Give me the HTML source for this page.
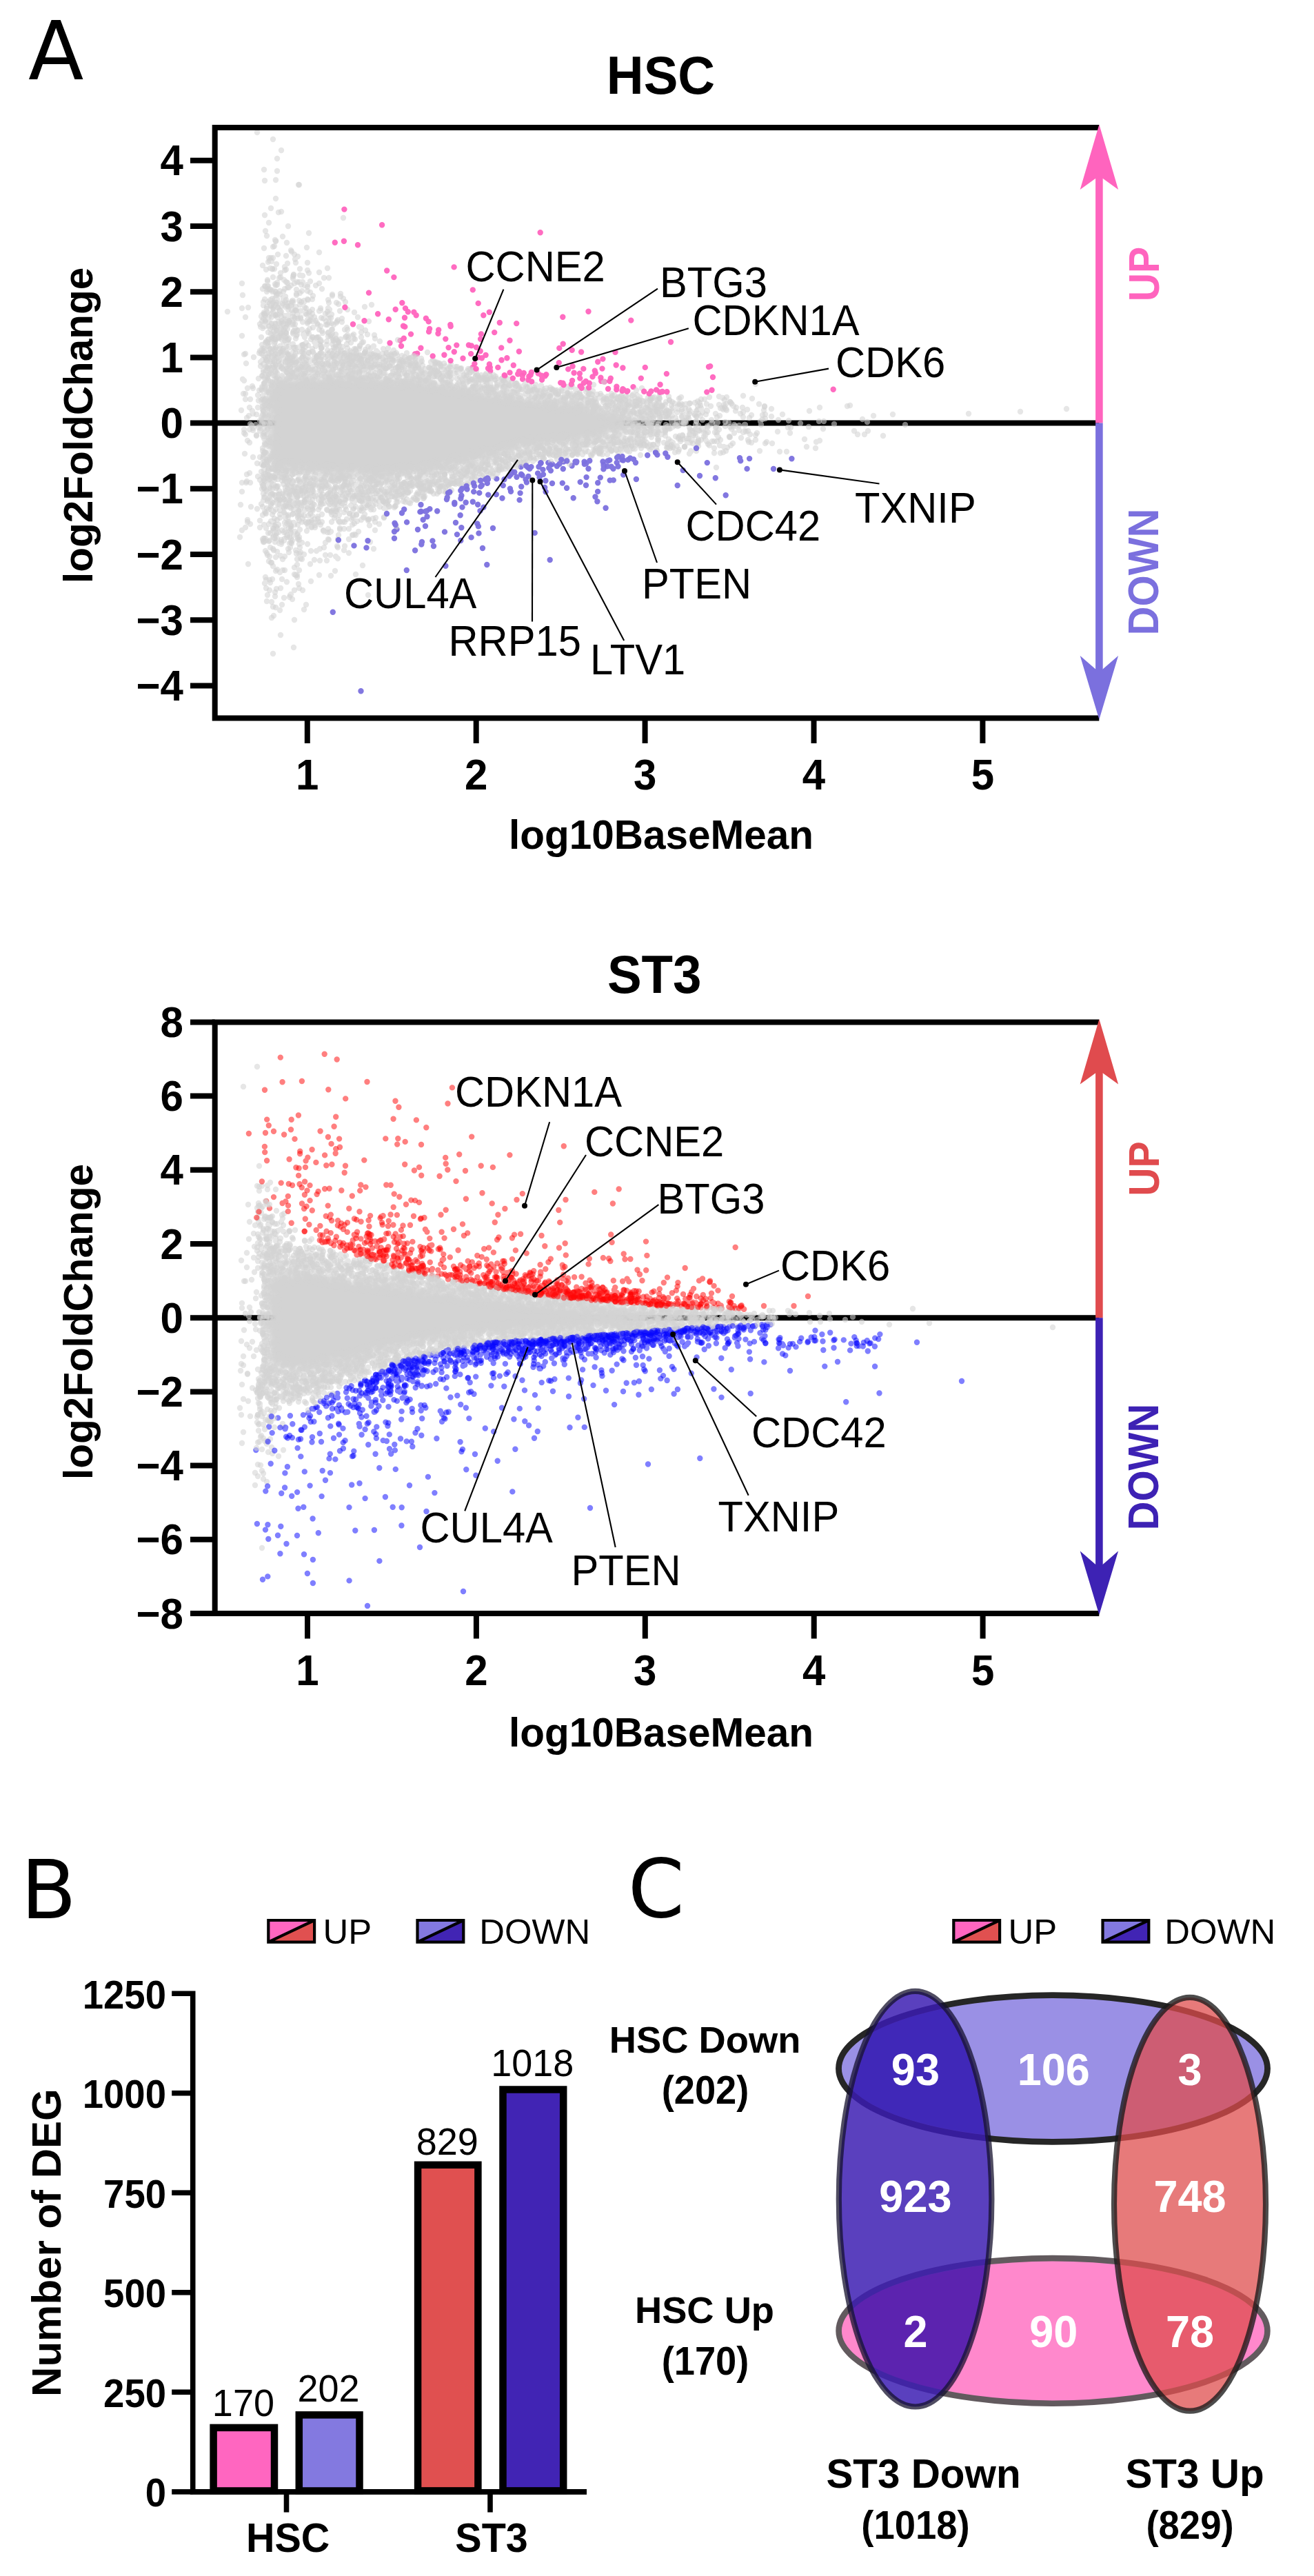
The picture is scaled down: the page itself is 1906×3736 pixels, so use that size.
<!DOCTYPE html>
<html lang="en"><head><meta charset="utf-8"><title>Figure</title>
<style>html,body{margin:0;padding:0;background:#fff}svg{display:block}</style></head>
<body>
<svg width="1906" height="3736" viewBox="0 0 1906 3736" fill="none">
<rect width="1906" height="3736" fill="#fff"/>
<defs><filter id="bl" x="-5%" y="-30%" width="110%" height="160%"><feGaussianBlur stdDeviation="6"/></filter></defs>
<!-- ============ panel A : HSC ============ -->
<path d="M311.7 613.6H1594.3" stroke="#000" stroke-width="8"/>
<path stroke-linecap="round" d="M841.3 548.6h0M872.2 552.8h0M711.2 538h0M646.3 491.6h0M829.7 507.8h0M876.9 553.6h0M739.5 540.4h0M704.6 515h0M693.6 518.2h0M894.3 565h0M679.9 500.5h0M863.8 541.2h0M846.7 555.5h0M749.2 469.1h0M623.1 476.9h0M757.8 544.8h0M830.1 551.9h0M650.6 504.1h0M591.8 452.3h0M622.1 481h0M1025.3 568.6h0M732.4 545.5h0M767.3 545.9h0M602 513.5h0M770.8 540h0M885.8 548.7h0M957.6 557.8h0M811.3 504.9h0M744.8 529.7h0M758.1 549.9h0M710.8 533h0M727.5 522.2h0M752.9 509.8h0M571.4 402.1h0M691 503.8h0M685.4 533.1h0M966.9 542.1h0M587.3 473.9h0M792.3 543.1h0M952.1 565.4h0M849.8 553h0M565.5 497.5h0M605.2 512.8h0M580.6 493.9h0M918.5 561.1h0M617.9 461.7h0M832.6 540.8h0M824.2 535.4h0M635.5 483.7h0M585.8 490.8h0" stroke="#FF64BE" stroke-width="8.4" opacity="0.95"/>
<path stroke-linecap="round" d="M746.3 684.7h0M874.5 669.5h0M696.5 740.9h0M910.9 666.9h0M822.1 707.8h0M787.5 681.1h0M755.6 677h0M951 656h0M575.5 767.8h0M738.7 690.6h0M880.9 676.4h0M720.3 694.4h0M829.6 675.5h0M1052.7 718.3h0M801 673.1h0M693.1 731.7h0M692.3 759.4h0M784.6 671.8h0M741 712.7h0M677.5 709.5h0M886.7 676.7h0M894.7 670.9h0M801 701h0M922.9 695h0M683.6 779.4h0M815.8 700.6h0M884.3 667.4h0M602.1 798.3h0M669.4 718.8h0M668.3 784h0M902.5 662h0M610.8 741.7h0M688.2 704.9h0M807.9 676h0M613.7 753.8h0M953.4 659.6h0M795.3 671.1h0M889.6 679.8h0M765.7 677.9h0M791.4 697.3h0M847.6 669.7h0M623.4 738.1h0M850 703.7h0M791.6 713.3h0M756 687.6h0M867.1 712.9h0M627.4 784.4h0M659.3 731.1h0M939.2 660.2h0M646.4 820.8h0M763.9 699.6h0M572.5 758.7h0M788 688.1h0M968.4 662.7h0M781.5 677h0M902.3 667h0M953.3 659.4h0M756.2 705.8h0M766.4 690.9h0M817.5 669.6h0" stroke="#7B70DE" stroke-width="8.4" opacity="0.95"/>
<path d="M390.7 555.8L398 551.1L405.4 547.2L412.7 547.2L420.1 547.2L427.4 547.2L434.8 547.2L442.1 547.2L449.5 547.2L456.8 547.2L464.2 547.2L471.5 547.2L478.9 547.2L486.2 547.2L493.6 547.2L500.9 547.2L508.2 547.2L515.6 547.2L522.9 547.2L530.3 547.2L537.6 547.2L545 547.2L552.3 547.7L559.7 548.3L567 548.9L574.4 549.5L581.7 550.1L589.1 550.7L596.4 551.3L603.8 551.9L611.1 552.5L618.5 553.4L625.8 554.5L633.1 555.7L640.5 556.9L647.8 558L655.2 559.2L662.5 560.4L669.9 561.5L677.2 562.7L684.6 563.9L691.9 565.2L699.3 566.6L706.6 567.9L714 569.3L721.3 570.6L728.7 572L736 573.3L743.4 574.7L750.7 576.1L758 577.2L765.4 578L772.7 578.9L780.1 579.7L787.4 580.5L794.8 581.4L802.1 582.2L809.5 582.8L816.8 583.4L824.2 583.9L831.5 584.5L838.9 585.1L846.2 585.6L853.6 587.3L860.9 590.2L868.3 592.9L875.6 595.6L882.9 598.1L890.3 600.6L897.6 602.9L905 605.2L912.3 607.4L919.7 609.4L927 611.4L934.4 612.6L934.4 614.6L927 615.7L919.7 617.6L912.3 619.6L905 621.7L897.6 623.9L890.3 626.1L882.9 628.5L875.6 630.9L868.3 633.4L860.9 636L853.6 638.7L846.2 640.4L838.9 640.9L831.5 641.4L824.2 641.9L816.8 642.5L809.5 643L802.1 643.6L794.8 644.5L787.4 645.5L780.1 646.4L772.7 647.4L765.4 648.3L758 649.3L750.7 650.7L743.4 652.6L736 654.5L728.7 656.4L721.3 658.2L714 660.1L706.6 662L699.3 663.9L691.9 665.8L684.6 667.6L677.2 669.3L669.9 671L662.5 672.7L655.2 674.4L647.8 676L640.5 677.7L633.1 679.4L625.8 681.1L618.5 682.7L611.1 683.9L603.8 684.7L596.4 685.4L589.1 686.2L581.7 686.9L574.4 687.6L567 688.4L559.7 689.1L552.3 689.9L545 690.6L537.6 690.2L530.3 689.9L522.9 689.5L515.6 689.1L508.2 688.8L500.9 688.4L493.6 688L486.2 687.6L478.9 687.3L471.5 686.7L464.2 686L456.8 685.3L449.5 684.5L442.1 683.8L434.8 683.1L427.4 682.4L420.1 681.6L412.7 680.9L405.4 680.2L398 676.1L390.7 671.4Z" fill="#D3D3D3" filter="url(#bl)"/>
<path stroke-linecap="round" d="M351 487h0m6 213h0m2-61h0m0 118h0m1-311h0m3 169h0m3-55h0m6 41h0m1-409h0m0 546h0m1-147h0m3 19h0m0 145h0m1-281h0m1 131h0m0 2h0m1-41h0m0 49h0m1-196h0m0 57h0m0 113h0m0 26h0m0 35h0m0 42h0m1-152h0m0 62h0m0 101h0m1-194h0m0 47h0m0 118h0m0 34h0m0 78h0m1-206h0m0 47h0m0 16h0m1-179h0m0 121h0m0 252h0m1-446h0m0 132h0m0 28h0m1-209h0m0 227h0m0 101h0m0 67h0m1-219h0m0 70h0m0 35h0m0 70h0m0 34h0m1-245h0m0 10h0m0 30h0m0 125h0m1-187h0m0 32h0m0 268h0m1-320h0m0 416h0m1-246h0m0 28h0m0 87h0m0 48h0m1-471h0m0 142h0m0 97h0m0 38h0m0 59h0m0 178h0m1-347h0m0 43h0m0 66h0m0 49h0m0 21h0m0 32h0m1-240h0m0 66h0m0 18h0m0 30h0m0 108h0m0 41h0m0 26h0m1-355h0m0 159h0m0 98h0m0 7h0m0 128h0m1-285h0m0 8h0m0 309h0m1-408h0m0 258h0m0 7h0m0 25h0m0 24h0m1-62h0m0 1h0m0 50h0m1-432h0m0 457h0m0 3h0m0 87h0m1-425h0m0 109h0m0 57h0m1-136h0m0 47h0m0 171h0m0 123h0m1-240h0m0 142h0m0 8h0m0 18h0m0 13h0m1-206h0m0 35h0m1 47h0m0 100h0m0 41h0m0 20h0m1-310h0m0 28h0m0 5h0m0 51h0m0 49h0m0 161h0m0 30h0m1-344h0m0 52h0m0 277h0m0 190h0m1-387h0m0 24h0m1-89h0m0 262h0m0 109h0m1-111h0m1-258h0m0 16h0m0 230h0m1-239h0m0 7h0m0 204h0m0 48h0m0 8h0m0 27h0m0 12h0m1-57h0m0 43h0m0 11h0m1-315h0m0 220h0m0 21h0m0 3h0m0 24h0m0 17h0m1-360h0m0 44h0m0 246h0m0 27h0m0 39h0m1-259h0m0 62h0m0 174h0m0 35h0m0 85h0m1-427h0m0 102h0m0 190h0m0 1h0m1-196h0m0 218h0m1-267h0m0 79h0m0 2h0m0 172h0m1-189h0m0 143h0m0 107h0m1-336h0m0 103h0m1-132h0m0 29h0m0 102h0m0 13h0m0 169h0m0 2h0m0 33h0m1-80h0m1-246h0m0 235h0m0 17h0m0 43h0m1-295h0m0 75h0m0 15h0m0 180h0m1-307h0m0 122h0m0 8h0m1-160h0m0 146h0m1 13h0m0 12h0m1-90h0m0 31h0m0 225h0m0 11h0m1-192h0m0 12h0m0 148h0m0 27h0m0 90h0m0 1h0m1-347h0m0 23h0m0 25h0m0 39h0m0 165h0m0 13h0m0 54h0m1-14h0m1-493h0m0 446h0m1 75h0m1-364h0m1 287h0m1-299h0m0 88h0m0 245h0m1-214h0m0 18h0m0 237h0m1-270h0m0 25h0m0 15h0m0 117h0m1-174h0m1-64h0m0 2h0m2 254h0m1-195h0m0 227h0m1-173h0m0 219h0m1-301h0m0 268h0m1-55h0m0 3h0m0 72h0m1-361h0m3 279h0m1 39h0m1-208h0m0 178h0m0 26h0m0 15h0m1-250h0m0 14h0m0 21h0m2 13h0m0 209h0m1 30h0m1-348h0m0 51h0m3 284h0m1-213h0m0 203h0m2-245h0m0 211h0m1-232h0m0 20h0m1 2h0m0 17h0m0 214h0m1-2h0m1-19h0m1 0h0m2-150h0m0 120h0m1 112h0m1-316h0m1 83h0m0 185h0m1-198h0m1-94h0m0 95h0m0 225h0m1-62h0m0 16h0m0 62h0m1-334h0m0 99h0m0 137h0m0 47h0m1-7h0m1-195h0m0 145h0m0 5h0m0 16h0m1-141h0m0 188h0m0 14h0m1-217h0m1-46h0m0 52h0m0 176h0m1-204h0m0 161h0m1-3h0m1-158h0m0 229h0m0 81h0m1-325h0m0 30h0m1-27h0m0 8h0m0 11h0m0 172h0m0 11h0m0 9h0m2-253h0m0 224h0m0 1h0m0 31h0m0 74h0m1-297h0m0 14h0m0 180h0m0 85h0m1-79h0m1-170h0m0 22h0m0 8h0m0 209h0m1-84h0m0 24h0m1-167h0m1 153h0m0 38h0m1-173h0m1-241h0m0 389h0m1-2h0m1-179h0m1-35h0m0 246h0m2-46h0m1-203h0m0 60h0m1-13h0m0 153h0m0 36h0m1-207h0m0 204h0m1-197h0m0 182h0m0 6h0m2-213h0m0 27h0m0 153h0m1-128h0m0 134h0m1-196h0m0 41h0m0 233h0m1-84h0m0 99h0m1-285h0m0 26h0m0 3h0m1-67h0m0 266h0m0 56h0m1-244h0m1-18h0m0 222h0m1-185h0m1-34h0m1 194h0m2-168h0m0 16h0m0 160h0m1-197h0m0 19h0m0 186h0m1-178h0m0 135h0m0 30h0m1-192h0m0 183h0m0 22h0m0 15h0m1-216h0m0 202h0m1-179h0m0 175h0m1-227h0m0 35h0m0 195h0m0 13h0m1-54h0m0 20h0m0 18h0m1-212h0m0 11h0m1-43h0m0 28h0m0 207h0m1-171h0m0 139h0m0 42h0m1-176h0m2 135h0m0 40h0m0 30h0m1-287h0m0 230h0m1 66h0m1-229h0m0 160h0m1-153h0m0 139h0m0 19h0m1-141h0m1-5h0m1 151h0m2-217h0m0 72h0m1-43h0m0 6h0m0 8h0m0 31h0m0 143h0m1-177h0m0 225h0m1-55h0m0 19h0m0 1h0m1-196h0m0 26h0m1 141h0m1 2h0m0 7h0m2-167h0m0 11h0m1 181h0m1-29h0m1-12h0m1 12h0m5 16h0m0 16h0m0 2h0m2-13h0m2-186h0m0 207h0m5-212h0m0 8h0m0 170h0m1-175h0m0 160h0m3-8h0m1-133h0m0 190h0m1-222h0m0 166h0m1-131h0m0 9h0m1-63h0m0 198h0m0 37h0m2-198h0m0 153h0m1-156h0m1 150h0m1-135h0m1-9h0m0 169h0m4-184h0m0 24h0m1 15h0m0 122h0m0 32h0m1-155h0m2-28h0m0 17h0m0 3h0m0 166h0m1 0h0m2-161h0m0 148h0m2-168h0m1 161h0m1-168h0m2 196h0m2-192h0m0 13h0m0 19h0m2-18h0m0 2h0m0 148h0m0 31h0m2-47h0m1-120h0m0 3h0m0 138h0m0 17h0m2-41h0m1-124h0m0 159h0m1-19h0m1-167h0m0 182h0m1-34h0m0 25h0m1 23h0m1-38h0m1-141h0m0 166h0m1-155h0m0 137h0m0 6h0m0 8h0m0 6h0m2-12h0m4 4h0m0 5h0m1-26h0m3-113h0m2 104h0m1 19h0m1-18h0m1-130h0m2 4h0m0 141h0m2 2h0m2-162h0m0 40h0m2 111h0m1-116h0m1-17h0m0 2h0m2-11h0m0 143h0m1-130h0m0 139h0m1-136h0m4-11h0m1 18h0m0 112h0m0 33h0m1-28h0m2-148h0m1 183h0m2-143h0m2 101h0m1-107h0m1 112h0m0 11h0m1-149h0m0 133h0m0 8h0m0 21h0m3 3h0m1-146h0m0 14h0m1 119h0m1-153h0m0 161h0m1 9h0m1-143h0m0 110h0m2-100h0m0 98h0m0 10h0m1-136h0m0 149h0m1-131h0m0 130h0m1-32h0m0 33h0m0 9h0m1-17h0m1 9h0m1-14h0m0 3h0m1-113h0m0 123h0m2-152h0m0 11h0m1-17h0m1 31h0m0 10h0m0 101h0m1-17h0m2-97h0m2-11h0m0 9h0m0 127h0m0 5h0m1-6h0m0 1h0m1-6h0m1-121h0m0 3h0m2 96h0m0 37h0m1-36h0m1 22h0m2-136h0m0 14h0m1-17h0m2 109h0m4-109h0m0 121h0m0 5h0m2-101h0m2-9h0m0 114h0m1-19h0m3-92h0m1 93h0m1-75h0m3-13h0m0 102h0m1-119h0m1 98h0m0 11h0m1-96h0m0 15h0m0 75h0m1-93h0m2 11h0m1 90h0m0 20h0m4-133h0m1 13h0m0 6h0m0 100h0m2-10h0m1-98h0m1 111h0m1-96h0m0 89h0m1 4h0m1-104h0m4 15h0m0 69h0m0 18h0m0 16h0m1-109h0m3-5h0m1 14h0m1-3h0m0 69h0m1-92h0m1 83h0m2-69h0m0 107h0m2-17h0m4 11h0m2-81h0m0 48h0m1 0h0m0 7h0m2 29h0m2-113h0m1 6h0m1 102h0m1-84h0m4-19h0m2 20h0m2 54h0m0 24h0m1-24h0m0 10h0m2-3h0m1-67h0m0 3h0m0 54h0m1 2h0m1 9h0m1-72h0m0 73h0m2-3h0m1 16h0m2-12h0m1-59h0m0 71h0m2-87h0m1 9h0m1-9h0m0 17h0m2-16h0m0 6h0m0 10h0m1 45h0m2 19h0m1 0h0m1-80h0m0 75h0m0 5h0m1-82h0m2 68h0m1-76h0m0 94h0m2-79h0m0 9h0m1-3h0m1-16h0m0 24h0m0 41h0m0 17h0m7-72h0m3-4h0m2 55h0m1-56h0m1 1h0m1 74h0m1 0h0m1-14h0m1-67h0m1 4h0m4-3h0m1 89h0m1-71h0m1-16h0m3 14h0m0 7h0m0 47h0m1-55h0m1 72h0m1-4h0m1-11h0m1 7h0m2-63h0m0 6h0m2-16h0m1 68h0m4-1h0m1-10h0m1 6h0m2-56h0m2 44h0m1-57h0m3 1h0m1 16h0m0 8h0m0 34h0m0 28h0m1-100h0m1 22h0m0 62h0m1-2h0m2-1h0m4-62h0m0 28h0m0 44h0m1-57h0m0 46h0m2-64h0m0 80h0m2-79h0m0 30h0m1 36h0m3-63h0m2 0h0m1 6h0m0 75h0m1-72h0m1 61h0m1-68h0m0 71h0m1-6h0m2-69h0m0 78h0m2-51h0m1 34h0m0 6h0m3-60h0m0 7h0m1 33h0m2 14h0m1-43h0m0 5h0m0 43h0m1-23h0m2 26h0m0 1h0m1-65h0m1-8h0m3 71h0m1-22h0m1-26h0m2-9h0m0 10h0m0 30h0m2-11h0m1-29h0m0 58h0m1-63h0m0 15h0m0 41h0m2-19h0m0 17h0m1 2h0m1-12h0m1-30h0m1 55h0m2 0h0m2-61h0m2 41h0m1-52h0m0 39h0m2-25h0m2 5h0m1-17h0m0 24h0m1-15h0m0 1h0m0 46h0m1 9h0m1-57h0m0 55h0m1-50h0m1-12h0m0 20h0m0 28h0m1 16h0m1-15h0m3-19h0m0 5h0m1-13h0m1-25h0m0 15h0m1-9h0m0 19h0m1 30h0m1-23h0m1-34h0m0 14h0m5 23h0m1-18h0m0 1h0m1 45h0m0 2h0m1-50h0m0 33h0m1-49h0m1 26h0m0 6h0m3 20h0m3 12h0m3-45h0m0 3h0m0 16h0m1 27h0m2-22h0m0 27h0m2-68h0m1 70h0m1-10h0m1-37h0m1-7h0m0 7h0m1 39h0m3-25h0m0 39h0m6-4h0m5-20h0m2-17h0m2-23h0m19 47h0m11-38h0m3 26h0m0 17h0m3-28h0m3-3h0m3 37h0m2-30h0m2-15h0m11-14h0m3 4h0m4 38h0m3-48h0m6 11h0m15 30h0m8-24h0m6 29h0m7-20h0m1 5h0m6-15h0m9 3h0m10 5h0m2 46h0m16-35h0m20 17h0m27-15h0m101-21h0m18 15h0m167-19h0" stroke="#D3D3D3" stroke-width="8.4" opacity="0.57"/>
<path stroke-linecap="round" d="M351 411h0m0 358h0m3-141h0m2-49h0m0 186h0m2-159h0m6 129h0m1-118h0m9 74h0m1-71h0m1-108h0m0 54h0m2-41h0m1-36h0m0 91h0m0 93h0m1-112h0m0 49h0m1-88h0m0 213h0m1-139h0m0 63h0m0 127h0m1-230h0m0 51h0m0 25h0m0 4h0m0 34h0m0 38h0m1-396h0m0 249h0m0 137h0m0 44h0m0 42h0m1-318h0m0 31h0m0 115h0m0 44h0m1-202h0m0 78h0m0 321h0m1-405h0m0 354h0m0 70h0m1-370h0m0 22h0m0 24h0m0 91h0m0 36h0m1-237h0m0 80h0m0 74h0m0 12h0m0 12h0m0 66h0m1-263h0m0 54h0m0 110h0m0 31h0m0 171h0m1-118h0m1-79h0m0 46h0m0 74h0m1-334h0m0 244h0m0 74h0m0 39h0m0 25h0m1-266h0m0 326h0m0 57h0m1-450h0m0 145h0m0 2h0m0 73h0m0 113h0m0 84h0m1-638h0m0 246h0m0 132h0m0 110h0m0 106h0m0 152h0m1-191h0m0 21h0m1-120h0m0 14h0m0 24h0m0 84h0m1-432h0m0 85h0m0 59h0m0 76h0m0 12h0m1-231h0m0 180h0m0 176h0m0 3h0m1-281h0m0 52h0m0 111h0m0 59h0m0 11h0m0 48h0m1-478h0m0 204h0m0 22h0m0 175h0m0 43h0m0 12h0m0 80h0m0 34h0m1-362h0m0 170h0m0 63h0m0 54h0m1-169h0m0 2h0m0 123h0m0 10h0m1-141h0m0 120h0m0 47h0m1 23h0m0 90h0m2-612h0m0 89h0m0 137h0m0 40h0m0 8h0m1 18h0m0 367h0m1-534h0m0 484h0m1-385h0m0 54h0m0 10h0m0 48h0m0 117h0m1-118h0m0 117h0m0 9h0m0 12h0m0 33h0m1-305h0m0 278h0m1-222h0m0 15h0m1-7h0m0 56h0m0 145h0m0 89h0m1-224h0m0 150h0m0 80h0m1-335h0m0 76h0m0 182h0m0 33h0m0 42h0m1-281h0m0 35h0m0 138h0m0 88h0m1-289h0m0 55h0m0 148h0m1 2h0m0 53h0m1-183h0m0 6h0m1-186h0m0 374h0m0 27h0m0 23h0m2-76h0m0 158h0m1-333h0m0 209h0m1-265h0m0 278h0m1-51h0m0 54h0m0 62h0m1-353h0m0 34h0m0 2h0m0 41h0m1-56h0m0 35h0m0 9h0m0 182h0m1-297h0m0 8h0m2 354h0m1-249h0m0 186h0m1-209h0m1-111h0m1 63h0m0 70h0m0 139h0m0 45h0m1-183h0m1 176h0m0 102h0m1-411h0m0 100h0m0 7h0m0 245h0m2-214h0m0 346h0m1-358h0m0 14h0m0 172h0m0 13h0m0 15h0m1-37h0m0 3h0m1-259h0m0 85h0m0 163h0m2-136h0m1-58h0m0 33h0m1-50h0m0 28h0m0 37h0m0 151h0m1-150h0m0 126h0m0 45h0m0 19h0m1-316h0m0 122h0m0 182h0m1-236h0m0 209h0m1-164h0m0 160h0m0 58h0m0 9h0m1-330h0m0 125h0m0 115h0m1-123h0m0 189h0m1-21h0m2-194h0m0 12h0m0 8h0m0 2h0m1-12h0m1 160h0m1-206h0m0 27h0m1-45h0m0 208h0m1-163h0m1-38h0m0 50h0m1 153h0m0 9h0m0 22h0m0 5h0m0 40h0m1-256h0m0 230h0m1-226h0m0 190h0m1-162h0m0 11h0m0 145h0m0 19h0m0 23h0m0 15h0m0 11h0m1-274h0m0 54h0m0 185h0m1-260h0m0 97h0m0 210h0m1-366h0m0 273h0m1-137h0m0 7h0m0 130h0m0 10h0m0 35h0m1-266h0m1 219h0m1 30h0m1-188h0m0 256h0m1-290h0m0 31h0m0 47h0m0 156h0m1-254h0m0 6h0m2 256h0m0 81h0m1-319h0m0 349h0m1-317h0m1-40h0m0 6h0m1 52h0m0 162h0m0 41h0m1-235h0m0 186h0m1 18h0m0 24h0m1-216h0m1 291h0m1-80h0m1-261h0m1 28h0m0 9h0m0 191h0m0 116h0m1-266h0m0 210h0m0 1h0m2-237h0m0 20h0m0 219h0m1-331h0m0 260h0m1-183h0m0 190h0m1-169h0m0 153h0m0 14h0m1-188h0m1-70h0m0 97h0m0 175h0m1-192h0m1-35h0m0 206h0m0 14h0m1-183h0m0 18h0m0 192h0m2-250h0m0 41h0m0 12h0m0 4h0m0 151h0m0 70h0m1-60h0m1-164h0m0 185h0m1-186h0m0 15h0m0 137h0m1 12h0m2-157h0m0 2h0m0 22h0m0 174h0m1-222h0m0 188h0m0 3h0m1-158h0m1 207h0m1-54h0m0 40h0m1 22h0m1-235h0m1-18h0m0 26h0m0 20h0m1-41h0m0 2h0m0 26h0m0 179h0m0 28h0m2-25h0m2-180h0m0 18h0m0 166h0m1-223h0m0 50h0m0 188h0m1-191h0m0 158h0m0 10h0m1-228h0m0 33h0m0 161h0m0 28h0m1-214h0m4 34h0m1 17h0m0 144h0m0 9h0m1-20h0m0 19h0m2-215h0m0 38h0m0 3h0m0 4h0m2 24h0m0 139h0m0 9h0m1 9h0m1-197h0m0 179h0m1-160h0m0 12h0m0 152h0m1-164h0m0 161h0m2 3h0m1-181h0m0 280h0m1-252h0m0 137h0m1-152h0m0 177h0m0 63h0m2-86h0m3-5h0m1 41h0m0 8h0m1-188h0m1 6h0m0 135h0m1 11h0m0 9h0m0 9h0m0 17h0m3-200h0m0 6h0m1 25h0m0 193h0m1-189h0m0 152h0m1-190h0m0 11h0m0 196h0m1-198h0m0 17h0m1 148h0m1-164h0m0 198h0m1-226h0m0 216h0m1-172h0m1 138h0m1 30h0m1-172h0m0 137h0m1-156h0m1 150h0m0 8h0m1-145h0m0 15h0m0 166h0m1-197h0m1 180h0m1-164h0m0 1h0m1-1h0m0 174h0m1-161h0m1 171h0m1-25h0m1-177h0m0 11h0m0 187h0m1-10h0m2-31h0m0 31h0m1 0h0m0 9h0m0 2h0m1-197h0m0 2h0m1 5h0m1 27h0m1 156h0m1-151h0m0 116h0m0 23h0m2-151h0m2 136h0m0 6h0m1 14h0m0 9h0m1-195h0m0 168h0m1 15h0m1-12h0m1-161h0m0 29h0m0 115h0m1 26h0m2-182h0m0 187h0m1-144h0m2-27h0m0 16h0m1-24h0m0 167h0m2-142h0m0 153h0m1 10h0m1-153h0m0 132h0m2-9h0m1 33h0m2-33h0m0 24h0m1 7h0m1-10h0m1 4h0m1 11h0m1-37h0m1-131h0m2-41h0m0 161h0m1 25h0m1-149h0m0 163h0m1-178h0m1 152h0m1 9h0m3-24h0m0 8h0m0 8h0m1-130h0m0 160h0m1-152h0m0 126h0m1-164h0m0 1h0m0 9h0m2 141h0m1-135h0m0 3h0m0 157h0m1-36h0m0 9h0m0 4h0m1-138h0m0 133h0m1-131h0m1 134h0m0 7h0m1-119h0m0 117h0m0 24h0m1-174h0m1 147h0m1-124h0m4-24h0m0 26h0m0 8h0m0 4h0m0 139h0m1 6h0m1-170h0m0 11h0m1-9h0m2 18h0m1 116h0m0 35h0m1-162h0m1 148h0m1-23h0m1-114h0m0 127h0m1 0h0m2 10h0m2-169h0m0 134h0m1-106h0m1-20h0m0 131h0m1-107h0m1 96h0m1 5h0m2-130h0m1 166h0m1-162h0m2 17h0m1 8h0m0 118h0m3-15h0m1-112h0m0 112h0m0 23h0m2-14h0m1-1h0m0 10h0m2-27h0m1-85h0m0 96h0m1-1h0m1-130h0m0 12h0m1 125h0m0 10h0m2-13h0m2-127h0m0 120h0m1 9h0m0 17h0m6-30h0m0 15h0m2-12h0m0 9h0m1-19h0m0 7h0m2-98h0m0 88h0m1-101h0m0 131h0m0 13h0m3-143h0m1 118h0m1-7h0m1-90h0m1 107h0m1 6h0m1-139h0m0 134h0m3-111h0m2 90h0m1-109h0m1 131h0m1-132h0m0 113h0m0 9h0m4-5h0m2-96h0m2 3h0m3-12h0m0 12h0m1-22h0m1 34h0m0 63h0m0 12h0m0 10h0m1 6h0m1-109h0m0 7h0m0 1h0m0 8h0m2 67h0m1-100h0m0 3h0m0 102h0m1-97h0m1 98h0m1-1h0m2 1h0m1-93h0m4 22h0m1-22h0m0 3h0m0 98h0m1-105h0m3 5h0m0 88h0m4 8h0m1-73h0m5 53h0m0 17h0m0 9h0m3-10h0m2-96h0m0 102h0m1-27h0m4-70h0m0 74h0m5 20h0m1-8h0m0 7h0m5 1h0m2-12h0m1 2h0m1-3h0m0 14h0m1 5h0m2-98h0m0 68h0m0 20h0m1-69h0m3-5h0m0 13h0m1 40h0m1-42h0m1 41h0m2 4h0m3 2h0m2 8h0m1-78h0m0 19h0m1-3h0m1-2h0m1-11h0m2 82h0m3-23h0m0 24h0m2-59h0m0 61h0m1-13h0m1-66h0m0 65h0m0 14h0m1-74h0m1-4h0m0 81h0m2-20h0m0 22h0m1-72h0m2 42h0m4 19h0m1-7h0m3 13h0m2-11h0m1 0h0m1-55h0m1 68h0m3-67h0m1-5h0m1-11h0m1 14h0m6 53h0m3-59h0m0 43h0m0 11h0m1-66h0m1 73h0m2 15h0m2-14h0m2-55h0m0 54h0m1-18h0m0 16h0m1-47h0m0 59h0m3-83h0m2 17h0m0 49h0m1-6h0m1 24h0m1-32h0m1 2h0m1-33h0m0 49h0m2 3h0m3-12h0m1-45h0m0 3h0m0 28h0m0 7h0m1-28h0m0 47h0m1-57h0m2 32h0m1 26h0m1-58h0m0 32h0m1-4h0m0 7h0m0 22h0m1-58h0m0 54h0m1-67h0m0 43h0m0 29h0m1-62h0m1 4h0m0 46h0m1-28h0m1-12h0m0 33h0m3-34h0m0 45h0m0 1h0m0 3h0m1-2h0m1-34h0m1-1h0m2 37h0m0 9h0m1-25h0m1 22h0m1-48h0m1 24h0m1-18h0m1-12h0m0 30h0m1 12h0m1-61h0m0 48h0m1-36h0m2 56h0m5 3h0m3-27h0m1 2h0m1-39h0m0 1h0m0 6h0m2-6h0m1 1h0m0 16h0m1 18h0m0 11h0m2-48h0m0 17h0m0 2h0m0 18h0m2 26h0m0 16h0m2-36h0m1-21h0m0 16h0m2 2h0m1-21h0m2 26h0m0 1h0m1-43h0m1 4h0m4 12h0m0 45h0m1-44h0m1-23h0m0 71h0m4-73h0m1 11h0m2-7h0m1 17h0m0 33h0m2-15h0m1-15h0m1-29h0m8 53h0m0 8h0m2 17h0m3-74h0m0 31h0m1 16h0m4-39h0m0 66h0m10-71h0m1 54h0m2 0h0m1-35h0m1 34h0m2-18h0m2-1h0m5-5h0m1 13h0m3 19h0m1-2h0m4-35h0m0 21h0m1 8h0m1-35h0m1 45h0m1-59h0m2 43h0m5-16h0m7 9h0m5-29h0m2 51h0m7-13h0m3-40h0m1 59h0m1 11h0m3-65h0m2 56h0m2-36h0m2-36h0m1 73h0m4-66h0m3 4h0m2 2h0m8 35h0m6-26h0m7 40h0m24-49h0m1 18h0m10 36h0m21 12h0m2-35h0m27 28h0m3-29h0m15-8h0m1-20h0m62 17h0m7 4h0m147-12h0" stroke="#D3D3D3" stroke-width="8.4" opacity="0.57"/>
<path stroke-linecap="round" d="M330 452h0m22 98h0m2 2h0m2-92h0m0 170h0m10-34h0m1-33h0m0 37h0m0 24h0m0 39h0m5-31h0m5-7h0m0 38h0m0 33h0m1-72h0m1-59h0m1-99h0m0 34h0m0 45h0m0 63h0m1-223h0m0 177h0m0 32h0m1-156h0m0 5h0m0 72h0m0 13h0m0 9h0m0 247h0m1-331h0m0 129h0m0 31h0m1-351h0m0 153h0m0 113h0m0 7h0m0 2h0m0 68h0m1-148h0m0 1h0m0 120h0m0 1h0m0 10h0m0 155h0m0 37h0m1-284h0m0 25h0m0 58h0m0 204h0m1-361h0m0 187h0m0 20h0m0 37h0m0 43h0m1-213h0m0 93h0m0 95h0m0 18h0m1-169h0m0 17h0m0 15h0m0 73h0m0 65h0m0 1h0m1-64h0m0 37h0m0 3h0m0 133h0m1-436h0m0 210h0m0 27h0m0 67h0m0 24h0m1-88h0m0 176h0m0 51h0m1-361h0m0 70h0m0 36h0m0 51h0m0 59h0m0 34h0m1-355h0m0 81h0m0 57h0m1-27h0m0 176h0m0 50h0m1-358h0m0 44h0m0 37h0m0 13h0m0 6h0m0 72h0m0 126h0m0 73h0m1-284h0m0 71h0m0 80h0m1-122h0m0 60h0m0 158h0m0 60h0m1-183h0m0 53h0m0 18h0m0 34h0m0 7h0m1-258h0m0 90h0m0 27h0m0 90h0m0 29h0m0 6h0m0 163h0m1-348h0m0 126h0m0 69h0m0 89h0m0 90h0m2-408h0m0 130h0m0 97h0m1-206h0m0 19h0m0 4h0m0 102h0m1-189h0m0 47h0m0 19h0m0 206h0m0 2h0m0 111h0m1-63h0m1-215h0m0 296h0m1-354h0m0 31h0m0 306h0m1-244h0m0 126h0m0 26h0m1-163h0m0 148h0m1 53h0m1-329h0m1-19h0m0 71h0m0 349h0m1-362h0m0 80h0m1-42h0m0 247h0m1-190h0m0 153h0m1-311h0m0 28h0m0 59h0m0 69h0m0 238h0m1-448h0m0 112h0m0 9h0m0 8h0m0 339h0m1-281h0m0 8h0m1-59h0m0 293h0m1-225h0m0 16h0m0 315h0m1-100h0m0 10h0m0 89h0m1-497h0m0 158h0m0 146h0m0 32h0m1-182h0m0 169h0m0 96h0m1-380h0m0 80h0m0 214h0m0 35h0m1-19h0m1-253h0m0 395h0m1-309h0m0 130h0m0 36h0m0 17h0m1-285h0m0 353h0m1-348h0m0 267h0m1-232h0m0 39h0m0 196h0m0 117h0m1-64h0m1-251h0m0 174h0m1-287h0m0 275h0m0 46h0m0 53h0m0 44h0m1-291h0m0 203h0m0 29h0m1-211h0m0 244h0m1-66h0m1-215h0m0 159h0m1-270h0m0 58h0m0 240h0m1-222h0m0 22h0m0 7h0m0 4h0m1-10h0m0 37h0m0 175h0m0 8h0m1-314h0m0 75h0m1-34h0m0 28h0m0 27h0m0 181h0m1-238h0m0 70h0m1-40h0m0 69h0m1-171h0m0 32h0m1 22h0m0 101h0m0 175h0m0 37h0m0 15h0m1-252h0m0 45h0m0 136h0m2-284h0m0 125h0m1 1h0m0 139h0m1 92h0m1-310h0m0 77h0m0 173h0m0 34h0m1 19h0m1-66h0m0 14h0m2-33h0m0 15h0m0 7h0m0 63h0m1-62h0m1-178h0m0 11h0m0 174h0m0 96h0m2-256h0m2-29h0m0 7h0m1-8h0m0 283h0m1-301h0m0 26h0m1-16h0m0 191h0m1-277h0m0 109h0m2 242h0m1-224h0m0 225h0m2-72h0m1-233h0m0 216h0m1 131h0m1-265h0m0 159h0m0 10h0m0 23h0m1-12h0m1-203h0m0 5h0m1 242h0m1-41h0m1-21h0m0 61h0m1-302h0m0 83h0m0 133h0m1-256h0m0 126h0m0 122h0m0 14h0m0 2h0m1 29h0m1-47h0m0 21h0m0 35h0m1-206h0m0 5h0m0 188h0m1-2h0m0 15h0m1-240h0m0 2h0m0 235h0m1-289h0m0 88h0m0 26h0m2 128h0m0 101h0m2-43h0m1-45h0m0 1h0m0 32h0m1-297h0m0 80h0m0 47h0m0 156h0m0 1h0m1-189h0m0 182h0m1-172h0m0 154h0m1-161h0m1 162h0m1 53h0m1-231h0m0 46h0m1 136h0m1-155h0m1-29h0m0 37h0m0 10h0m0 148h0m1-200h0m1-12h0m0 26h0m1 8h0m0 13h0m0 9h0m0 127h0m0 126h0m1-252h0m1-35h0m1 22h0m0 143h0m2-155h0m0 7h0m0 16h0m0 143h0m1 19h0m0 37h0m1-56h0m0 29h0m2-228h0m1 36h0m0 248h0m0 57h0m1-306h0m1 25h0m1-92h0m1 95h0m0 154h0m1-186h0m0 16h0m1-38h0m0 14h0m1 36h0m0 143h0m0 14h0m1-226h0m1 68h0m0 163h0m1-22h0m0 38h0m1-213h0m0 234h0m1-214h0m1-91h0m0 113h0m0 188h0m1-236h0m0 17h0m2 205h0m2-194h0m0 175h0m1-195h0m1 165h0m1-153h0m0 175h0m1-200h0m0 54h0m0 177h0m3-47h0m1-187h0m0 11h0m0 20h0m0 152h0m0 54h0m1-30h0m2-174h0m0 190h0m1-216h0m0 187h0m0 6h0m1-6h0m1-185h0m0 46h0m0 120h0m2-160h0m1 218h0m1-43h0m1 30h0m2 3h0m1 3h0m1-168h0m2 130h0m0 6h0m1-184h0m0 12h0m0 26h0m0 5h0m0 143h0m1-164h0m0 165h0m0 18h0m3-195h0m0 204h0m2-174h0m0 137h0m0 5h0m1-180h0m0 179h0m1-179h0m0 193h0m2-185h0m0 156h0m3 3h0m0 40h0m1-25h0m1-1h0m1-180h0m0 18h0m1 156h0m2-12h0m2-118h0m1-37h0m1 14h0m0 17h0m0 9h0m0 121h0m1-7h0m0 38h0m1-189h0m0 30h0m0 172h0m1-27h0m0 1h0m1-26h0m1 11h0m0 24h0m1-166h0m1-32h0m1 165h0m1 28h0m2-186h0m0 37h0m0 133h0m2-148h0m0 163h0m1-150h0m3 130h0m2-164h0m0 16h0m1 20h0m0 5h0m2 157h0m1-180h0m0 142h0m0 43h0m1-178h0m1-10h0m0 171h0m1-5h0m1-160h0m1 13h0m0 1h0m0 149h0m0 4h0m3-24h0m1-135h0m1 161h0m2-157h0m1 133h0m2-138h0m0 140h0m1-155h0m0 23h0m3-31h0m0 16h0m0 22h0m0 150h0m1-10h0m2-1h0m1-177h0m1 6h0m0 4h0m0 6h0m0 5h0m1 152h0m1-172h0m1 162h0m1-123h0m1-39h0m0 143h0m0 40h0m2-32h0m0 18h0m0 18h0m1-36h0m0 30h0m1-158h0m1-7h0m3 3h0m0 165h0m0 2h0m1-185h0m0 28h0m1 133h0m0 5h0m1-19h0m1 23h0m1-18h0m2 24h0m1-34h0m1-128h0m1-9h0m1 137h0m1-128h0m0 8h0m0 17h0m0 116h0m3 19h0m1-135h0m0 125h0m1-149h0m3 7h0m1 8h0m1 129h0m4-152h0m0 157h0m1-123h0m0 122h0m1-123h0m5-20h0m2 136h0m0 19h0m1-167h0m2 142h0m1-127h0m0 119h0m2 8h0m0 18h0m2-134h0m0 127h0m1-152h0m0 134h0m1-109h0m0 121h0m1-20h0m0 15h0m1-131h0m3 2h0m0 19h0m1-11h0m0 6h0m0 109h0m1-111h0m2 110h0m1-120h0m0 113h0m1 9h0m2-125h0m0 141h0m2-129h0m0 122h0m1 6h0m0 1h0m3-137h0m0 27h0m1 74h0m0 22h0m1-105h0m1 98h0m0 21h0m2-139h0m0 126h0m5 12h0m1-19h0m1-122h0m2 12h0m0 19h0m0 3h0m0 107h0m1-1h0m2-36h0m0 30h0m1-4h0m3-118h0m0 88h0m2-93h0m1 1h0m1 0h0m1 98h0m0 28h0m2-107h0m1-16h0m0 106h0m1-17h0m1 17h0m1-79h0m1-25h0m0 18h0m2-23h0m1 23h0m2 67h0m1-75h0m0 99h0m2-108h0m0 89h0m0 25h0m1-118h0m1 116h0m2-89h0m0 74h0m4-92h0m5 92h0m2-10h0m0 1h0m2-86h0m1 18h0m0 6h0m1 56h0m1-75h0m2 90h0m0 7h0m1-94h0m0 5h0m5 0h0m1-17h0m1 5h0m0 89h0m1-87h0m2 84h0m1-61h0m0 46h0m2 2h0m1-60h0m2 88h0m1-95h0m0 65h0m2-1h0m0 23h0m1-70h0m2-16h0m1 69h0m0 4h0m1-5h0m2-64h0m0 86h0m1-95h0m0 27h0m1-9h0m1 72h0m1-91h0m0 68h0m3-42h0m2 45h0m2 21h0m4-15h0m2-6h0m0 25h0m1-93h0m1 63h0m1-50h0m0 13h0m0 2h0m0 40h0m2-4h0m0 27h0m3-90h0m1-7h0m0 1h0m0 13h0m3 98h0m3-92h0m2 12h0m2 43h0m0 14h0m1-76h0m0 72h0m1-63h0m1-3h0m0 1h0m0 54h0m1 7h0m1-6h0m3-66h0m4 74h0m3-13h0m0 14h0m3-81h0m1 11h0m0 59h0m0 3h0m0 7h0m1-56h0m2-4h0m3-2h0m0 79h0m4-33h0m1-41h0m0 6h0m0 41h0m0 19h0m1-70h0m0 12h0m0 46h0m3-50h0m0 8h0m0 5h0m2 54h0m1-33h0m0 26h0m1-15h0m0 22h0m4-78h0m0 71h0m1-28h0m2 8h0m0 20h0m2 1h0m1-62h0m1 10h0m0 33h0m2-44h0m1 17h0m1-23h0m1 21h0m0 15h0m1 2h0m2-15h0m1-33h0m1 34h0m1-10h0m1 28h0m0 6h0m1 32h0m1-84h0m0 15h0m0 11h0m0 4h0m0 12h0m0 11h0m1-56h0m0 56h0m1-45h0m0 25h0m2-34h0m0 42h0m1-36h0m1 7h0m0 29h0m0 21h0m1-37h0m0 6h0m0 4h0m0 23h0m1-3h0m0 4h0m1 2h0m2-60h0m0 15h0m4 11h0m3 41h0m1-47h0m1-14h0m1-12h0m1 9h0m0 67h0m1-61h0m0 24h0m0 14h0m1 13h0m1-56h0m0 30h0m2-8h0m0 39h0m1-72h0m1 33h0m1 19h0m1-45h0m0 52h0m1-56h0m0 9h0m0 32h0m1 2h0m1 11h0m3-23h0m1 16h0m0 21h0m3-36h0m2 5h0m1-36h0m0 35h0m3 6h0m1-37h0m0 44h0m1-12h0m2-8h0m5-17h0m0 7h0m2-15h0m0 9h0m0 48h0m1-54h0m0 2h0m4 6h0m0 14h0m1-6h0m1-11h0m3 33h0m1 6h0m1-44h0m0 21h0m1-9h0m7 50h0m3 4h0m4-33h0m1-18h0m2 36h0m2-48h0m3 0h0m0 17h0m0 9h0m2-3h0m0 28h0m2 11h0m7-48h0m1 23h0m0 7h0m5 1h0m3-15h0m0 7h0m1-19h0m3 43h0m1-23h0m2-36h0m6-9h0m1 53h0m0 5h0m1-8h0m1-34h0m0 45h0m1-44h0m10 44h0m3 38h0m4-55h0m1-20h0m6-16h0m1-7h0m2 13h0m5 41h0m2 12h0m4-27h0m3-1h0m7-18h0m4 27h0m2-2h0m6 16h0m20-33h0m77 42h0m1-9h0m5-2h0m92-7h0" stroke="#D3D3D3" stroke-width="8.4" opacity="0.57"/>
<path stroke-linecap="round" d="M348 779h0m3-79h0m1-272h0m3 230h0m1-145h0m0 58h0m3 183h0m3-163h0m0 32h0m0 19h0m1 118h0m9-129h0m5-161h0m1 151h0m1-108h0m2-40h0m0 72h0m0 29h0m0 80h0m0 93h0m1-285h0m0 134h0m0 59h0m0 7h0m0 13h0m0 41h0m1-470h0m0 209h0m0 51h0m0 3h0m0 112h0m0 75h0m0 65h0m1-295h0m0 122h0m0 75h0m1-207h0m0 17h0m0 67h0m0 60h0m0 87h0m1-149h0m0 106h0m0 13h0m0 109h0m1-222h0m0 147h0m1-285h0m0 9h0m0 38h0m0 210h0m0 62h0m0 138h0m1-370h0m0 90h0m1 6h0m0 72h0m1 146h0m1-372h0m0 71h0m0 18h0m0 166h0m1-157h0m0 184h0m1-225h0m0 45h0m0 25h0m1-141h0m0 54h0m0 243h0m0 28h0m1-300h0m0 39h0m0 76h0m0 209h0m1-193h0m0 86h0m1-164h0m0 63h0m0 16h0m0 114h0m0 70h0m1-339h0m0 84h0m0 3h0m0 8h0m0 27h0m0 16h0m0 29h0m0 99h0m1-247h0m0 91h0m0 76h0m0 2h0m0 270h0m1-328h0m0 91h0m0 129h0m1-525h0m0 264h0m0 29h0m0 94h0m1 40h0m0 4h0m1-147h0m0 83h0m0 33h0m0 69h0m0 6h0m1-211h0m0 10h0m0 7h0m0 82h0m1-109h0m0 383h0m1-400h0m1-8h0m0 202h0m0 104h0m1-101h0m0 1h0m0 9h0m0 24h0m0 53h0m1-329h0m1 29h0m1 91h0m1-168h0m0 102h0m0 333h0m1-345h0m0 46h0m0 206h0m1-325h0m0 114h0m0 160h0m1-150h0m0 22h0m0 134h0m0 10h0m1-228h0m0 41h0m0 29h0m1-96h0m0 48h0m0 30h0m0 224h0m1-330h0m0 312h0m0 72h0m1-83h0m0 1h0m0 147h0m1-332h0m0 236h0m2-332h0m0 5h0m0 7h0m0 21h0m0 55h0m0 170h0m0 4h0m0 88h0m1-248h0m0 140h0m1-279h0m0 58h0m0 9h0m0 14h0m0 17h0m0 18h0m0 152h0m0 31h0m1-26h0m0 65h0m1-60h0m0 1h0m0 153h0m1-357h0m2 11h0m1-78h0m0 147h0m0 157h0m0 22h0m0 76h0m0 23h0m1-372h0m0 266h0m1-34h0m0 46h0m1-304h0m0 251h0m0 17h0m0 43h0m0 7h0m0 1h0m0 98h0m1-178h0m0 1h0m1-225h0m0 248h0m1-156h0m0 169h0m1-202h0m0 9h0m0 10h0m0 1h0m1-29h0m0 173h0m0 28h0m1-24h0m1 19h0m0 107h0m1-270h0m0 193h0m0 2h0m1-226h0m0 37h0m0 137h0m1 200h0m1-348h0m0 24h0m0 122h0m0 12h0m0 28h0m0 3h0m0 41h0m1-367h0m0 24h0m0 64h0m0 198h0m1-160h0m0 166h0m0 10h0m1-240h0m0 1h0m0 11h0m0 215h0m0 76h0m1-56h0m1-6h0m1-235h0m0 99h0m0 120h0m1 55h0m1-285h0m0 299h0m1-319h0m0 249h0m1 25h0m0 10h0m1-217h0m0 62h0m0 119h0m0 135h0m1-94h0m0 2h0m1-222h0m0 4h0m0 183h0m1-140h0m2-3h0m0 5h0m1-58h0m0 34h0m0 155h0m0 79h0m1-362h0m0 16h0m0 88h0m1 236h0m2-214h0m0 191h0m0 8h0m1-15h0m0 23h0m2-2h0m1-197h0m0 201h0m0 64h0m1-101h0m1-176h0m0 1h0m0 287h0m1-85h0m1-30h0m1-301h0m0 303h0m0 5h0m1-241h0m0 32h0m0 186h0m1-129h0m0 5h0m0 169h0m1 1h0m1-30h0m0 4h0m1 26h0m1-264h0m0 285h0m1-242h0m0 17h0m0 200h0m1-224h0m0 20h0m0 163h0m2-167h0m0 203h0m1-208h0m0 198h0m1 19h0m0 22h0m1-198h0m0 163h0m1-180h0m0 211h0m0 54h0m2-98h0m1-193h0m0 256h0m1-223h0m1 22h0m2-94h0m0 88h0m1-20h0m0 19h0m0 169h0m0 39h0m2-241h0m0 251h0m0 31h0m1-6h0m1-94h0m0 18h0m1-157h0m1 117h0m1 24h0m1-156h0m0 160h0m0 12h0m1-10h0m0 1h0m1-16h0m0 54h0m1-192h0m1-37h0m0 4h0m1 18h0m0 181h0m1-199h0m0 30h0m0 176h0m1-211h0m0 24h0m0 200h0m1-254h0m1 243h0m1-6h0m2-203h0m0 228h0m1-227h0m1 32h0m0 137h0m1-168h0m1-47h0m0 54h0m1 166h0m1-161h0m1-58h0m0 42h0m0 219h0m0 18h0m1-216h0m0 9h0m0 154h0m0 24h0m1-6h0m0 101h0m1-268h0m1 199h0m1-43h0m1-173h0m0 153h0m1-173h0m0 198h0m0 6h0m1-23h0m1-175h0m0 199h0m1-208h0m0 11h0m0 21h0m0 134h0m0 35h0m0 12h0m1 6h0m2-210h0m1 26h0m0 147h0m0 4h0m0 15h0m1-200h0m0 38h0m1-26h0m0 187h0m1-4h0m1-28h0m0 4h0m0 8h0m1 3h0m1-204h0m0 198h0m1-167h0m2 179h0m0 2h0m1-185h0m0 30h0m0 164h0m1-180h0m0 152h0m1 76h0m1-265h0m0 217h0m2-11h0m0 21h0m1-167h0m1 123h0m0 13h0m1-185h0m0 25h0m0 8h0m1 16h0m0 173h0m0 9h0m1-196h0m0 19h0m2 177h0m1-225h0m0 182h0m1-180h0m0 214h0m1 7h0m1-183h0m1-21h0m0 204h0m3-219h0m0 18h0m0 165h0m1 11h0m1-168h0m2 165h0m1 27h0m2-21h0m1-2h0m1-179h0m0 1h0m0 18h0m1-6h0m1-8h0m0 15h0m0 141h0m0 1h0m1-19h0m0 42h0m1-164h0m0 6h0m1 147h0m1-145h0m2-1h0m2-19h0m1-17h0m2 200h0m3 5h0m1-203h0m0 182h0m1-189h0m0 193h0m1-163h0m0 128h0m0 27h0m1-177h0m0 179h0m1-4h0m0 23h0m1-193h0m0 5h0m0 2h0m0 140h0m0 21h0m1-184h0m0 180h0m2 4h0m1-172h0m0 36h0m1 135h0m0 18h0m1 8h0m1-24h0m0 2h0m1-170h0m0 169h0m2-14h0m0 2h0m1-138h0m0 8h0m0 138h0m1-134h0m3-22h0m0 136h0m0 6h0m1-4h0m0 42h0m1-187h0m0 18h0m2-1h0m2 8h0m1-21h0m0 26h0m1-20h0m1 22h0m0 140h0m1-172h0m0 5h0m0 138h0m1-130h0m1 164h0m1-43h0m1-147h0m1 24h0m1-6h0m0 158h0m2-173h0m0 175h0m1-29h0m1 45h0m1-178h0m2 130h0m0 40h0m1-34h0m0 22h0m1-146h0m0 144h0m2-147h0m0 119h0m0 39h0m1-21h0m1-3h0m1 2h0m0 1h0m0 10h0m1-128h0m2-4h0m0 144h0m0 8h0m2-45h0m0 8h0m0 5h0m1-147h0m0 22h0m0 1h0m2-12h0m0 132h0m1 24h0m1-6h0m0 5h0m1-39h0m1-102h0m3 116h0m1 23h0m2-31h0m1-136h0m0 39h0m1 2h0m1 124h0m1-133h0m0 106h0m2 14h0m2-114h0m0 95h0m4-94h0m0 99h0m0 18h0m2-19h0m0 4h0m1-133h0m0 146h0m1-148h0m0 135h0m2-105h0m0 5h0m1-24h0m1 106h0m0 20h0m2-125h0m0 14h0m0 12h0m1 87h0m0 29h0m1-131h0m1 95h0m4 25h0m3 2h0m1-135h0m1 2h0m0 107h0m0 21h0m7-131h0m1 6h0m0 113h0m1-124h0m1 119h0m0 10h0m1-122h0m0 125h0m2-111h0m2-8h0m0 102h0m1-98h0m3 93h0m1-108h0m0 2h0m0 19h0m2 15h0m2 93h0m2 8h0m2-34h0m0 3h0m2-67h0m0 67h0m1 30h0m1-124h0m0 114h0m3-100h0m0 88h0m0 17h0m2-91h0m2-4h0m0 63h0m1 34h0m1-4h0m4-96h0m0 69h0m0 7h0m0 12h0m4-80h0m1 78h0m6-88h0m1 64h0m0 22h0m1-76h0m1-11h0m0 89h0m0 6h0m4-14h0m3-84h0m1 73h0m0 30h0m2-23h0m1-10h0m0 3h0m0 13h0m1-83h0m0 68h0m1 13h0m0 5h0m2-79h0m3 88h0m1-104h0m0 75h0m1-62h0m0 89h0m3-95h0m1-5h0m0 79h0m1-11h0m3 8h0m2-84h0m0 80h0m1-77h0m1 12h0m1 77h0m3-69h0m3 7h0m0 46h0m0 9h0m1-10h0m0 17h0m1 3h0m1-69h0m0 67h0m1-77h0m1 94h0m2-104h0m1 20h0m3-19h0m0 18h0m1-14h0m0 79h0m1-71h0m0 56h0m0 27h0m1-89h0m0 5h0m2 6h0m1 58h0m1-2h0m0 11h0m1-73h0m0 67h0m1-50h0m2 43h0m0 7h0m3-57h0m2 65h0m1-20h0m3-59h0m2 23h0m1-34h0m2 15h0m0 8h0m0 3h0m0 71h0m1-20h0m1-58h0m4-6h0m0 78h0m3-77h0m0 16h0m1-20h0m0 18h0m0 62h0m1-59h0m2 0h0m1-18h0m1 66h0m5-73h0m0 77h0m1-52h0m0 36h0m1-50h0m2 0h0m1 8h0m0 54h0m2-57h0m1-6h0m2-11h0m1 16h0m0 11h0m0 2h0m1-7h0m2 62h0m1-67h0m1 56h0m3-37h0m0 29h0m0 25h0m1-29h0m5-45h0m1 16h0m4-15h0m1-9h0m1 60h0m2-57h0m0 31h0m1 30h0m1-21h0m1-47h0m0 6h0m0 77h0m1-60h0m1 14h0m0 25h0m2 11h0m1-53h0m1 61h0m1-34h0m1-40h0m1-2h0m1 13h0m0 62h0m1-21h0m1-50h0m2 32h0m1 41h0m1-53h0m1 20h0m1 20h0m1-45h0m1-16h0m0 47h0m0 24h0m1-38h0m1 40h0m2-76h0m0 10h0m0 5h0m1-12h0m0 30h0m1-21h0m0 67h0m1-28h0m0 11h0m2-31h0m0 40h0m2-75h0m0 25h0m0 19h0m1-17h0m1-23h0m0 56h0m3-66h0m0 62h0m1-1h0m1-8h0m0 24h0m3-55h0m1 10h0m0 43h0m4-9h0m1-36h0m0 22h0m4-22h0m0 22h0m1-19h0m0 9h0m1-15h0m0 29h0m2-15h0m0 6h0m1-33h0m1-1h0m0 17h0m0 31h0m1-10h0m0 1h0m2 27h0m1-37h0m2 21h0m1-32h0m0 4h0m0 25h0m1 24h0m1-56h0m1 25h0m3-41h0m0 28h0m1 18h0m1-35h0m1 9h0m0 23h0m5 4h0m2-19h0m1 38h0m1-46h0m1 39h0m1-40h0m7-12h0m2 48h0m2 14h0m2-61h0m3-9h0m0 63h0m1-64h0m1 18h0m3-7h0m1 61h0m2-62h0m1 14h0m0 36h0m2-32h0m3-19h0m3 40h0m1 18h0m5-32h0m1-7h0m1-15h0m1 28h0m0 25h0m3-39h0m5 24h0m0 6h0m4-47h0m11 71h0m1-30h0m3 13h0m9 16h0m10-37h0m4 24h0m2-27h0m12-25h0m11 39h0m2 12h0m6-85h0m2 71h0m14 13h0m16-15h0m7-25h0m60 10h0m49 19h0" stroke="#D3D3D3" stroke-width="8.4" opacity="0.57"/>
<path stroke-linecap="round" d="M351 447h0m0 266h0m2-142h0m1-57h0m3 13h0m1 161h0m1-125h0m1 255h0m3-118h0m10-28h0m1-99h0m3-64h0m1 108h0m1-158h0m0 225h0m1-227h0m0 49h0m0 107h0m0 88h0m0 8h0m1-204h0m0 74h0m0 11h0m0 11h0m0 181h0m1-153h0m0 68h0m0 84h0m1-107h0m0 17h0m0 30h0m1-287h0m0 122h0m0 4h0m0 4h0m0 15h0m0 78h0m1-322h0m0 80h0m0 103h0m0 281h0m1-241h0m0 160h0m1-273h0m0 140h0m0 85h0m1-262h0m0 88h0m0 72h0m1-188h0m0 35h0m0 86h0m0 30h0m0 21h0m0 125h0m0 2h0m0 10h0m1-177h0m0 19h0m0 12h0m0 42h0m0 51h0m1-168h0m0 38h0m0 68h0m0 3h0m0 25h0m0 44h0m0 49h0m0 146h0m1-421h0m0 243h0m0 1h0m1-52h0m0 127h0m1-284h0m0 105h0m0 27h0m0 8h0m1-205h0m0 43h0m0 143h0m0 3h0m1-7h0m0 77h0m0 8h0m0 122h0m0 42h0m0 59h0m1-311h0m0 105h0m0 7h0m0 11h0m0 50h0m0 25h0m0 126h0m1-420h0m0 19h0m0 33h0m0 81h0m0 42h0m0 70h0m1-306h0m0 45h0m0 324h0m0 78h0m1-571h0m0 62h0m0 120h0m0 17h0m0 17h0m0 139h0m1-215h0m0 63h0m0 28h0m0 1h0m0 205h0m0 49h0m1-301h0m0 13h0m0 61h0m0 23h0m0 99h0m0 37h0m0 120h0m1-457h0m0 77h0m0 120h0m0 37h0m0 129h0m1-262h0m0 128h0m0 1h0m0 132h0m0 41h0m1-185h0m1-160h0m0 63h0m0 197h0m0 64h0m1-355h0m0 73h0m0 384h0m1-394h0m0 6h0m0 67h0m0 254h0m1-271h0m1-29h0m0 192h0m0 43h0m1-185h0m0 157h0m1-184h0m0 170h0m0 188h0m1-181h0m0 1h0m0 71h0m1-268h0m0 180h0m0 7h0m0 85h0m1-251h0m0 174h0m0 30h0m1-241h0m1 3h0m0 203h0m0 27h0m1-204h0m1 189h0m0 24h0m1-250h0m0 38h0m0 284h0m1-269h0m0 175h0m0 20h0m0 80h0m1-125h0m0 98h0m0 15h0m1-60h0m1-196h0m0 15h0m0 171h0m0 34h0m1-308h0m0 16h0m0 74h0m0 184h0m1 227h0m1-528h0m0 273h0m0 3h0m1-311h0m0 298h0m0 10h0m1-5h0m0 155h0m1-304h0m0 214h0m1-207h0m1-165h0m0 379h0m0 29h0m1-301h0m0 59h0m0 22h0m1-292h0m0 255h0m0 24h0m1-11h0m0 163h0m0 95h0m1 16h0m1-372h0m1-16h0m0 56h0m0 67h0m0 135h0m0 32h0m0 21h0m1-180h0m1 1h0m0 128h0m1-169h0m0 20h0m0 152h0m0 46h0m1-189h0m1 171h0m0 44h0m1-51h0m0 3h0m1-350h0m0 97h0m0 252h0m0 26h0m1-50h0m0 105h0m1-257h0m0 198h0m1-392h0m0 202h0m1 132h0m1-207h0m0 236h0m0 44h0m0 73h0m1-61h0m0 42h0m0 44h0m1-137h0m1-217h0m1 192h0m1-141h0m0 11h0m0 152h0m1 50h0m1-51h0m2-185h0m0 43h0m1-32h0m2 3h0m1-80h0m0 256h0m1 106h0m1-363h0m0 249h0m0 62h0m1-300h0m0 96h0m3-16h0m0 142h0m1-150h0m0 21h0m0 142h0m1 5h0m1-2h0m1-172h0m0 4h0m0 157h0m1-193h0m1-43h0m0 19h0m0 57h0m0 155h0m1-248h0m0 48h0m0 54h0m0 245h0m1-379h0m1 108h0m0 36h0m0 178h0m1-237h0m0 45h0m0 20h0m0 162h0m1-18h0m0 46h0m1-265h0m0 31h0m0 184h0m0 35h0m0 18h0m1-319h0m2 44h0m0 58h0m1-36h0m0 2h0m0 25h0m0 172h0m1-159h0m0 187h0m1-235h0m0 15h0m0 59h0m0 147h0m0 33h0m1-248h0m1 5h0m0 59h0m0 130h0m2-190h0m2 20h0m0 4h0m0 170h0m0 39h0m1-236h0m1 16h0m0 29h0m0 9h0m0 6h0m0 181h0m1-189h0m0 139h0m1-139h0m1 132h0m1 18h0m0 18h0m1-157h0m0 122h0m0 18h0m0 8h0m0 26h0m2-241h0m0 51h0m0 181h0m0 19h0m1-217h0m1-2h0m2 247h0m1-22h0m1-236h0m0 19h0m1 19h0m0 165h0m1-153h0m0 194h0m1-230h0m0 200h0m1-46h0m2-131h0m1-6h0m0 5h0m0 1h0m0 157h0m1-195h0m0 8h0m1 187h0m1-149h0m3-5h0m0 147h0m1-165h0m0 165h0m0 30h0m1-194h0m1-12h0m0 175h0m0 31h0m1-199h0m0 197h0m1 13h0m3-225h0m0 209h0m2-2h0m0 17h0m1-56h0m0 18h0m1-139h0m1-36h0m1 168h0m0 32h0m0 30h0m1-63h0m1-144h0m0 180h0m0 60h0m1-266h0m0 188h0m0 31h0m2-182h0m0 131h0m0 23h0m1-15h0m0 1h0m0 25h0m0 11h0m2-188h0m1 0h0m0 212h0m1-73h0m0 5h0m2-173h0m0 2h0m0 37h0m0 126h0m1-152h0m0 171h0m0 12h0m2-166h0m2-20h0m0 154h0m1-142h0m2-19h0m0 10h0m1 12h0m0 143h0m0 43h0m1-12h0m0 36h0m1-233h0m0 8h0m1 9h0m1 179h0m2-168h0m0 140h0m1-127h0m0 119h0m2-158h0m0 33h0m0 159h0m1-167h0m0 160h0m1-25h0m0 27h0m1 13h0m1-209h0m1 9h0m0 25h0m1-37h0m1 228h0m1-32h0m1-170h0m1 3h0m2 144h0m0 8h0m0 24h0m1-189h0m0 7h0m0 152h0m1-136h0m2-19h0m0 34h0m1 141h0m0 3h0m1-190h0m0 38h0m0 132h0m1-162h0m0 36h0m1 161h0m2-3h0m1-164h0m0 174h0m1-29h0m0 5h0m0 11h0m1-194h0m1 14h0m0 145h0m1 33h0m1-28h0m2 45h0m1-203h0m0 153h0m0 14h0m1-139h0m2-7h0m0 2h0m1 12h0m2-3h0m0 122h0m0 42h0m1-202h0m0 12h0m1-14h0m0 9h0m0 148h0m1-158h0m0 168h0m1 5h0m1-162h0m1 18h0m1 140h0m0 20h0m1-182h0m1-5h0m0 162h0m0 32h0m1-174h0m0 165h0m1-20h0m1-124h0m0 149h0m1-37h0m0 42h0m1-10h0m3-25h0m1-117h0m0 143h0m1-34h0m0 28h0m0 10h0m1 2h0m1-169h0m1 131h0m0 26h0m2-145h0m0 126h0m0 4h0m3-147h0m2 20h0m0 122h0m0 5h0m0 18h0m1-160h0m0 18h0m0 114h0m1-136h0m1 133h0m1-136h0m0 6h0m0 20h0m0 140h0m1-4h0m1-170h0m0 13h0m0 164h0m0 7h0m0 1h0m2-182h0m0 147h0m0 9h0m1-125h0m1 6h0m1 110h0m0 24h0m1-22h0m1-5h0m0 7h0m0 4h0m1 1h0m1-118h0m0 1h0m1-32h0m0 160h0m3-153h0m1 155h0m1-160h0m1 17h0m0 127h0m2 3h0m1 5h0m1-15h0m2 21h0m2-19h0m0 23h0m2-35h0m4 0h0m3-117h0m0 141h0m2-137h0m0 4h0m1 3h0m4-17h0m0 120h0m2 19h0m1-130h0m0 13h0m1 118h0m1-25h0m3 14h0m1-119h0m0 6h0m2-3h0m1 12h0m1-14h0m0 106h0m2-117h0m1 34h0m1-32h0m0 106h0m1-85h0m1 9h0m0 111h0m2-135h0m0 21h0m0 4h0m0 102h0m2-130h0m0 122h0m3-107h0m3-9h0m0 5h0m0 9h0m0 114h0m0 1h0m1-133h0m2 21h0m0 85h0m1-91h0m2-2h0m1-2h0m1 6h0m0 115h0m1-23h0m0 26h0m3-115h0m1-9h0m1 93h0m0 10h0m1-110h0m0 4h0m0 108h0m1-14h0m3-4h0m0 26h0m1-19h0m0 20h0m0 3h0m2-34h0m0 22h0m2-115h0m2 24h0m0 82h0m4-74h0m0 75h0m1 1h0m1-101h0m1 115h0m2-100h0m0 68h0m1 36h0m1-33h0m6-3h0m1 28h0m1-103h0m0 17h0m1-19h0m1-3h0m0 15h0m3 2h0m1 84h0m2 3h0m1-28h0m1 25h0m1-3h0m4-92h0m1 75h0m6 12h0m1-13h0m1-80h0m1 88h0m4-80h0m1 4h0m1 85h0m1-11h0m1-75h0m0 5h0m0 4h0m1-12h0m3 3h0m0 78h0m0 8h0m2-75h0m3 73h0m3 1h0m2-96h0m0 85h0m1-83h0m1 20h0m1 5h0m3-6h0m0 55h0m1-47h0m0 47h0m0 19h0m2-4h0m0 6h0m1 7h0m1-6h0m1-92h0m0 3h0m0 68h0m0 16h0m0 7h0m2-30h0m2 21h0m2-65h0m1-3h0m2-12h0m0 58h0m1-54h0m0 54h0m1 13h0m0 12h0m0 1h0m1-73h0m1-14h0m1 17h0m0 7h0m0 58h0m2-58h0m2 42h0m2-54h0m0 62h0m0 7h0m0 9h0m2-29h0m2 24h0m1-60h0m0 3h0m0 48h0m2-75h0m0 18h0m1-11h0m1 19h0m1 59h0m5 0h0m0 3h0m2-80h0m4 1h0m0 14h0m2 61h0m1-84h0m1 11h0m4 15h0m1-12h0m0 5h0m3-12h0m2 11h0m0 44h0m0 17h0m4-2h0m0 3h0m4-55h0m1 45h0m0 6h0m1-44h0m1-49h0m0 24h0m1 68h0m1 1h0m2-31h0m1-6h0m2-1h0m3 43h0m1-55h0m0 56h0m2-20h0m1-21h0m0 5h0m0 7h0m1-25h0m0 42h0m1-30h0m2-33h0m2 40h0m1 40h0m1-17h0m1-58h0m1 33h0m1-28h0m0 7h0m1 1h0m0 9h0m0 1h0m1-8h0m1-21h0m2 21h0m0 48h0m1-65h0m0 65h0m4-57h0m0 16h0m1 5h0m2 16h0m0 9h0m2-8h0m3-39h0m0 31h0m2-9h0m2-23h0m0 12h0m1 38h0m1-38h0m0 24h0m1-23h0m0 12h0m2-8h0m0 42h0m1-9h0m2-74h0m1 45h0m1 30h0m2-11h0m3 15h0m1-31h0m0 15h0m1 22h0m1-1h0m1-57h0m0 27h0m1-30h0m0 31h0m1-1h0m2-22h0m0 2h0m1 24h0m1 4h0m0 20h0m2-53h0m1 5h0m1-11h0m0 42h0m0 1h0m1-10h0m0 11h0m1-5h0m1 14h0m6-50h0m2 15h0m5-4h0m0 19h0m1-17h0m1 16h0m3 29h0m1-59h0m8 23h0m1-22h0m0 4h0m2 24h0m2-29h0m0 49h0m2-32h0m2 8h0m2 35h0m2-35h0m1-7h0m1 36h0m3-12h0m0 28h0m1-62h0m0 31h0m0 15h0m1 12h0m0 1h0m2-27h0m3-28h0m1 28h0m5-28h0m2-16h0m2 54h0m9-18h0m3-44h0m11 55h0m2 3h0m1-59h0m5 2h0m3 13h0m2-4h0m12 42h0m3-37h0m12 25h0m1 0h0m3-22h0m3 12h0m4-28h0m5 60h0m5-52h0m7 9h0m2 48h0m34-33h0m66 5h0m23-27h0m21 42h0" stroke="#D3D3D3" stroke-width="8.4" opacity="0.57"/>
<path stroke-linecap="round" d="M349 732h0m1-137h0m4 28h0m4 75h0m3-95h0m1 83h0m1-107h0m4 42h0m1-103h0m3 98h0m4-67h0m0 32h0m2 184h0m1-234h0m1 52h0m0 148h0m1-223h0m1 124h0m0 33h0m0 39h0m1-28h0m0 12h0m0 38h0m1-366h0m0 96h0m0 92h0m0 33h0m0 52h0m0 23h0m0 26h0m0 99h0m1-179h0m0 13h0m0 30h0m0 25h0m0 52h0m0 124h0m1-180h0m1-171h0m0 217h0m0 33h0m0 96h0m1-247h0m0 8h0m0 87h0m1-269h0m0 114h0m0 62h0m0 21h0m0 1h0m0 4h0m0 183h0m1-261h0m0 126h0m0 23h0m0 2h0m0 78h0m1-450h0m0 51h0m0 138h0m0 30h0m0 27h0m0 12h0m0 142h0m0 16h0m1-243h0m0 194h0m0 6h0m0 88h0m1-395h0m0 88h0m0 63h0m1-97h0m0 160h0m0 111h0m0 3h0m1-158h0m0 337h0m1-506h0m0 51h0m0 134h0m0 104h0m1-163h0m0 40h0m0 27h0m0 125h0m1-200h0m0 16h0m0 20h0m0 1h0m0 11h0m0 18h0m1-217h0m0 163h0m1-51h0m0 27h0m0 10h0m0 70h0m0 12h0m0 198h0m0 79h0m1-451h0m0 43h0m0 73h0m0 8h0m0 35h0m0 19h0m0 90h0m0 57h0m0 22h0m0 16h0m1-338h0m0 179h0m0 16h0m1-224h0m0 65h0m0 149h0m0 157h0m1-355h0m0 52h0m0 128h0m0 99h0m1-397h0m0 367h0m0 86h0m1-147h0m0 71h0m1-13h0m0 3h0m0 50h0m1-166h0m1-42h0m0 10h0m1-62h0m0 12h0m0 78h0m1-46h0m0 302h0m1-388h0m0 9h0m0 3h0m0 70h0m0 7h0m0 190h0m1-237h0m0 55h0m0 204h0m0 19h0m1-280h0m0 232h0m1-265h0m0 8h0m1-67h0m0 132h0m0 209h0m1-360h0m0 162h0m0 21h0m1-10h0m1-33h0m0 24h0m0 167h0m0 21h0m0 46h0m1-259h0m0 206h0m0 17h0m0 52h0m1-246h0m0 215h0m2-196h0m1 7h0m0 161h0m1-25h0m1-212h0m0 200h0m0 5h0m1-277h0m0 106h0m0 21h0m0 17h0m0 171h0m0 63h0m1 123h0m1-449h0m0 12h0m0 54h0m0 255h0m1-390h0m0 131h0m0 167h0m1-253h0m0 300h0m1-180h0m0 151h0m0 25h0m0 11h0m0 86h0m1-271h0m0 159h0m0 39h0m0 2h0m1-213h0m0 206h0m0 106h0m1-68h0m0 24h0m1-413h0m0 52h0m0 117h0m0 152h0m1-251h0m0 224h0m1-2h0m0 2h0m0 26h0m0 6h0m0 2h0m0 11h0m1 28h0m1-229h0m0 328h0m1-142h0m1-20h0m0 3h0m0 51h0m1-302h0m1 100h0m0 1h0m0 157h0m1-183h0m0 33h0m1-29h0m0 156h0m0 22h0m0 4h0m1-285h0m0 12h0m0 30h0m0 3h0m0 55h0m0 190h0m2-188h0m1-72h0m0 25h0m0 241h0m1-255h0m0 61h0m2 155h0m0 28h0m1-241h0m0 44h0m0 38h0m0 165h0m0 24h0m1-201h0m0 195h0m1-265h0m0 54h0m0 174h0m1-234h0m0 54h0m0 44h0m1 207h0m2-275h0m0 29h0m1-50h0m1 71h0m0 212h0m1-29h0m0 2h0m1-359h0m0 189h0m0 123h0m0 156h0m2-387h0m0 65h0m0 217h0m1-211h0m1-38h0m0 23h0m0 1h0m0 33h0m0 162h0m1-172h0m0 190h0m1-203h0m0 16h0m1 163h0m1-156h0m0 22h0m0 149h0m1-18h0m2-190h0m1 8h0m0 15h0m1 5h0m0 149h0m1-238h0m1 112h0m1-3h0m0 164h0m1-251h0m0 25h0m0 31h0m1 21h0m1-25h0m0 38h0m1-7h0m1-4h0m1-15h0m0 203h0m0 23h0m3-283h0m0 75h0m0 11h0m0 177h0m0 11h0m1-229h0m0 209h0m1-179h0m0 3h0m0 148h0m1-253h0m0 55h0m0 202h0m0 31h0m1 18h0m1-296h0m0 317h0m2-44h0m1-257h0m0 78h0m0 146h0m0 18h0m1 2h0m0 9h0m1-201h0m0 12h0m0 27h0m1 135h0m0 10h0m1-191h0m0 46h0m0 166h0m0 33h0m1-319h0m0 261h0m1-174h0m0 4h0m1-30h0m0 204h0m1-254h0m0 29h0m0 42h0m0 170h0m1-201h0m0 40h0m0 2h0m0 26h0m1 225h0m1-231h0m2-35h0m0 31h0m0 152h0m1-175h0m0 23h0m1-5h0m0 234h0m3-270h0m0 26h0m0 17h0m1-30h0m1 23h0m1-25h0m0 37h0m0 162h0m1 4h0m0 36h0m2 15h0m1-265h0m0 29h0m0 2h0m1-22h0m0 8h0m0 192h0m1-192h0m0 35h0m1-35h0m0 4h0m1 26h0m1 4h0m0 160h0m3-205h0m1 48h0m1-30h0m1 176h0m1-157h0m0 184h0m1-230h0m0 252h0m0 108h0m3-332h0m0 187h0m1-199h0m0 7h0m0 25h0m0 8h0m0 164h0m1-281h0m0 252h0m2-162h0m0 220h0m2-25h0m1-186h0m0 9h0m0 136h0m0 30h0m1-35h0m0 50h0m2-43h0m1 14h0m3-186h0m0 16h0m0 157h0m1 14h0m1 7h0m2-197h0m0 7h0m1 166h0m1 0h0m1-130h0m0 161h0m1-183h0m0 152h0m0 14h0m1 29h0m1-177h0m0 126h0m2 8h0m1-169h0m1 14h0m0 164h0m3 20h0m1-26h0m1-134h0m1 139h0m1-181h0m1 177h0m1 16h0m0 4h0m1 9h0m0 9h0m0 36h0m1-69h0m2-154h0m0 161h0m0 16h0m1-181h0m0 151h0m1-155h0m1-8h0m0 182h0m2-25h0m1-5h0m0 10h0m1 29h0m1-182h0m0 19h0m0 147h0m1 7h0m1-155h0m1-24h0m1 16h0m0 136h0m0 9h0m1-130h0m1-19h0m1 136h0m0 15h0m1-162h0m0 149h0m0 23h0m1-18h0m2-127h0m0 121h0m1 25h0m1-161h0m1 8h0m3 153h0m2-173h0m0 168h0m1-2h0m1-151h0m0 8h0m0 127h0m1-134h0m0 157h0m1-137h0m0 124h0m1-152h0m1-2h0m0 3h0m1 164h0m1-172h0m1 17h0m0 2h0m0 174h0m2-51h0m0 9h0m1 18h0m1-148h0m2 124h0m1 1h0m2 34h0m1-169h0m0 162h0m1-147h0m0 155h0m2-177h0m0 33h0m0 109h0m0 15h0m0 7h0m2-138h0m1-5h0m2-27h0m0 150h0m2-139h0m5-9h0m0 175h0m2-153h0m0 143h0m1-134h0m3 128h0m1 6h0m0 7h0m1-31h0m0 27h0m2-143h0m1 115h0m2-1h0m1-136h0m0 7h0m0 5h0m0 26h0m0 128h0m1-31h0m1-133h0m3 36h0m0 109h0m1 1h0m2-20h0m0 23h0m2 9h0m0 6h0m1-126h0m0 110h0m2-109h0m0 127h0m1-154h0m1 150h0m1-128h0m0 99h0m0 11h0m0 3h0m2-129h0m0 107h0m1 4h0m1-117h0m0 120h0m0 2h0m1-121h0m0 114h0m0 24h0m1-2h0m1-18h0m0 13h0m2-19h0m1-92h0m0 104h0m3 28h0m1-160h0m1 121h0m3 16h0m1-115h0m0 100h0m1-94h0m0 9h0m1-37h0m0 19h0m1-20h0m0 14h0m2-8h0m0 134h0m1-105h0m2 81h0m3-91h0m0 126h0m1-30h0m1-5h0m0 25h0m3-129h0m0 15h0m0 108h0m0 6h0m1-132h0m2 14h0m2 4h0m1-22h0m1 4h0m0 113h0m0 2h0m2-98h0m1 91h0m0 7h0m1 28h0m4-33h0m0 12h0m1-97h0m1 94h0m2-19h0m1-71h0m0 100h0m1-17h0m2-110h0m1 117h0m0 14h0m2-119h0m0 21h0m1-17h0m0 17h0m1-30h0m1 7h0m0 93h0m0 16h0m4-10h0m0 2h0m0 6h0m5-98h0m0 76h0m2-76h0m0 96h0m0 1h0m1-6h0m2-102h0m0 13h0m2-15h0m1 3h0m1 91h0m1-91h0m0 90h0m1 12h0m1-83h0m2 78h0m2-92h0m0 26h0m0 48h0m1-77h0m0 22h0m0 58h0m0 2h0m1-84h0m0 112h0m2-115h0m3 84h0m0 13h0m3 5h0m1-72h0m0 63h0m0 15h0m2-22h0m1-75h0m4-2h0m0 12h0m0 11h0m2 67h0m0 10h0m3-81h0m0 63h0m0 9h0m1-87h0m1-2h0m0 81h0m2-78h0m0 74h0m1-3h0m3 24h0m1-101h0m0 89h0m1-67h0m0 54h0m1-66h0m1-11h0m0 78h0m2-68h0m0 2h0m1 83h0m1-7h0m2-80h0m1 20h0m1-23h0m2 64h0m0 28h0m1-92h0m1 93h0m2-11h0m1-84h0m2 5h0m1 83h0m0 5h0m2-65h0m1-28h0m1-2h0m1 103h0m1-32h0m1 11h0m4-60h0m4 69h0m2-82h0m2-13h0m0 15h0m5-10h0m0 91h0m1-17h0m0 12h0m1-83h0m1 65h0m2-49h0m1-12h0m0 75h0m1-66h0m1 3h0m3 67h0m3-64h0m0 68h0m1-4h0m1-13h0m0 2h0m2-75h0m1 64h0m1-58h0m1 65h0m1-55h0m1-9h0m0 59h0m3-47h0m0 56h0m0 13h0m1-67h0m2 5h0m5 66h0m1-3h0m1-83h0m0 79h0m2-21h0m1 30h0m4-70h0m2-10h0m0 61h0m2-47h0m0 12h0m2 34h0m1-36h0m0 34h0m3-35h0m0 7h0m1-24h0m0 18h0m0 9h0m1-12h0m2 27h0m0 7h0m1-27h0m0 44h0m1-52h0m0 54h0m5-44h0m1-34h0m1 0h0m0 21h0m0 19h0m2-30h0m0 6h0m1 11h0m3-13h0m0 1h0m0 59h0m2-62h0m0 66h0m1-14h0m0 15h0m1-38h0m2-17h0m1 10h0m3 8h0m1-21h0m2 2h0m1 44h0m1-60h0m2 1h0m0 5h0m1 47h0m0 4h0m4 5h0m1-46h0m0 52h0m1-56h0m2-12h0m1 29h0m1-18h0m0 45h0m0 8h0m2-55h0m1 0h0m3 9h0m1 6h0m1-10h0m0 56h0m1-75h0m0 53h0m1-33h0m0 24h0m5-31h0m0 13h0m3 51h0m1-57h0m1 2h0m0 37h0m1-60h0m0 8h0m2 6h0m5 5h0m2-8h0m0 10h0m3-2h0m0 55h0m3-69h0m0 18h0m2 22h0m1-10h0m1-19h0m0 23h0m1-8h0m0 3h0m0 9h0m1-1h0m3-12h0m3 12h0m1 18h0m0 19h0m10-45h0m5-17h0m0 43h0m1-51h0m8-1h0m2 27h0m0 43h0m2-60h0m0 49h0m1-6h0m4-58h0m0 13h0m1 30h0m1-24h0m1 25h0m9 23h0m3-37h0m6-9h0m1 14h0m0 5h0m2-6h0m4-21h0m0 46h0m4-44h0m3 24h0m1 36h0m4-41h0m2-30h0m0 51h0m2-12h0m11-5h0m3 18h0m3-61h0m0 31h0m7 20h0m17 29h0m4-52h0m3-12h0m10 3h0m27 35h0m15-14h0m13-18h0m55-7h0m10 36h0m20 0h0m8-22h0m280-10h0" stroke="#D3D3D3" stroke-width="8.4" opacity="0.57"/>
<path stroke-linecap="round" d="M892.5 510.9h0M644.4 514.8h0M585 472.7h0M708 534.3h0M1030.2 531.1h0M893.7 529.5h0M813.2 555.1h0M957.3 568.8h0M596 484.6h0M771.2 553.4h0M683.1 513.1h0M894.4 560.7h0M904.5 565.3h0M843.1 510.5h0M1032.5 565.7h0M846.3 534.9h0M816.5 555.8h0M884.4 552.8h0M662.3 500.6h0M903.4 533.5h0M859.5 546.4h0M743.9 548.6h0M934.2 567.7h0M724.8 468h0M690.6 534.9h0M843.7 562.8h0M929.8 548.6h0M688.4 527.6h0M717.2 482.1h0M780.6 541.6h0M810.8 526.1h0M636.2 478.4h0M903.4 564.2h0M727.2 504.4h0M751.2 542.5h0M709.9 528.3h0M828.8 557.3h0M683.9 501.4h0M816.7 498.7h0M854.8 555.8h0M902.6 566.9h0M790.7 545.3h0M610.4 504.7h0M830.6 531.2h0M759.8 540.9h0M882.1 564h0M910.3 567.1h0M627.7 516.4h0M582 501.8h0M840.9 541.7h0M739.5 493.7h0M658.8 510.3h0M766.5 551h0M871.4 547.7h0M587 460.7h0M621.7 466.4h0M862.8 537.6h0M960.8 568h0M588 447.1h0M696.7 509.2h0M693.7 439.9h0M867.2 524.8h0M563.8 463.3h0M786.1 550.8h0M854.2 562.2h0M697.1 491.7h0M841.5 560.1h0M731.7 544.2h0M685.8 420.4h0M817.5 558.2h0M735.4 519.2h0M699 519.2h0M600.4 452.7h0M769.7 543.8h0M909.5 567.8h0M697.9 484.4h0M753 538.6h0M709.8 452.8h0M653.6 523.1h0M874.4 520.6h0M915.3 464.6h0M941.7 570.9h0M653.3 471h0M722.3 532.9h0M944.4 567.5h0M873.5 534.6h0M785.4 544.6h0M935.8 532.9h0M653.7 473.3h0M671.5 519.8h0M603.7 457.2h0M967.4 568.2h0M499.4 303.6h0M554.1 326.2h0M485.8 351.8h0M498.9 349.8h0M519 355.3h0M783.7 337.2h0M658.6 387.4h0M561.2 392.5h0M535 424.6h0M500.4 445.7h0M583.3 439.2h0M573.7 448.7h0M548.1 455.2h0M528.5 465.3h0M512 470.3h0M701.3 457.2h0M816.3 459.8h0M853.5 451.7h0M1208.7 564.7h0M973 496h0M1028 532h0M1034 547h0" stroke="#FF64BE" stroke-width="8.4" opacity="0.95"/>
<path stroke-linecap="round" d="M1025.8 671.1h0M754.6 715.1h0M919.1 666.1h0M896.5 676.5h0M790.2 707h0M811.5 672.9h0M706.8 700.9h0M884.7 696.6h0M742.3 684.2h0M698.9 703.7h0M753.6 725.1h0M780.1 686.4h0M697 697h0M922 671h0M951.3 656.6h0M670.5 735.6h0M590.1 757.4h0M586.2 738.8h0M853.5 679.8h0M770.5 677.1h0M704.2 695.5h0M816.8 680h0M875.8 676.4h0M990.7 682h0M695.3 714.9h0M645 771.4h0M687.2 713.1h0M867.2 700.3h0M796.3 678.8h0M836.4 669.5h0M675.7 728.8h0M739.9 708.6h0M1037.8 693.3h0M707.2 693.4h0M652.3 713.5h0M782.6 692.3h0M965.3 657.5h0M728.5 722.5h0M634.2 741.2h0M731.5 695.2h0M798.9 682.6h0M573.7 761.1h0M863.5 720.5h0M904.2 688.6h0M741.2 687.7h0M686.9 700.7h0M835.9 670.9h0M719.8 717h0M667.7 747.3h0M663 775.1h0M814.2 666.6h0M881.7 668.5h0M1087.1 665.1h0M619.5 749.3h0M763.2 675.5h0M775.7 772.9h0M850.6 692.1h0M749.5 691.8h0M685.8 727.7h0M850.3 672.1h0M757.6 689.4h0M841.7 699.1h0M648 724.2h0M693.9 763.4h0M914.1 664.5h0M762.6 695.4h0M847.8 673.1h0M610.5 732h0M834.5 669.5h0M694.5 773.4h0M866.4 727.3h0M855.3 668.2h0M798.7 674.4h0M822.3 668.5h0M831.7 722.3h0M897.1 662.3h0M617 741.6h0M669.3 765.3h0M650 714.9h0M708.2 717.6h0M705.1 694.8h0M676.6 704.9h0M889.8 696.4h0M895.1 663.6h0M904.1 667.5h0M784.3 671.2h0M878.6 736.7h0M648.7 721.4h0M706.3 819h0M668.3 711.5h0M572 780.8h0M768.3 679.9h0M875.4 680.4h0M729.8 704.1h0M619 740.9h0M659.3 728.9h0M1074.2 668.4h0M668.4 723h0M701.4 735.8h0M707.9 695.3h0M609.4 742.4h0M697.3 705.6h0M611.3 789.5h0M670.2 708.8h0M875.5 674.3h0M870.8 692.6h0M482.8 887.8h0M523.5 1002.3h0M589.8 827h0M797.7 812h0M513.5 791.4h0M531.5 794.4h0M533.5 784.3h0M490.9 783.3h0M1073 664.3h0M1148.4 665.3h0M1083.6 679.9h0M1122 680h0M1015 690h0M982.7 704h0M1010 650h0M561 745h0M572 771h0M583 744h0M606 768h0M617 763h0M612 786h0M629 792h0M700 795h0M715 766h0M661 758h0" stroke="#7B70DE" stroke-width="8.4" opacity="0.95"/>
<path stroke-linecap="round" d="M689.2 520h0M778.6 536.6h0M807.3 533h0M1095.2 553.7h0M772.3 696.5h0M783.5 698.5h0M906 683h0M982.7 670.3h0M1130.9 681.4h0" stroke="#000" stroke-width="8" opacity="1"/>
<g stroke="#000" stroke-width="2.1" fill="none" stroke-linecap="butt">
<path d="M730.4 419.6L689.2 520"/>
<path d="M954 418.6L778.6 536.6"/>
<path d="M998.8 476.3L807.3 533"/>
<path d="M1202 534.6L1095.2 553.7"/>
<path d="M631.5 837L751 666.8"/>
<path d="M772 901.4L772.3 696.5"/>
<path d="M905.2 929L783.5 698.5"/>
<path d="M953 816L906 683"/>
<path d="M1039 731.6L982.7 670.3"/>
<path d="M1275.5 701.5L1130.9 681.4"/>
</g>
<g font-family='"Liberation Sans", Arial, sans-serif' font-size="59.7" fill="#000">
<text transform="translate(675.5 408.3) scale(1 1.04)">CCNE2</text>
<text transform="translate(957 431) scale(1 1.04)">BTG3</text>
<text transform="translate(1004.5 486.4) scale(1 1.04)">CDKN1A</text>
<text transform="translate(1212 546.7) scale(1 1.04)">CDK6</text>
<text transform="translate(499 882) scale(1 1.04)">CUL4A</text>
<text transform="translate(650.5 950.6) scale(1 1.04)">RRP15</text>
<text transform="translate(856 977.7) scale(1 1.04)">LTV1</text>
<text transform="translate(931 868.2) scale(1 1.04)">PTEN</text>
<text transform="translate(994.5 783.5) scale(1 1.04)">CDC42</text>
<text transform="translate(1240 758.2) scale(1 1.04)">TXNIP</text>
</g>
<g stroke="#000" stroke-width="8" fill="none">
<path d="M1594.3 185H311.7V1041.5H1594.3"/>
<path d="M276 232.8H311.7"/>
<path d="M276 328H311.7"/>
<path d="M276 423.2H311.7"/>
<path d="M276 518.4H311.7"/>
<path d="M276 613.6H311.7"/>
<path d="M276 708.8H311.7"/>
<path d="M276 804H311.7"/>
<path d="M276 899.2H311.7"/>
<path d="M276 994.4H311.7"/>
<path d="M445.8 1041.5V1078"/>
<path d="M690.7 1041.5V1078"/>
<path d="M935.6 1041.5V1078"/>
<path d="M1180.5 1041.5V1078"/>
<path d="M1425.4 1041.5V1078"/>
</g>
<g font-family='"Liberation Sans", Arial, sans-serif' font-weight="700" font-size="60" fill="#000">
<text transform="translate(265.8 254.3) scale(1 1.04)" text-anchor="end">4</text>
<text transform="translate(265.8 349.5) scale(1 1.04)" text-anchor="end">3</text>
<text transform="translate(265.8 444.7) scale(1 1.04)" text-anchor="end">2</text>
<text transform="translate(265.8 539.9) scale(1 1.04)" text-anchor="end">1</text>
<text transform="translate(265.8 635.1) scale(1 1.04)" text-anchor="end">0</text>
<text transform="translate(265.8 730.3) scale(1 1.04)" text-anchor="end">−1</text>
<text transform="translate(265.8 825.5) scale(1 1.04)" text-anchor="end">−2</text>
<text transform="translate(265.8 920.7) scale(1 1.04)" text-anchor="end">−3</text>
<text transform="translate(265.8 1015.9) scale(1 1.04)" text-anchor="end">−4</text>
<text transform="translate(445.8 1145) scale(1 1.04)" text-anchor="middle">1</text>
<text transform="translate(690.7 1145) scale(1 1.04)" text-anchor="middle">2</text>
<text transform="translate(935.6 1145) scale(1 1.04)" text-anchor="middle">3</text>
<text transform="translate(1180.5 1145) scale(1 1.04)" text-anchor="middle">4</text>
<text transform="translate(1425.4 1145) scale(1 1.04)" text-anchor="middle">5</text>
</g>
<text transform="translate(134 616.8) rotate(-90)" text-anchor="middle" font-family='"Liberation Sans", Arial, sans-serif' font-weight="700" font-size="58.5" fill="#000">log2FoldChange</text>
<text x="959" y="1230.7" text-anchor="middle" font-family='"Liberation Sans", Arial, sans-serif' font-weight="700" font-size="58.5" fill="#000">log10BaseMean</text>
<text transform="translate(958.5 136) scale(1 1.04)" text-anchor="middle" font-family='"Liberation Sans", Arial, sans-serif' font-weight="700" font-size="74.5" fill="#000">HSC</text>
<path d="M1594.4 245V613.6" stroke="#FF64BE" stroke-width="10.6" fill="none"/>
<path d="M1594.4 613.6V981.5" stroke="#7B70DE" stroke-width="10.6" fill="none"/>
<path d="M1594.4 180.5L1622.1 275L1594.4 255L1566.7 275Z" fill="#FF64BE"/>
<path d="M1594.4 1043.5L1622.1 951L1594.4 975L1566.7 951Z" fill="#7B70DE"/>
<text transform="translate(1680.8 397.5) rotate(-90) scale(1 1.04)" text-anchor="middle" font-family='"Liberation Sans", Arial, sans-serif' font-weight="700" font-size="60" fill="#FF64BE" textLength="79.5" lengthAdjust="spacingAndGlyphs">UP</text>
<text transform="translate(1680 829.5) rotate(-90) scale(1 1.04)" text-anchor="middle" font-family='"Liberation Sans", Arial, sans-serif' font-weight="700" font-size="60" fill="#7B70DE" textLength="183.8" lengthAdjust="spacingAndGlyphs">DOWN</text>
<!-- ============ panel A : ST3 ============ -->
<path d="M311.7 1911.2H1594.3" stroke="#000" stroke-width="8"/>
<path stroke-linecap="round" d="M769.7 1873.1h0M736.2 1852.5h0M513.8 1790.7h0M858.7 1882.9h0M956.6 1888.1h0M468.2 1791.5h0M951.2 1888.4h0M523.3 1818.1h0M920.7 1877.4h0M655.6 1849.1h0M685.3 1857.6h0M487.2 1619.7h0M856.1 1883.3h0M708.7 1865.5h0M962.7 1892.9h0M853.6 1833.4h0M705.9 1851.5h0M814.1 1880.7h0M603.9 1624.4h0M1002.7 1895h0M804.6 1879.4h0M684.8 1830.4h0M427.5 1651.9h0M820.1 1866.6h0M597.9 1842.2h0M902.7 1881.9h0M908.8 1885.6h0M667.4 1856.2h0M660.7 1856.3h0M625.3 1814.6h0M716.1 1837.5h0M822.9 1870.7h0M493 1663.7h0M514 1767.5h0M947.2 1892.1h0M1006.3 1895.7h0M850.8 1882.9h0M822.7 1877.9h0M949.7 1885.4h0M554 1773.1h0M875.6 1884.8h0M944 1891h0M715.9 1816.4h0M819.9 1872.2h0M490.1 1770.3h0M856.7 1881.8h0M831.8 1874.6h0M520.5 1808h0M810.7 1879.4h0M920 1882.2h0M800 1880h0M914.7 1883.9h0M538.5 1790.9h0M786.1 1875.1h0M853.3 1877h0M623.8 1830.7h0M1016.6 1896.2h0M902.5 1879.1h0M387.2 1623.6h0M692.5 1852.3h0M648 1850.3h0M1000.1 1892.2h0M909.1 1871.8h0M758.7 1855h0M891.8 1879.2h0M915 1888.9h0M845.7 1881.8h0M953.5 1892.7h0M597.5 1834.7h0M663 1844.9h0M910.4 1889.6h0M560.7 1822h0M406.8 1533.6h0M706.6 1853.8h0M914.5 1874.1h0M830.9 1876.1h0M816.7 1873.5h0M534.6 1769.7h0M466.7 1799.1h0M611 1660h0M861.1 1883.3h0M660 1840.9h0M770.6 1858.8h0M885.4 1885.7h0M600.9 1697.5h0M743 1826.1h0M433.1 1704.9h0M666.2 1674.2h0M938.1 1880.3h0M623.3 1796.1h0M626.6 1850.2h0M607.4 1839.3h0M828.1 1882.1h0M821.5 1857.6h0M887.6 1801.8h0M532.5 1569h0M810.5 1876h0M435.2 1669.6h0M521.5 1757.3h0M725.7 1864.3h0M788.7 1876h0M1000.6 1881.9h0M750.4 1860.2h0M702.2 1811.2h0M467.7 1801.9h0M921.9 1877.5h0M765.7 1872.3h0M470.7 1528.8h0M822.4 1880.7h0M613.9 1815.7h0M854.9 1825.5h0M816.4 1854.4h0M801.8 1875.3h0M635 1850.6h0M871.1 1886.5h0M386.2 1741.9h0M486.3 1799.2h0M982.7 1890.9h0M793 1876.2h0M885.4 1829h0M933.2 1890.8h0M513.8 1813.3h0M570.4 1776.5h0M998.6 1889.3h0M731.8 1832.8h0M753.5 1858.6h0M825.7 1881.4h0M652.8 1823.4h0M461.6 1727.9h0M1004.5 1890.8h0M1025.1 1890h0M745 1867.8h0M708.6 1862.2h0M712.4 1859.2h0M385 1643h0M880.9 1884.6h0M489.9 1777.3h0M563.8 1770.6h0M613.2 1835.8h0M823.3 1874.7h0M845.4 1883.7h0M790.1 1878.5h0M751.3 1868.6h0M384 1580.7h0M743.1 1843h0M801.2 1868.3h0M572.6 1831.8h0M664.6 1813.2h0M543 1825.9h0M419.6 1681.2h0M816.3 1872.8h0M741 1870.3h0M899.9 1887.2h0M550.1 1814.7h0M687.8 1839h0M721.1 1798h0M751.9 1863.2h0M589.4 1832h0M902.9 1882.8h0M503.9 1773.3h0M424 1719h0M667.7 1849.3h0M441.8 1785.6h0M1046.8 1897.8h0M661.5 1713.1h0M861.7 1883.6h0M712.4 1833.5h0M1042.1 1896.6h0M768.8 1865.5h0M1003.2 1873.6h0M441.9 1732.7h0M471.1 1724.2h0M798.8 1825.7h0M848.7 1882.9h0M956.2 1876.5h0M646.2 1678.9h0M924.1 1884.1h0M807.9 1870.8h0M496.5 1806h0M516.9 1791.4h0M644.6 1795.6h0M533.5 1816.2h0M407.7 1715.6h0M810.3 1755h0M693.5 1862.1h0M942.7 1883.1h0M749.5 1740h0M869.8 1875.7h0M762.5 1868.2h0M1006 1868.9h0M739.2 1866.1h0M982.6 1865.6h0M742.9 1795.5h0M585.4 1809.8h0M612.4 1817.6h0M891.7 1886.8h0M876.1 1872.4h0M841.2 1879.9h0M572.5 1837.3h0M1062 1880h0M774.2 1843.2h0M843.6 1869h0M584.5 1777.5h0M1015.6 1895.5h0M529 1802.8h0M570.7 1750.7h0M885.1 1883.8h0M876.4 1884.5h0M563.4 1788.7h0M559.3 1651.4h0M474.6 1800.8h0M739 1868.9h0M935.3 1890h0M897 1883h0M719.8 1852.6h0M924.4 1882.1h0M1010.3 1880.3h0M560.2 1812.7h0M883.4 1886.3h0M836.4 1881.1h0M820.8 1820.4h0M925.5 1889.1h0M458.4 1685.9h0M592.4 1827h0M856.3 1866.7h0M762.8 1872.7h0M742.8 1867.7h0M994.2 1883.7h0M1066.5 1897.6h0M563.2 1808.2h0M775.4 1876.9h0M927.7 1889h0M639.3 1833.4h0M695.1 1836.8h0M859.9 1883.8h0M612.8 1821h0M811.9 1880h0" stroke="#FF0000" stroke-width="8.4" opacity="0.5"/>
<path stroke-linecap="round" d="M730.6 1851.1h0M730.8 1866.8h0M771.5 1851.5h0M484.6 1633.8h0M751.5 1872.8h0M735.5 1870.1h0M961.2 1892.2h0M737.7 1860.1h0M675.7 1859.1h0M885.8 1884.1h0M523.3 1718.5h0M937.4 1891.5h0M658 1836.6h0M579.6 1835.9h0M554.8 1776.4h0M559.8 1816.3h0M897.3 1888.7h0M747.9 1813.4h0M849 1869.5h0M796.3 1858.2h0M844.2 1881.7h0M847.9 1882.3h0M788.6 1864.1h0M1019 1854.5h0M433.6 1694.2h0M554.9 1814.6h0M908.9 1885.1h0M493 1802h0M883.5 1880.9h0M852.1 1879.4h0M1014.1 1857.4h0M511.8 1798.7h0M926.8 1884.1h0M821.8 1872.1h0M1151.5 1894h0M842.6 1880.1h0M625.5 1842h0M818.8 1879.6h0M696 1860.9h0M916.2 1882.8h0M591.1 1825.9h0M612.3 1832.7h0M819.7 1803.2h0M874.5 1884.7h0M972.3 1892.1h0M742.3 1853.3h0M616.9 1783h0M940.2 1891.8h0M826.9 1874.8h0M595.1 1817.5h0M609.9 1822.3h0M710 1843.8h0M480.6 1658.9h0M1024.9 1896.2h0M910 1889.8h0M833.1 1852.2h0M418.8 1717h0M678.7 1828.9h0M475.7 1796h0M550.9 1816.3h0M1009.3 1889.4h0M705.1 1854.1h0M871.7 1886.7h0M614.3 1838.9h0M988.5 1894.7h0M1014.6 1892.3h0M522.2 1726.9h0M1005.2 1888.8h0M618.3 1635.3h0M1034.8 1896.4h0M418 1748.4h0M578.4 1605.8h0M914.6 1877.4h0M595.8 1835.2h0M612.2 1811.9h0M982.1 1883.1h0M955.8 1882.4h0M905.5 1871h0M495.3 1726.5h0M729.5 1867.7h0M869.5 1874.2h0M724.3 1866.8h0M755 1871.4h0M903.1 1858.3h0M928 1848.3h0M833.3 1873.6h0M503.3 1805.9h0M751.2 1863.6h0M879.6 1884.1h0M750.3 1862.3h0M602.1 1741.1h0M884.2 1881h0M878 1885.9h0M937 1800.6h0M434.6 1717.6h0M823 1879.7h0M610.7 1766.9h0M570.6 1622.8h0M608 1692.9h0M571.6 1822.5h0M619.4 1786.6h0M558.7 1819.5h0M518.1 1786.8h0M571.7 1731.6h0M947.6 1886.5h0M790.3 1807.3h0M892.8 1882.1h0M596.9 1840.7h0M924.5 1885h0M577.5 1816.5h0M445.5 1726.6h0M1035.6 1864.9h0M523.6 1771.8h0M507.4 1809.7h0M901.9 1877.1h0M573.7 1789.5h0M500.1 1813.6h0M570.8 1837.5h0M841.1 1882.8h0M539.8 1810.2h0M422.7 1773.7h0M769.2 1846.8h0M959.1 1892.4h0M886.2 1790.5h0M812.3 1871.4h0M874.5 1873.9h0M475.7 1748.6h0M912.5 1884.4h0M919.6 1890.1h0M962.8 1860.2h0M1075 1894.5h0M757.3 1865.3h0M576.8 1803.9h0M554.4 1819.3h0M748.6 1847.5h0M761.2 1871.6h0M635.9 1811.5h0M803.6 1868.3h0M698.7 1822.9h0M701.2 1849.1h0M587.7 1655.9h0M627.1 1840.1h0M809.5 1863.7h0M1045.8 1893.5h0M667.2 1844.5h0M774.4 1855.3h0M614.1 1809.6h0M706.3 1835.3h0M551.6 1766.6h0M855.5 1875h0M599.8 1843.4h0M547.3 1820.4h0M434.6 1717.1h0M876.6 1876.5h0M478.2 1765.9h0M587.8 1819.3h0M658 1782.8h0M887 1884.2h0M534.9 1823.4h0M741.3 1868.7h0M711.3 1859.1h0M976.4 1893.3h0M479.8 1761.6h0M1062.6 1896.8h0M598.4 1800.9h0M743.3 1866.1h0M452.8 1755.5h0M722.9 1861h0M845.1 1879h0M473.6 1785.8h0M888 1884.8h0M449.6 1741.1h0M1029.5 1859.3h0M511.4 1805.1h0M545.1 1826.5h0M503.7 1786.9h0M849.7 1883h0M660.8 1848.8h0M927.8 1848h0M743.4 1870.3h0M533 1788.7h0M974.4 1893.6h0M909.6 1854.6h0M649.3 1696.5h0M877.2 1877.4h0M821.1 1869.4h0M783.5 1868h0M721.3 1832.2h0M1064.8 1893.9h0M912.1 1882.7h0M1041.6 1890.5h0M562.3 1813h0M1057.8 1887.7h0M870.5 1881.3h0M872.1 1869h0M492.1 1651.6h0M580.5 1793.7h0M487.9 1793.7h0M879.4 1875.3h0M556.5 1820.8h0M510.8 1734.5h0M833.7 1881.2h0M703.9 1860.6h0M432.9 1617.5h0M863.6 1883.9h0M953.5 1890.8h0M589 1746.7h0M546.3 1820.7h0M613 1845.3h0M391 1752.4h0M776.6 1874.7h0M749.3 1871.5h0M574.7 1797.5h0M625.9 1842.8h0M644.1 1838.1h0M855.8 1880.4h0M384.2 1671.1h0M880.7 1881.2h0M785.1 1864.9h0M974.8 1875.2h0M849.5 1861h0M1020 1886h0M786.4 1876.6h0M441.7 1786h0M622.6 1813.3h0M831.6 1880.6h0M912.2 1858.6h0M643.3 1819.1h0M970.4 1891.5h0M874.3 1867.2h0M862.3 1728.9h0M738.9 1871.2h0M705.8 1826.5h0M888.9 1745.5h0M926.7 1872.8h0M956 1890.1h0" stroke="#FF0000" stroke-width="8.4" opacity="0.5"/>
<path stroke-linecap="round" d="M519.7 2043h0M441.8 2134.4h0M1154.5 1953.4h0M921 1936.3h0M862.5 1941.7h0M458.4 2040.9h0M1011.9 1941.9h0M849.7 1956.6h0M822 1961.5h0M769.5 1944.1h0M762.4 1963.3h0M628.5 1990h0M621.6 1975.1h0M648.5 1981h0M736.7 1990.2h0M1024.6 1930.6h0M508.7 2038.7h0M605.5 2072.2h0M873 1938h0M638.8 2046.4h0M813.3 1943.2h0M1054.9 1942.2h0M857.6 1939.2h0M896.2 1937.9h0M918.4 1933.9h0M972.8 1934.9h0M406.4 2253.3h0M544.6 2108.8h0M917.3 1937.3h0M744.7 1951.2h0M815.8 1943.9h0M436.3 2112.4h0M790.4 1945.3h0M689 2109h0M497.9 2100.8h0M864.6 1968.8h0M1092.7 1923.3h0M569.7 2185.7h0M793.3 1942.6h0M516.2 2017h0M881.7 1957.1h0M390.2 2069.2h0M842.5 1961.5h0M1092 1923.4h0M489.4 2020.9h0M731.3 2010.7h0M521.6 2068.9h0M1027.1 1941.6h0M826.5 2070.3h0M588.8 2009.5h0M978 1928.3h0M1028.1 1934.1h0M473.1 2039.3h0M586.6 1974.7h0M810.8 1942.7h0M514.3 2035.7h0M552.7 1998.2h0M718.9 1949.7h0M851.8 1940.6h0M866.7 1936.5h0M1039.3 1923.7h0M743.3 2163.4h0M1035.4 1926.3h0M407.3 2213.7h0M1011.8 1926.8h0M744.6 1959.9h0M693 1951.6h0M957 1934.1h0M654.7 1975.2h0M732.9 1977.9h0M619.6 1988.5h0M1007.1 1932.9h0M753.3 1946.4h0M598.9 1993.3h0M725.9 1958.6h0M423.9 2085.1h0M572.8 1986h0M677.6 1968.7h0M737.7 1957.7h0M939.8 1949h0M998.2 1947.6h0M1049.6 1924.9h0M1011.3 1933.1h0M817.2 1942.4h0M615.7 2038h0M614.5 1974.5h0M749 1964.3h0M794.1 1949.1h0M611.3 2081.8h0M910.8 1943h0M506.7 2013.5h0M700.1 1950.6h0M534.2 2095.2h0M826.1 1962h0M587.1 2010.1h0M1239.3 1939.1h0M915.5 1934.2h0M545 2013.4h0M879.2 1940.7h0M783.7 1949.9h0M813.8 1942.7h0M512.6 2111.3h0M763.3 1948h0M885.3 1964.9h0M946.2 1933.1h0M996.2 1950h0M872.4 1987.1h0M735.1 1964.5h0M794 1945.9h0M582.3 2001.1h0M938.3 1931.1h0M970.7 1955.8h0M1268.9 1952.7h0M843.3 1940.5h0M1112.7 1924.8h0M547.2 1997.2h0M820.1 1951.4h0M740.9 1949.4h0M851.2 1941.5h0M877.1 1935.7h0M1117.7 1921.1h0M826.5 1946.6h0M946.6 1938.5h0M864.4 1938.8h0M967.1 1929.3h0M1269.1 1981.8h0M942 1939.5h0M639 1978.4h0M653.1 1973.8h0M550.4 2263.9h0M431 2227h0M943.1 1942.2h0M582.4 2212.5h0M806.8 1963.8h0M993.4 1927.5h0M890.4 1936.9h0M669.9 1962.6h0M597.7 2043h0M687.7 1969.2h0M563.5 2040.2h0M576.9 2017h0M776.2 1949.1h0M684.8 1964.5h0M623.7 2009.5h0M579.9 2018.9h0M691 1977.4h0M653.5 2026.5h0M660.2 1989.3h0M701.7 1958.5h0M541.3 1999h0M839.3 1948.6h0M590.3 1999.1h0M863 1954.8h0M993.1 1952.6h0M1111.8 1922.8h0M584.1 1978.5h0M959.7 1952.3h0M697.7 1976.7h0M767.8 1944.1h0M949.4 1941.9h0M548 1999h0M587.9 1976h0M796 1951.1h0M566.9 2008.2h0M533.7 2016.5h0M592.3 1978.3h0M854.9 1941.2h0M1135.1 1963.5h0M865.5 1943h0M989.2 1932.2h0M1017 1931.8h0M711.2 1947.9h0M970.6 1966.8h0M524.5 2020.4h0M785.7 1942.4h0M649.9 1967.3h0M862.2 1936.8h0M956.5 1930.3h0M1002.7 1929.1h0M608.8 1972.2h0M931.3 1946.6h0M591.3 2031.6h0M821.8 1941.7h0M609.8 1973.4h0M644.3 1973.9h0M680.4 2057.1h0M585.3 1973.8h0M898.2 1948.8h0M933.1 1934.5h0M1162.2 1940.8h0M473.6 2039.1h0M598.6 1982.4h0M974.7 1929.9h0M805.2 1941.8h0M624.7 1965.6h0M560.1 1994.4h0M677.8 1960.4h0M982.9 2015h0M455.4 2061.8h0M545.1 1993.9h0M596.8 1971.4h0M372.9 2210h0M525.8 2044.6h0M761 2016.4h0M869.7 1943h0M598 1996.4h0M565.1 2018.9h0M972.5 1928.6h0M739.2 1967.8h0M612.1 1967h0M559.4 2062.6h0M850.9 1937.6h0M524.6 2080.8h0M955.2 1930.3h0M853.6 1950h0M415.1 2083.7h0M937.7 1935.8h0M709.6 1953.6h0M691.5 1957.8h0M622.2 1964.3h0M641.2 2050.8h0M603.7 1990.8h0M1257.6 1944.7h0M937 1936.7h0M567 2017.5h0M415.5 2239h0M763.5 1949h0M927.8 1958.5h0M544.9 2030.2h0M964.3 1944.5h0M579.6 2014.8h0M463.2 2048.1h0M966.4 1937.6h0M930.9 1951.9h0M688 1956.2h0M574.6 1992.1h0M1095 1923.5h0M843.1 2001.4h0M981.6 1929.5h0M730 1953.6h0M660.2 1983.1h0M388.4 2211.3h0M897.9 1935.4h0M894.3 1934.2h0M564 1988.4h0M729 1958.3h0M582.9 1997.9h0M603.8 1982.8h0M977.5 1985.7h0M759 1969.7h0M433 2087.8h0M722 1967.5h0M918 1932.5h0M939.3 1931.1h0M915.8 1943.5h0M800.2 1952.2h0M1035.4 2014.5h0M489.9 2027h0M596.9 2090.7h0M968.4 1931.9h0M582.6 2046.9h0M915.5 1933h0M952.4 1932.2h0M690.2 1996.6h0M947 1933.4h0M603 1970h0M1181.2 1944.2h0M824.7 1953.8h0M528.9 2002.3h0M917.2 1937.8h0M739.3 1947.8h0M915.2 1941.9h0M916.4 1933.1h0M520.8 2064.9h0M708.5 1949.4h0M540 2004.2h0M814 1945.2h0M938 1955.2h0M486.8 2025.9h0M1067.6 1937.3h0M581.6 1981.1h0M723.3 1960.5h0M937.7 1943.6h0M819.6 1947.9h0M1257.8 1944.1h0M751.3 1967h0M730.1 1948.4h0M642.3 1962.1h0M1242.6 1947.9h0M463.8 2079h0M703.7 1950.3h0M878.1 1942.4h0M798.6 1951.7h0M771 1949h0M794.4 1944.2h0M671 1973.7h0M800.4 1941.5h0M937 1943.1h0M920.3 1943.9h0M663.6 1956.6h0M431.6 2100.1h0M716.5 1950.3h0M774.5 1968.6h0M825.4 1946.7h0M926 1932.9h0M942.1 1933.4h0M853.4 1945.1h0M1209.5 1954.8h0M880.4 1937.7h0M888.8 1958.2h0M887.4 1941.1h0M768.9 1961h0M1095.4 1922.7h0M791.6 1949h0M747.4 2101.8h0M942.7 1938.7h0M812.3 1947.8h0M808.5 1943.3h0" stroke="#0000FF" stroke-width="8.4" opacity="0.5"/>
<path stroke-linecap="round" d="M1011 1925.5h0M1069.1 1947.6h0M1113.6 1920.9h0M904 2018h0M1012.7 1927.4h0M939.3 1943.7h0M647.4 2048.5h0M822.8 1941.2h0M878.9 1937h0M975.1 1934.8h0M1146 1988h0M941.6 1943.7h0M608 1971.1h0M529.9 2002h0M572.3 2095h0M974.5 1943.4h0M447.2 2049.5h0M1094 1945.9h0M413.4 2136.4h0M797.5 1943h0M843.7 1967.7h0M932.5 1931.7h0M757.7 1957.4h0M944 1930.3h0M873.5 1995.6h0M690.8 1957.1h0M605.6 1982.6h0M933.9 1943.3h0M1008.5 1926.2h0M728 2041.7h0M792.8 1948h0M865 1957.2h0M945 1930.8h0M804.4 2000.2h0M530.6 2020.2h0M957.8 1930.2h0M582.1 2058.6h0M629.3 1965.9h0M962 1995.1h0M948.1 1931.1h0M716 1991.5h0M1036.9 1928h0M551.5 1991.7h0M773.2 1950.7h0M589.8 2090.4h0M775 2085.8h0M925.7 1951.3h0M611.6 1975.1h0M871.4 1952.1h0M741.3 1951h0M559.6 2021.3h0M566.8 2012.2h0M848.1 1956.5h0M770 1945.4h0M440.3 2185.7h0M686.2 1961.6h0M828.1 1958.3h0M769.4 1948.5h0M860.7 1943.3h0M659.9 1965h0M965.9 1938.3h0M959.8 1930.8h0M699.6 1952.6h0M881.3 1937.6h0M875.1 1941.5h0M1056.2 1948.3h0M586.7 2010.2h0M704.3 1953.4h0M612.2 2057.3h0M762.9 1954.6h0M633.7 1964.3h0M894.7 1937.1h0M513.3 2104.6h0M859.4 1939.1h0M1258.8 1959.5h0M1032.8 1936h0M571.5 1993.9h0M706.2 1968h0M952.5 1931.6h0M652.7 1963.1h0M371.3 2103.1h0M1192.4 1935.2h0M781.6 1946.7h0M703.9 1955.3h0M779.8 2076h0M860.5 2009.1h0M610.7 2045.8h0M715.5 1956.9h0M682.5 1975.9h0M573.2 1980.3h0M1070.5 1952.2h0M450 2053.4h0M980.1 1927.7h0M1072.4 1926.1h0M680.2 2019.5h0M884.7 1937.4h0M1001 1930.4h0M574.6 1978.2h0M602.2 1993.8h0M747.3 1947.6h0M847 1955.2h0M946.7 1950.6h0M575.9 2031.9h0M529.6 2073h0M824.5 1942.3h0M673.2 1954.8h0M761.7 1950.4h0M1015.3 1933.1h0M453.9 2262h0M833.1 1945.6h0M1000.2 1938.6h0M850.8 1941.6h0M974.6 1936.4h0M1010.6 1968.4h0M785.2 1948.8h0M933.6 1931.2h0M981.4 1929.4h0M807.5 1945h0M536.6 2005.3h0M891.7 1934.5h0M545.3 2079.9h0M1070.3 1934.8h0M472 2146.8h0M560.6 2002.6h0M741.2 1956.6h0M718.1 1969.8h0M770.4 1943.7h0M1028 1924.4h0M782.5 1984.8h0M942.2 1934.3h0M559.3 1989.8h0M431.1 2164.1h0M886.2 1940.7h0M994 1929.8h0M958.4 1941.2h0M1110.6 1921.4h0M1242.7 1952h0M831.6 1960.8h0M565.7 2016.5h0M1171.5 1946.7h0M771.7 1947.5h0M1130.8 1942.7h0M810.5 1942.9h0M583.6 2027.5h0M589.7 2028.2h0M643 1962.1h0M897.9 1950h0M769 1946.5h0M490.6 2047.1h0M849.2 1941.1h0M628.1 1963.3h0M619.3 2010.9h0M983.9 1939.6h0M818.2 1952.8h0M589 1984.2h0M613 1986.5h0M1145.9 1949.1h0M634.5 1966.1h0M611.4 1984.1h0M586.2 2020.4h0M873.7 1939.5h0M558.3 1991.4h0M612.8 1972.2h0M638.8 2000.1h0M805.1 1945.7h0M963.9 1929.4h0M828.6 1940.4h0M985.9 1936.7h0M848.4 1938.9h0M441 2254.2h0M606.6 1994.8h0M1262.7 1947.9h0M1014.9 1927.1h0M420.1 2082h0M488.2 2043h0M1107.1 1928.6h0M1019 1924.9h0M573.1 1992.6h0M966.3 1929.9h0M533.2 2020.2h0M1049.3 1924.1h0M1105.1 1921.3h0M707.6 1964.1h0M852.3 1953.7h0M449.6 2154.6h0M754.7 1978.2h0M892.1 1946.5h0M477.3 2035.2h0M925.5 1934h0M1038.1 1931.6h0M564.2 1987.7h0M483.7 2031.2h0M1047.1 1926.9h0M874.6 1937.7h0M860.7 1940.6h0M534.7 2063h0M783.2 1948.3h0M663.4 1964.2h0M785.5 1966.7h0M1046.2 1930.3h0M788.6 1945.8h0M506.5 2186.1h0M983.4 1927h0M848.4 1947.5h0M607.6 1975.1h0M921.7 1936.5h0M661.2 1957.1h0M712.2 1947h0M608.2 1977.5h0M998.2 1938.5h0M904.5 1937.6h0M806.4 1949.5h0M838.6 1953.8h0M1072.2 1924.7h0M977.6 2021.5h0M1227.2 2033.2h0M944.5 1943.1h0M745.9 1947.5h0M885.3 1940.4h0M1057.8 1924.3h0M852.1 1947.2h0M874.5 1945.2h0M847.2 2028.8h0M710.2 1949.4h0M545 2005h0M663.3 2024h0M667.4 1993.4h0M855.5 1939.9h0M716.9 1947.8h0M497.7 2092.1h0M824.3 1940.7h0M932 1967.3h0M1107.8 1943.7h0M533.4 2010.3h0M830.6 1941.9h0M786.6 1944.2h0M818.5 1947.4h0M904.5 1972.8h0M898.4 1933.9h0M392.7 2122.8h0M660.9 1988.7h0M673.8 1964.4h0M954.6 1939.9h0M866 1936.8h0M668.2 2037h0M669.5 1960.8h0M752 1954.7h0M1241.7 1944h0M925 1934.4h0M557.9 1991.2h0M1002 1939.1h0M774.1 1978.2h0M1223.8 1943.4h0M578.4 1975.9h0M478.8 2108.6h0M567.9 1999.8h0M762.4 1945.1h0M835.8 1959.4h0M1002.7 1927.8h0M1055.6 1929.5h0M721.7 2118.7h0M470 2035.2h0M825 2025.2h0M969.9 1943.8h0M464.9 2032.4h0M762.4 1967.7h0M388.3 2286.4h0M698 1972.9h0M797.2 1941.3h0M979.5 1930.4h0M546.3 2069.4h0M767.1 1956.2h0M816.3 1941.1h0M783.8 1984.9h0M403.2 2056.4h0M502 2019.1h0M748.7 1958.4h0M811.2 1957.8h0M770.5 1948.6h0M819.2 1971.4h0M424.3 2065.3h0M640.6 1990.3h0M804.1 1943.7h0M1022.7 1932.2h0M916.4 1935.1h0M858 1948.1h0M497.5 2071.6h0M689.7 1979.3h0M971.6 1936.5h0M879 2016.7h0M737.5 1954.2h0M729.6 1961h0M771.7 1945h0M767.1 2067.2h0M562.7 2011.2h0M940.7 1935.1h0M928.5 1932.5h0M887.8 1943.9h0M617.4 2041.8h0M1234.5 1948.6h0M948.7 1936.8h0M874.4 1945h0M1010.5 1934.9h0M938.9 1932h0M771.3 1953.7h0M467.7 2133h0M799.9 1951.2h0M948.7 1941.2h0M895.6 1936.4h0M918.4 1956.7h0M796.3 2002.2h0M932.8 1940.9h0M697 1964.5h0M704.1 1962.6h0M836.3 1951.3h0M460.1 2040.7h0M948.5 1929.7h0M798.5 1951.9h0" stroke="#0000FF" stroke-width="8.4" opacity="0.5"/>
<path d="M390.9 1855L398.2 1853.6L405.6 1852.2L412.9 1850.9L420.3 1849.5L427.6 1848.1L435 1846.7L442.3 1846.2L449.7 1847.5L457 1848.7L464.4 1850L471.7 1851.2L479.1 1852.5L486.4 1853.7L493.8 1855L501.1 1856.2L508.4 1857.5L515.8 1858.3L523.1 1859.1L530.5 1859.9L537.8 1860.7L545.2 1861.5L552.5 1862.2L559.9 1863L567.2 1863.8L574.6 1864.6L581.9 1865.4L589.3 1866.5L596.6 1867.6L604 1868.7L611.3 1869.8L618.7 1870.9L626 1872L633.3 1873.1L640.7 1874.2L648 1875.4L655.4 1876.3L662.7 1877.3L670.1 1878.2L677.4 1879.2L684.8 1880.1L692.1 1881L699.5 1882L706.8 1882.9L714.2 1883.9L721.5 1884.8L728.9 1885.6L736.2 1886.5L743.6 1887.3L750.9 1888.1L758.2 1888.9L765.6 1889.8L772.9 1890.6L780.3 1891.4L787.6 1892.3L795 1893.1L802.3 1893.9L809.7 1894.3L817 1894.7L824.4 1895.2L831.7 1895.6L839.1 1896.1L846.4 1896.5L853.8 1896.9L861.1 1897.4L868.5 1897.8L875.8 1898.3L883.1 1898.7L890.5 1899.2L897.8 1899.6L905.2 1900L912.5 1900.5L919.9 1900.9L927.2 1901.8L934.6 1903L941.9 1904.2L949.3 1905.2L956.6 1906.2L964 1907L971.3 1907.8L978.7 1908.5L986 1909.3L993.4 1909.9L1000.7 1910.5L1008 1910.7L1008 1911.7L1000.7 1911.8L993.4 1912.4L986 1913L978.7 1913.7L971.3 1914.5L964 1915.4L956.6 1916.3L949.3 1917.3L941.9 1918.4L934.6 1919.6L927.2 1920.8L919.9 1921.7L912.5 1922.1L905.2 1922.5L897.8 1922.9L890.5 1923.4L883.1 1923.8L875.8 1924.2L868.5 1924.7L861.1 1925.1L853.8 1925.5L846.4 1926L839.1 1926.4L831.7 1926.8L824.4 1927.2L817 1927.5L809.7 1927.8L802.3 1928.1L795 1928.4L787.6 1928.7L780.3 1929L772.9 1929.3L765.6 1929.6L758.2 1929.9L750.9 1930.2L743.6 1930.5L736.2 1930.8L728.9 1931.1L721.5 1931.4L714.2 1931.7L706.8 1932.6L699.5 1933.5L692.1 1934.4L684.8 1935.3L677.4 1936.2L670.1 1937.1L662.7 1938L655.4 1939L648 1939.9L640.7 1941.1L633.3 1942.3L626 1943.5L618.7 1944.7L611.3 1945.9L604 1947.1L596.6 1948.3L589.3 1949.4L581.9 1950.6L574.6 1952.5L567.2 1954.6L559.9 1956.6L552.5 1958.7L545.2 1960.7L537.8 1962.8L530.5 1964.8L523.1 1966.9L515.8 1969L508.4 1970.9L501.1 1972.6L493.8 1974.3L486.4 1976L479.1 1977.6L471.7 1979.3L464.4 1981L457 1982.6L449.7 1984.3L442.3 1986L435 1985.6L427.6 1984.2L420.3 1982.8L412.9 1981.5L405.6 1980.1L398.2 1978.7L390.9 1977.3Z" fill="#D3D3D3" filter="url(#bl)"/>
<path stroke-linecap="round" d="M350 1945h0m1 63h0m2-432h0m0 501h0m5-260h0m3-20h0m0 112h0m10 107h0m1-142h0m2-84h0m0 49h0m0 147h0m0 42h0m0 96h0m2-433h0m0 313h0m1-256h0m0 30h0m0 209h0m0 57h0m1-125h0m0 93h0m1-253h0m1-39h0m0 293h0m0 89h0m1-282h0m0 93h0m0 96h0m1-114h0m0 191h0m1-218h0m0 23h0m0 37h0m0 31h0m1-124h0m0 25h0m0 100h0m0 2h0m0 27h0m1-247h0m0 22h0m0 224h0m1-199h0m0 20h0m0 118h0m0 65h0m1-195h0m0 28h0m0 71h0m0 16h0m0 11h0m0 92h0m0 134h0m1-402h0m0 158h0m0 84h0m0 55h0m1-169h0m0 231h0m1-240h0m0 55h0m0 8h0m0 66h0m0 27h0m0 39h0m1-91h0m1-204h0m0 58h0m0 199h0m0 64h0m1-248h0m0 2h0m0 103h0m0 41h0m0 39h0m1-204h0m0 1h0m0 14h0m0 36h0m0 132h0m1-158h0m0 101h0m0 58h0m1-183h0m0 14h0m0 34h0m0 68h0m0 45h0m0 11h0m1-179h0m0 22h0m0 8h0m0 159h0m1-217h0m0 51h0m0 113h0m1-130h0m0 12h0m0 24h0m0 76h0m0 30h0m0 9h0m0 38h0m1-219h0m0 105h0m0 146h0m1-222h0m0 69h0m0 9h0m0 56h0m1-122h0m0 7h0m0 140h0m1-72h0m0 102h0m0 1h0m1-97h0m1-28h0m0 91h0m1-64h0m1-62h0m0 4h0m0 135h0m1-129h0m1 116h0m1-135h0m1-63h0m0 80h0m0 151h0m1-8h0m1-193h0m0 41h0m1-34h0m1 29h0m1 134h0m1-127h0m0 171h0m2-209h0m0 220h0m1-226h0m0 39h0m1 128h0m1 24h0m1-15h0m0 12h0m2 18h0m0 8h0m4-23h0m1-138h0m0 134h0m1-4h0m0 32h0m1-187h0m1-22h0m0 15h0m1-10h0m0 169h0m0 42h0m1-217h0m0 4h0m0 178h0m0 21h0m1-168h0m2 157h0m1-174h0m0 175h0m1 1h0m2-205h0m0 180h0m0 23h0m0 30h0m2-198h0m0 182h0m1-190h0m1 33h0m2 118h0m1-168h0m0 43h0m2-22h0m1-34h0m1 231h0m1-202h0m1 11h0m0 21h0m0 134h0m1-158h0m1 201h0m2-215h0m0 153h0m1 33h0m2-163h0m0 156h0m0 20h0m2-22h0m1-151h0m0 1h0m0 150h0m0 5h0m1-155h0m1 16h0m2-48h0m0 162h0m0 17h0m1 4h0m1-22h0m1-9h0m0 24h0m1-11h0m1-150h0m1 10h0m1 24h0m1-30h0m1 1h0m0 187h0m1-208h0m1 8h0m0 3h0m0 8h0m1 156h0m0 15h0m2-139h0m0 123h0m2-156h0m1 32h0m2 112h0m0 3h0m0 18h0m0 3h0m3 3h0m2-40h0m0 16h0m0 14h0m1-174h0m1 31h0m0 143h0m2-4h0m2-166h0m1 45h0m0 100h0m1 13h0m2-138h0m4 161h0m1-44h0m1-119h0m5 26h0m0 108h0m2-116h0m1-6h0m0 129h0m1-6h0m1-137h0m1 131h0m1-134h0m0 123h0m1-91h0m0 117h0m0 7h0m1-161h0m0 40h0m1-7h0m0 116h0m4-112h0m0 105h0m2-145h0m2 24h0m0 6h0m1 104h0m4-112h0m0 109h0m8-115h0m1 13h0m1 90h0m1 12h0m1 21h0m1-123h0m0 15h0m1 93h0m1 4h0m3-108h0m3 104h0m3-93h0m1 73h0m2-81h0m0 93h0m1 7h0m2-15h0m4-104h0m0 109h0m1-110h0m1 132h0m1-103h0m1 83h0m0 9h0m1-24h0m1-89h0m0 4h0m0 84h0m1-85h0m0 91h0m0 21h0m2-17h0m3-72h0m1-23h0m0 93h0m2 9h0m1-13h0m0 15h0m1-1h0m2-109h0m1-3h0m1 22h0m0 100h0m2-96h0m0 4h0m1 60h0m4-76h0m3 5h0m1 0h0m0 83h0m1 0h0m2-87h0m2 73h0m1-82h0m0 27h0m0 84h0m1-112h0m0 1h0m0 93h0m0 3h0m0 2h0m0 14h0m2-88h0m0 71h0m2 17h0m6-105h0m1 14h0m0 88h0m3-6h0m1-100h0m2 14h0m1-4h0m2-12h0m1 77h0m1-54h0m2 5h0m2 80h0m1-97h0m2 22h0m0 63h0m0 5h0m3-92h0m2 8h0m1 10h0m0 1h0m0 68h0m2-11h0m0 10h0m2-84h0m0 18h0m2 53h0m2-4h0m0 22h0m1-14h0m1 17h0m2-12h0m0 4h0m5-79h0m3 67h0m0 8h0m0 10h0m2-81h0m0 71h0m1-8h0m2 9h0m1-76h0m1 4h0m1 62h0m1-58h0m0 61h0m1-70h0m0 81h0m1-85h0m0 85h0m2-23h0m2-53h0m1 13h0m1 52h0m3-74h0m0 14h0m2 71h0m1 0h0m1-6h0m2-16h0m0 11h0m1-68h0m0 7h0m0 3h0m2 52h0m1-50h0m0 12h0m0 31h0m3 1h0m1-33h0m2-19h0m1 54h0m1-61h0m0 78h0m4 3h0m2-6h0m3-66h0m1-7h0m1 1h0m2 24h0m1 25h0m5 0h0m2 19h0m0 5h0m1-45h0m1-16h0m1 13h0m1 46h0m2-48h0m1 1h0m0 42h0m0 3h0m2-14h0m3-35h0m1-6h0m4-4h0m0 42h0m5-23h0m3-3h0m2-22h0m0 9h0m0 11h0m2 5h0m1 36h0m2-2h0m1-15h0m0 15h0m0 2h0m2-34h0m1-22h0m0 49h0m3 5h0m1-51h0m0 49h0m1-45h0m1 3h0m0 11h0m1 2h0m1-21h0m1 55h0m5 7h0m3-18h0m1-45h0m2 43h0m2-5h0m4 1h0m4 19h0m2-43h0m0 1h0m0 3h0m0 24h0m1-25h0m0 29h0m1-6h0m1 8h0m2-40h0m1 38h0m1-36h0m0 9h0m1 28h0m1-37h0m1 31h0m4 15h0m3-44h0m0 23h0m0 18h0m3-38h0m1 7h0m1-3h0m2-1h0m0 28h0m5-11h0m1-31h0m1 20h0m3-19h0m0 30h0m1-9h0m2 23h0m2-15h0m3 5h0m1-13h0m4 20h0m1-36h0m1 6h0m3 31h0m1-25h0m1 1h0m0 1h0m0 2h0m2 1h0m1 22h0m1-2h0m0 1h0m3 0h0m1-27h0m3 19h0m1-26h0m0 35h0m2-1h0m0 6h0m1-18h0m10-16h0m0 29h0m1-18h0m0 18h0m4-33h0m2 8h0m2 10h0m1-2h0m0 1h0m1-7h0m0 7h0m2-2h0m0 1h0m1-9h0m2 14h0m4-14h0m2-3h0m0 5h0m0 13h0m2-17h0m3 6h0m0 17h0m1-12h0m1-13h0m2 4h0m1 4h0m2 17h0m2-1h0m1-2h0m3 0h0m1 1h0m1-16h0m1 14h0m4-17h0m2 24h0m2-16h0m2-7h0m2 20h0m2-30h0m0 7h0m4 10h0m2-16h0m1 33h0m1-23h0m6 13h0m0 2h0m0 5h0m1-8h0m1-1h0m1 2h0m1-16h0m10 5h0m0 11h0m1 9h0m1-13h0m1 3h0m0 2h0m1-16h0m1 11h0m2 10h0m2-27h0m0 5h0m1 15h0m5-13h0m3-6h0m1 7h0m0 11h0m1-22h0m2 28h0m1-9h0m0 11h0m1-2h0m0 3h0m2-25h0m2 8h0m1 1h0m3-7h0m6 20h0m2-18h0m6 14h0m2-13h0m0 9h0m4-4h0m1-7h0m0 7h0m1-12h0m1 19h0m2 7h0m1-18h0m3 2h0m3-4h0m0 19h0m11-28h0m2 17h0m1-10h0m4 13h0m5 6h0m1-24h0m7 8h0m1 1h0m7-8h0m3 9h0m4 5h0m33 8h0m7-14h0m16 5h0m67-4h0m61 9h0" stroke="#D3D3D3" stroke-width="8.4" opacity="0.57"/>
<path stroke-linecap="round" d="M350 2052h0m1-162h0m0 7h0m9 135h0m5-176h0m1 90h0m3-138h0m1 112h0m2 180h0m1-286h0m1-11h0m0 212h0m1-270h0m0 272h0m0 18h0m0 31h0m2-268h0m0 132h0m0 92h0m2-143h0m0 128h0m1-176h0m0 7h0m0 177h0m0 230h0m1-457h0m1 87h0m0 49h0m0 12h0m1-119h0m0 57h0m0 35h0m0 9h0m0 54h0m1-120h0m0 6h0m0 110h0m0 35h0m0 70h0m1-276h0m0 21h0m0 58h0m1-6h0m0 115h0m1-203h0m0 54h0m0 71h0m0 50h0m0 35h0m0 5h0m0 97h0m1-375h0m0 84h0m0 15h0m0 49h0m0 110h0m0 5h0m1-216h0m0 106h0m0 2h0m0 32h0m2-159h0m1-32h0m0 81h0m0 24h0m0 165h0m1-192h0m0 43h0m0 52h0m0 74h0m1-86h0m0 158h0m1-223h0m0 15h0m0 15h0m0 165h0m0 30h0m1-169h0m0 55h0m1 24h0m0 41h0m1-144h0m1 73h0m0 24h0m0 18h0m0 8h0m1-137h0m0 14h0m0 152h0m1-132h0m0 8h0m0 17h0m0 49h0m0 3h0m0 65h0m0 24h0m1-42h0m1-202h0m0 131h0m0 36h0m1-55h0m0 15h0m0 89h0m1-122h0m0 11h0m1-74h0m0 141h0m0 56h0m1-230h0m1 32h0m0 171h0m1-3h0m1-145h0m0 11h0m0 2h0m0 139h0m0 19h0m1-223h0m0 63h0m0 163h0m0 7h0m0 13h0m1-272h0m0 247h0m1-176h0m0 22h0m0 117h0m0 21h0m1-178h0m1 166h0m1 12h0m1-131h0m0 138h0m1-154h0m0 7h0m0 6h0m2-15h0m0 128h0m1 34h0m2 3h0m1-212h0m0 204h0m1-169h0m0 156h0m1 26h0m0 9h0m2-44h0m1-160h0m0 25h0m0 15h0m2 159h0m1-187h0m0 194h0m1-186h0m0 175h0m0 21h0m1-197h0m5 149h0m1-11h0m0 41h0m1-38h0m0 38h0m1-185h0m1 5h0m2-13h0m0 29h0m1-3h0m0 164h0m1 8h0m2-199h0m0 30h0m0 140h0m1-160h0m0 161h0m1-148h0m3 177h0m1-23h0m0 22h0m2-169h0m1 174h0m1-12h0m1-188h0m1 2h0m0 156h0m2 3h0m2-18h0m3-127h0m0 19h0m0 2h0m0 106h0m0 30h0m1 3h0m1 19h0m1-192h0m0 161h0m0 23h0m1-27h0m0 8h0m1-141h0m0 141h0m1-137h0m0 148h0m1-168h0m0 150h0m0 6h0m1-160h0m1 150h0m1-9h0m0 2h0m0 29h0m2-154h0m0 129h0m1-136h0m1 134h0m1 44h0m2-23h0m1-33h0m0 31h0m2-171h0m0 173h0m1 4h0m3-148h0m0 9h0m0 136h0m1-24h0m0 20h0m1 3h0m1-13h0m1-144h0m0 120h0m0 4h0m0 18h0m2-125h0m1 4h0m1-2h0m0 111h0m1-104h0m1 2h0m0 96h0m1 22h0m0 4h0m1-18h0m1-132h0m0 4h0m0 136h0m1-140h0m4 28h0m1-18h0m0 118h0m0 7h0m1-129h0m2-10h0m2-3h0m0 132h0m1 8h0m1-17h0m0 23h0m0 3h0m1-151h0m0 17h0m0 125h0m1-105h0m0 1h0m2-7h0m0 109h0m5-103h0m1 118h0m1-26h0m0 13h0m2-132h0m0 126h0m0 2h0m2-3h0m1-2h0m3 2h0m3-17h0m0 27h0m4-123h0m0 9h0m2-8h0m3 13h0m0 81h0m0 10h0m0 12h0m2-116h0m1 18h0m1-24h0m0 20h0m0 87h0m1-85h0m2 102h0m1-28h0m0 34h0m1-122h0m1-1h0m0 18h0m1 1h0m2-7h0m0 101h0m3-102h0m1 92h0m1-2h0m3-93h0m2-7h0m1 103h0m0 10h0m2-27h0m1 29h0m1-117h0m1 3h0m0 4h0m0 91h0m3-105h0m0 97h0m1-84h0m0 82h0m1-76h0m0 77h0m2-95h0m0 122h0m2-114h0m4 84h0m2-72h0m1-19h0m4 20h0m0 3h0m2-12h0m0 85h0m2-8h0m0 22h0m2-112h0m0 2h0m0 111h0m1-108h0m2 84h0m3 11h0m2-88h0m1-8h0m1 9h0m1 13h0m1 0h0m0 66h0m3-75h0m1 71h0m2-75h0m4-5h0m0 78h0m1-85h0m1 93h0m6-84h0m1-3h0m1 1h0m0 8h0m1-4h0m1 4h0m2 22h0m5 68h0m1-87h0m0 1h0m2 13h0m0 65h0m2-74h0m0 12h0m1 70h0m2-75h0m0 3h0m2-20h0m1 9h0m1 64h0m1-72h0m0 12h0m1 70h0m2-4h0m2 6h0m2 2h0m1-81h0m2 73h0m1-66h0m0 55h0m0 3h0m1-70h0m0 77h0m2-79h0m2 21h0m1-13h0m4 7h0m1 3h0m2-15h0m1 79h0m2-1h0m2-65h0m4 12h0m0 32h0m3-44h0m0 4h0m0 8h0m0 42h0m0 2h0m4 6h0m2-51h0m0 34h0m0 7h0m0 2h0m4-54h0m2 3h0m1 6h0m2 2h0m0 34h0m1 13h0m7-55h0m1 17h0m0 29h0m1-36h0m0 52h0m1-70h0m2 16h0m5 47h0m6-12h0m2-28h0m0 24h0m0 16h0m1-40h0m5 23h0m1-30h0m0 8h0m0 22h0m1-25h0m4-3h0m6 31h0m1-34h0m0 37h0m1-25h0m1 25h0m0 8h0m1-53h0m0 13h0m1-6h0m1 47h0m2-50h0m1 48h0m2-6h0m1 4h0m1-27h0m1-11h0m2 33h0m1 2h0m1-5h0m3-3h0m2-26h0m2 6h0m3 35h0m1-10h0m1-19h0m1-22h0m0 7h0m0 29h0m2-35h0m0 2h0m1 43h0m1-30h0m3 37h0m0 2h0m2-56h0m1 4h0m1 1h0m0 7h0m0 8h0m2-17h0m1 11h0m0 3h0m1 6h0m1-2h0m1-15h0m1 30h0m2 2h0m1-2h0m0 7h0m1 3h0m3-23h0m1 35h0m1-35h0m2-10h0m0 1h0m0 24h0m0 7h0m3-29h0m1 6h0m1-10h0m0 14h0m1-2h0m1 32h0m2-46h0m0 15h0m2-19h0m0 3h0m2 17h0m1 17h0m1-22h0m2-7h0m1 4h0m0 9h0m1 11h0m1-12h0m2 12h0m4-31h0m0 3h0m0 31h0m0 4h0m1 12h0m1-20h0m4-30h0m2 7h0m1 27h0m1-20h0m0 32h0m3-34h0m2 28h0m2-9h0m2-26h0m0 13h0m2 3h0m1-10h0m3 38h0m3-27h0m1-3h0m3 12h0m1 17h0m1-3h0m1-31h0m1-4h0m0 37h0m1-26h0m0 10h0m1-6h0m0 10h0m1-32h0m7 16h0m1-13h0m0 10h0m0 25h0m0 1h0m3-18h0m1 10h0m7-7h0m1 5h0m2 9h0m2-8h0m1 7h0m2-8h0m1-3h0m1-16h0m7-2h0m1 9h0m0 22h0m5-35h0m0 30h0m1-28h0m0 13h0m2-2h0m2 15h0m1-9h0m1 6h0m3-21h0m1 4h0m1 19h0m1-29h0m8 13h0m1-1h0m1-4h0m2-2h0m3 26h0m6-12h0m0 10h0m4-26h0m6 28h0m1-23h0m3 9h0m1 4h0m1-7h0m4 2h0m5 16h0m1-21h0m7-2h0m0 15h0m0 4h0m1-8h0m1 9h0m13-12h0m1-4h0m0 3h0m0 4h0m0 2h0m1 3h0m6-4h0m1 3h0m5-3h0m3-14h0m3 21h0m5-4h0m1-21h0m1 9h0m8-6h0m3 14h0m6-14h0m2 13h0m6 2h0m3-7h0m17-1h0m1 1h0m2 7h0m1 4h0m5-12h0m5 8h0m2-5h0m1-1h0m12 0h0m11 7h0m3-6h0m8 1h0m22-8h0" stroke="#D3D3D3" stroke-width="8.4" opacity="0.57"/>
<path stroke-linecap="round" d="M350 1828h0m1 265h0m9-346h0m3 307h0m5-230h0m1 21h0m1-68h0m3-25h0m0 57h0m0 211h0m0 43h0m1-306h0m0 295h0m0 40h0m1-333h0m0 249h0m1-287h0m0 182h0m0 114h0m1-105h0m0 124h0m0 4h0m1-264h0m0 28h0m0 150h0m0 130h0m1-332h0m0 261h0m1-163h0m0 108h0m1-25h0m1 29h0m0 19h0m1-213h0m0 70h0m0 18h0m1 89h0m0 52h0m0 2h0m1-22h0m1 42h0m1-222h0m0 10h0m0 13h0m0 62h0m0 3h0m0 78h0m1-123h0m0 20h0m0 1h0m0 48h0m0 9h0m0 30h0m0 9h0m1-175h0m0 97h0m0 3h0m1 24h0m0 80h0m0 6h0m0 7h0m1-206h0m0 37h0m0 18h0m0 146h0m1-183h0m0 47h0m0 42h0m0 128h0m1-61h0m0 17h0m0 78h0m1-240h0m0 38h0m0 48h0m0 90h0m0 11h0m1-237h0m0 92h0m1 18h0m0 21h0m0 28h0m1-116h0m0 20h0m0 62h0m0 30h0m0 54h0m1-169h0m0 25h0m0 80h0m0 66h0m0 87h0m1-183h0m1-162h0m0 166h0m0 96h0m1-180h0m0 79h0m0 7h0m0 64h0m0 73h0m1-255h0m0 71h0m0 9h0m0 3h0m0 40h0m0 97h0m2-127h0m0 1h0m0 15h0m0 18h0m0 70h0m1-59h0m1-70h0m1-6h0m0 19h0m0 170h0m3-193h0m0 147h0m0 47h0m1-21h0m2-33h0m0 36h0m1-187h0m0 38h0m0 109h0m0 51h0m1-190h0m0 179h0m1-146h0m4-59h0m0 9h0m0 26h0m0 154h0m0 18h0m1-205h0m0 6h0m1 35h0m0 7h0m2 147h0m0 29h0m1-169h0m0 118h0m0 21h0m1-170h0m0 9h0m0 140h0m0 17h0m1-155h0m0 13h0m0 3h0m0 143h0m2-152h0m0 159h0m0 19h0m1-181h0m0 130h0m1 41h0m3-17h0m0 13h0m1-161h0m0 169h0m1-173h0m0 11h0m1-43h0m0 18h0m1 1h0m1 141h0m1-154h0m0 4h0m0 13h0m0 8h0m0 150h0m0 20h0m1-162h0m0 142h0m1-197h0m0 201h0m1-14h0m2-3h0m0 6h0m0 18h0m1-158h0m0 163h0m1-28h0m0 61h0m1-188h0m1-57h0m1 197h0m0 20h0m2-19h0m0 9h0m0 2h0m1-177h0m0 2h0m1 170h0m1-6h0m1-189h0m0 29h0m0 21h0m1 118h0m3-139h0m0 145h0m0 22h0m1-144h0m0 119h0m0 4h0m1-162h0m0 2h0m0 155h0m0 9h0m0 34h0m1-182h0m0 130h0m0 40h0m1-156h0m0 127h0m1 47h0m1-165h0m1-42h0m0 7h0m0 27h0m1 8h0m2 126h0m1-10h0m0 16h0m0 3h0m2 5h0m5-24h0m0 14h0m1-158h0m1-12h0m2 159h0m1 16h0m1-176h0m1 141h0m1-120h0m0 13h0m1-36h0m1 20h0m1 26h0m0 121h0m1-154h0m1 32h0m0 134h0m1-35h0m0 39h0m1-28h0m0 7h0m4-15h0m2-130h0m0 17h0m0 109h0m1 25h0m1 0h0m1-167h0m0 14h0m1 28h0m1 115h0m1-136h0m0 15h0m0 115h0m1-110h0m1 113h0m1-135h0m0 143h0m1-139h0m0 24h0m1-18h0m2 128h0m2-150h0m0 174h0m1-35h0m1-133h0m1-5h0m1 129h0m0 26h0m2-121h0m1 114h0m0 11h0m1-133h0m1-16h0m1 6h0m1 143h0m2-142h0m0 124h0m2 26h0m1-143h0m1-17h0m0 27h0m2 94h0m1 9h0m0 17h0m2-150h0m0 32h0m3-37h0m1 14h0m2 124h0m3-108h0m1 16h0m2 101h0m1-124h0m2 103h0m2-118h0m0 139h0m2-28h0m3-107h0m0 22h0m1 10h0m1-15h0m0 18h0m1 82h0m1-12h0m2-77h0m1-9h0m0 12h0m0 86h0m2-101h0m2-2h0m1 16h0m1 3h0m1-20h0m0 11h0m1 78h0m3-100h0m0 132h0m1-122h0m3 91h0m1-65h0m0 73h0m1-93h0m0 81h0m1 0h0m2 10h0m0 6h0m1-80h0m2-20h0m2 107h0m1-2h0m3-104h0m1-5h0m0 1h0m0 8h0m4 89h0m1-13h0m1-86h0m2-1h0m1 25h0m1 84h0m3-84h0m3 89h0m1-111h0m0 88h0m1-68h0m1 75h0m1-76h0m3 89h0m4-82h0m1 71h0m1-78h0m2-10h0m1 17h0m0 67h0m2-81h0m2-8h0m0 9h0m1 9h0m1-2h0m2 70h0m1-73h0m0 16h0m1 56h0m2-83h0m0 19h0m0 6h0m1-20h0m0 21h0m0 70h0m2-94h0m0 9h0m0 60h0m3-61h0m1 69h0m1-4h0m0 2h0m3-69h0m1 18h0m0 59h0m1-66h0m3 11h0m1-30h0m2 88h0m1-13h0m1-74h0m0 2h0m0 1h0m0 82h0m3-62h0m0 6h0m1 51h0m1 10h0m1-79h0m1 11h0m1-18h0m3 14h0m1 4h0m2-14h0m1 15h0m1-9h0m1 54h0m1 16h0m1-53h0m0 35h0m1-60h0m0 10h0m2-9h0m0 10h0m1 11h0m0 57h0m1-19h0m0 7h0m1 6h0m1-73h0m0 68h0m1-55h0m0 12h0m1-24h0m3 5h0m3 17h0m1-8h0m0 12h0m2-9h0m0 51h0m0 14h0m2-79h0m2 77h0m4-67h0m2 45h0m3-44h0m1 64h0m2-59h0m7 3h0m0 37h0m0 2h0m1-58h0m1 52h0m0 6h0m1-42h0m3 2h0m0 9h0m3 24h0m1 8h0m2-38h0m0 44h0m3 6h0m2-18h0m1-24h0m0 22h0m1-34h0m2 54h0m2-9h0m2-39h0m5 50h0m2-54h0m0 11h0m3 41h0m1-42h0m1 20h0m4-1h0m1-41h0m0 6h0m1 19h0m7 28h0m1-49h0m1 6h0m1 11h0m2-5h0m0 8h0m4 33h0m1-38h0m1-3h0m0 10h0m2 0h0m3-4h0m2 39h0m1-2h0m4-45h0m2-4h0m2 38h0m0 14h0m8-53h0m0 3h0m0 36h0m1-17h0m4 23h0m2-24h0m0 11h0m0 9h0m2-9h0m2-31h0m1-2h0m0 9h0m1 25h0m1 11h0m0 4h0m2-4h0m0 1h0m3-23h0m1 17h0m0 13h0m1-42h0m2-4h0m1 32h0m1-2h0m2-16h0m0 16h0m1 12h0m2 4h0m4-22h0m0 23h0m4-21h0m6-30h0m0 34h0m0 2h0m1 2h0m1-4h0m2-15h0m1-19h0m0 10h0m0 5h0m0 11h0m1 6h0m1-29h0m0 27h0m1-21h0m2 1h0m0 2h0m1 31h0m5-38h0m2 41h0m3-32h0m2 8h0m1 19h0m1-11h0m1-1h0m0 16h0m5-17h0m3-25h0m1 7h0m4 12h0m0 17h0m1-5h0m3-12h0m2 15h0m3-12h0m2 20h0m1-21h0m2 20h0m3-32h0m0 28h0m4-36h0m2 20h0m1 19h0m1-12h0m0 5h0m1 2h0m3-28h0m2 32h0m1-31h0m0 20h0m2 12h0m10-18h0m1 8h0m2-23h0m1 32h0m1-5h0m1-2h0m3 5h0m4-11h0m2-9h0m4 4h0m3 5h0m6 1h0m1-19h0m0 7h0m3 12h0m3-18h0m0 15h0m12 5h0m3-10h0m1 0h0m0 1h0m1-3h0m1 2h0m5-9h0m4 17h0m2-6h0m3 0h0m4 8h0m2-19h0m0 10h0m2 1h0m2-10h0m6 5h0m1 17h0m3-8h0m10 0h0m1-4h0m5-13h0m2 9h0m19-3h0m2-1h0m5 15h0m2-13h0m4 18h0m18-7h0m11-2h0m23-13h0m0 9h0m22-9h0m31 3h0m63 6h0m87-12h0" stroke="#D3D3D3" stroke-width="8.4" opacity="0.57"/>
<path stroke-linecap="round" d="M348 2042h0m5-75h0m1-109h0m4-20h0m0 112h0m4-178h0m2 131h0m2 110h0m4 141h0m4-387h0m1 56h0m0 190h0m1 78h0m1-89h0m0 20h0m1 4h0m0 23h0m1-44h0m0 77h0m1-28h0m0 79h0m1-238h0m0 34h0m0 6h0m0 51h0m1-204h0m0 127h0m0 11h0m0 100h0m1-172h0m0 27h0m0 97h0m0 11h0m1 22h0m0 85h0m1-204h0m0 9h0m0 33h0m0 60h0m1-244h0m0 81h0m0 1h0m1 42h0m0 116h0m0 106h0m1-321h0m0 53h0m0 204h0m0 34h0m1-244h0m0 104h0m0 19h0m0 13h0m1-95h0m0 66h0m1-139h0m0 60h0m0 73h0m1-4h0m0 3h0m0 73h0m0 9h0m1-233h0m0 95h0m0 147h0m0 27h0m0 12h0m1 53h0m1-326h0m0 13h0m0 187h0m2-127h0m0 41h0m2-77h0m0 55h0m0 37h0m0 71h0m0 27h0m0 20h0m1-95h0m0 83h0m0 27h0m1-101h0m1-48h0m0 16h0m0 7h0m1 105h0m1-199h0m0 6h0m0 5h0m1 0h0m1-30h0m0 26h0m1-26h0m0 26h0m0 5h0m1-55h0m0 73h0m0 14h0m0 151h0m2-243h0m2 75h0m1 12h0m1-45h0m0 181h0m0 7h0m0 29h0m1-235h0m0 223h0m1-210h0m0 225h0m1-19h0m1-181h0m1-43h0m1 45h0m0 171h0m2-26h0m1 2h0m0 40h0m0 2h0m1-41h0m0 23h0m1-9h0m1-172h0m0 175h0m1-24h0m0 41h0m2-165h0m0 165h0m1-166h0m1-3h0m0 8h0m0 2h0m1-15h0m0 16h0m0 119h0m0 34h0m1-186h0m0 196h0m1-10h0m0 4h0m1-201h0m0 9h0m1 199h0m1-15h0m2-185h0m2 28h0m0 174h0m2-183h0m0 165h0m0 11h0m1-188h0m0 179h0m0 30h0m4-208h0m2 26h0m0 140h0m1-158h0m1 147h0m0 9h0m1-164h0m0 6h0m0 170h0m0 28h0m1-195h0m0 158h0m3-173h0m0 160h0m1 25h0m1-153h0m1-19h0m0 167h0m1-167h0m0 155h0m0 24h0m1-203h0m0 171h0m1-136h0m0 7h0m3-17h0m1-23h0m0 23h0m0 153h0m1-169h0m0 176h0m0 8h0m1-30h0m0 28h0m1-143h0m1 120h0m1-145h0m0 136h0m3-106h0m2 142h0m1-184h0m1 155h0m0 27h0m1 9h0m1-21h0m1-128h0m1-47h0m1 41h0m1 114h0m1-113h0m0 110h0m1 16h0m1-137h0m0 116h0m2-106h0m1-22h0m0 128h0m1-111h0m1 139h0m1-164h0m0 12h0m0 139h0m0 24h0m1-41h0m0 45h0m1-143h0m0 111h0m1-121h0m0 7h0m1 128h0m2-138h0m1-18h0m0 155h0m0 17h0m1-31h0m0 2h0m2-145h0m0 37h0m1-38h0m0 5h0m0 147h0m0 12h0m1-34h0m0 12h0m2-132h0m0 149h0m1-4h0m0 14h0m0 2h0m2-11h0m0 7h0m1-126h0m1-37h0m0 153h0m2-2h0m0 3h0m1-134h0m0 142h0m1-9h0m2-152h0m0 132h0m0 2h0m1 33h0m1-169h0m0 136h0m1-143h0m3 156h0m3-141h0m0 20h0m0 12h0m1 81h0m1-124h0m3 29h0m0 1h0m2 131h0m1-161h0m1 130h0m1-105h0m1 19h0m1-16h0m0 120h0m1-7h0m2-123h0m0 134h0m1-13h0m1-104h0m3-18h0m0 22h0m2 4h0m0 75h0m1 5h0m0 28h0m0 6h0m1-40h0m1-93h0m0 4h0m0 93h0m0 15h0m0 22h0m1-135h0m0 94h0m1-105h0m0 123h0m1-114h0m0 5h0m0 14h0m1 76h0m0 5h0m1 30h0m1-123h0m0 104h0m0 9h0m2-121h0m0 123h0m2-137h0m1 18h0m4 121h0m1-24h0m0 25h0m2-128h0m0 6h0m2 117h0m2-118h0m1 101h0m0 15h0m1-6h0m1-87h0m0 91h0m1-119h0m0 18h0m0 5h0m1-9h0m3 101h0m1-108h0m1-9h0m0 19h0m3 76h0m1-82h0m1-10h0m0 14h0m0 105h0m1-87h0m2-16h0m0 9h0m0 3h0m0 65h0m1-72h0m0 84h0m1-81h0m0 87h0m1-82h0m1-12h0m1 97h0m2-110h0m0 10h0m1 93h0m2-17h0m1-72h0m2 82h0m3-95h0m1 113h0m1-118h0m1 11h0m1-10h0m0 104h0m2-19h0m2 29h0m3 2h0m1-101h0m0 14h0m2-7h0m0 86h0m1-10h0m2-76h0m1 71h0m0 20h0m1-94h0m1 78h0m1-88h0m1 1h0m0 22h0m0 59h0m0 1h0m0 15h0m1-94h0m0 69h0m1 16h0m0 7h0m1-84h0m2 13h0m5 0h0m0 2h0m0 62h0m2-61h0m1-19h0m0 83h0m1-11h0m1-62h0m2-8h0m1 12h0m1 59h0m2 13h0m0 1h0m2-24h0m3-71h0m3 21h0m0 60h0m1-63h0m0 71h0m1 1h0m2-65h0m6 6h0m0 1h0m0 52h0m3-77h0m0 9h0m2 71h0m5-71h0m3 62h0m1-71h0m0 9h0m2 60h0m1-70h0m0 25h0m0 44h0m1-9h0m1-40h0m0 44h0m0 19h0m2-2h0m1-74h0m2 64h0m3 8h0m1 2h0m2-74h0m1 14h0m0 61h0m1-76h0m4 23h0m2-8h0m0 4h0m4-19h0m0 7h0m0 12h0m0 37h0m4 7h0m4-43h0m0 5h0m0 36h0m2-13h0m0 1h0m0 4h0m1 18h0m1-67h0m1-3h0m0 10h0m3 48h0m1 13h0m1-69h0m3 7h0m0 60h0m1-22h0m2 10h0m2-57h0m0 55h0m1-8h0m4-20h0m3 41h0m0 4h0m1-12h0m1-10h0m2-39h0m1 0h0m0 49h0m3-47h0m3 5h0m0 48h0m1-20h0m3 7h0m2-26h0m0 1h0m2-19h0m1-3h0m1 40h0m1 2h0m4 22h0m1-61h0m1 51h0m6-2h0m1-4h0m1-26h0m0 1h0m1 32h0m4-33h0m1 31h0m4-40h0m1 41h0m1-42h0m5 51h0m1-24h0m2-23h0m0 41h0m1-18h0m0 1h0m1-16h0m1-18h0m2 6h0m1 12h0m2 30h0m3-39h0m0 2h0m3 9h0m1-20h0m0 21h0m0 18h0m1-31h0m1 46h0m1-55h0m0 39h0m6-29h0m1 43h0m4-48h0m6 5h0m2 0h0m0 25h0m2-27h0m2 6h0m0 39h0m1-8h0m1-3h0m1-7h0m2-1h0m2-12h0m1 25h0m2 5h0m3-20h0m2 8h0m4-26h0m4-10h0m1 35h0m2-28h0m0 26h0m1-27h0m1-4h0m3 10h0m5 24h0m3-27h0m4 5h0m0 5h0m3 0h0m1 6h0m1-13h0m2 1h0m4 18h0m2-16h0m0 16h0m1 3h0m0 6h0m4-31h0m1 2h0m0 17h0m3-10h0m4 23h0m1 4h0m4-34h0m0 11h0m1 10h0m3 1h0m1-5h0m2 9h0m5-4h0m1-26h0m5 1h0m1 4h0m0 3h0m0 11h0m6 4h0m0 11h0m5-33h0m3 5h0m1 25h0m1-8h0m1 1h0m4-24h0m2 8h0m8 12h0m0 10h0m1 0h0m1-22h0m3 8h0m3 10h0m1-9h0m0 9h0m1 5h0m2-2h0m3-19h0m0 22h0m1-2h0m0 1h0m3-2h0m2-19h0m7-5h0m7 10h0m2 3h0m3-4h0m2-5h0m1 10h0m9 3h0m3-6h0m4-1h0m4 6h0m3 6h0m2 2h0m12-25h0m10 13h0m1 6h0m2-17h0m12 5h0m36 4h0m8 1h0m4 10h0m25-14h0m45 11h0m14-4h0m22 1h0m301 11h0" stroke="#D3D3D3" stroke-width="8.4" opacity="0.57"/>
<path stroke-linecap="round" d="M349 1988h0m1-10h0m3 51h0m1-100h0m2-71h0m3 135h0m3-97h0m9-13h0m1 75h0m1-238h0m0 299h0m0 36h0m1 86h0m1-392h0m0 23h0m2 24h0m1 228h0m1-216h0m0 4h0m0 106h0m0 73h0m1-145h0m0 44h0m0 69h0m0 49h0m0 13h0m0 26h0m1-144h0m0 15h0m0 91h0m1-225h0m0 54h0m0 114h0m0 9h0m0 33h0m0 151h0m1-312h0m0 4h0m0 28h0m0 75h0m0 110h0m1-285h0m0 116h0m1-115h0m1 171h0m0 66h0m1-94h0m0 59h0m1-243h0m0 133h0m0 38h0m0 126h0m1-182h0m0 6h0m0 41h0m0 32h0m0 81h0m0 26h0m1 2h0m1-146h0m0 172h0m1-221h0m0 9h0m1-34h0m0 80h0m0 4h0m0 111h0m0 27h0m1-139h0m0 34h0m0 23h0m0 41h0m0 28h0m1-135h0m0 35h0m0 132h0m1-195h0m0 20h0m1-56h0m0 49h0m0 9h0m0 82h0m1-59h0m0 127h0m0 20h0m1-271h0m0 123h0m0 4h0m0 26h0m1-132h0m0 4h0m0 8h0m0 55h0m0 139h0m1-246h0m0 85h0m0 180h0m1-183h0m0 64h0m0 41h0m1-137h0m0 44h0m0 5h0m0 37h0m1-69h0m0 34h0m0 156h0m1-167h0m0 44h0m0 23h0m0 1h0m0 51h0m0 2h0m1-146h0m0 11h0m0 27h0m1 131h0m0 2h0m0 12h0m1-193h0m1-49h0m1 249h0m1-200h0m0 292h0m1-289h0m0 39h0m0 127h0m0 32h0m1-30h0m1-159h0m1-16h0m0 25h0m0 23h0m0 140h0m0 7h0m1-186h0m0 165h0m1-162h0m0 199h0m2-209h0m0 1h0m0 183h0m1-207h0m0 71h0m0 178h0m2-12h0m1-198h0m0 6h0m0 156h0m2-190h0m0 174h0m1 5h0m0 52h0m1-203h0m0 9h0m1-50h0m0 61h0m1-17h0m0 173h0m0 6h0m1-169h0m1-20h0m0 29h0m0 146h0m1-172h0m1 34h0m1 132h0m1 37h0m2-209h0m0 15h0m1 158h0m1-150h0m1-10h0m0 171h0m1-4h0m2 11h0m1-198h0m0 31h0m0 169h0m1-197h0m0 41h0m1-7h0m0 142h0m0 17h0m0 7h0m2-158h0m0 160h0m1-1h0m1-187h0m0 168h0m1-155h0m0 142h0m1-9h0m0 9h0m1-168h0m1 21h0m0 169h0m0 5h0m1-165h0m0 191h0m1-182h0m0 1h0m0 142h0m2-175h0m0 14h0m0 173h0m0 12h0m1-2h0m1-182h0m0 11h0m0 7h0m1 4h0m1 132h0m0 27h0m1-13h0m1-189h0m0 4h0m0 184h0m2-176h0m0 30h0m0 159h0m1-18h0m2-153h0m0 143h0m1-6h0m0 20h0m0 11h0m3-41h0m0 9h0m1 22h0m1-145h0m2-14h0m2-28h0m0 189h0m2-179h0m0 174h0m1-177h0m1 38h0m0 144h0m1-156h0m1 8h0m1 11h0m0 108h0m2-133h0m0 138h0m2-138h0m2 170h0m1-160h0m2-12h0m1 3h0m0 13h0m2-3h0m0 125h0m3-2h0m0 10h0m2-9h0m2-140h0m0 25h0m0 109h0m1 17h0m1-7h0m1 15h0m1-31h0m0 21h0m3-150h0m0 163h0m1-22h0m1-2h0m1-14h0m0 20h0m0 7h0m3-128h0m1 98h0m1-101h0m2 8h0m0 104h0m0 7h0m0 21h0m1-148h0m1-14h0m0 36h0m0 84h0m0 19h0m0 6h0m1-147h0m0 3h0m0 155h0m1-143h0m0 135h0m1-125h0m0 103h0m2-6h0m1-129h0m0 142h0m2 23h0m1-124h0m0 88h0m0 19h0m2-7h0m1-112h0m0 1h0m1-26h0m0 31h0m0 11h0m1-9h0m5 9h0m2-7h0m1 93h0m0 5h0m1-126h0m0 13h0m1-10h0m0 26h0m1-10h0m1 94h0m0 5h0m3-97h0m0 18h0m0 105h0m3-113h0m1-11h0m0 98h0m1 24h0m1-144h0m0 127h0m1-95h0m0 88h0m0 11h0m4-89h0m5-15h0m0 15h0m1 82h0m0 1h0m1-104h0m1 18h0m0 85h0m1 2h0m1-13h0m1 19h0m0 7h0m1-33h0m0 25h0m1-116h0m0 14h0m3 78h0m0 31h0m1-116h0m1 6h0m0 3h0m4 3h0m3-18h0m0 8h0m1-9h0m0 100h0m1-2h0m2-72h0m0 3h0m1 87h0m4-111h0m0 5h0m0 9h0m1 1h0m3-23h0m3 15h0m2 91h0m1-89h0m0 14h0m0 85h0m2-92h0m3 75h0m0 19h0m1-28h0m0 17h0m1 10h0m3-112h0m2 84h0m1-2h0m0 8h0m1-5h0m1-81h0m1 11h0m3 66h0m4 28h0m2-81h0m0 4h0m0 2h0m0 74h0m1-24h0m0 24h0m2-100h0m3 3h0m0 8h0m1 77h0m1-7h0m1-3h0m2 4h0m2 0h0m4 7h0m2-72h0m1 1h0m2 5h0m1-9h0m1-13h0m1 23h0m1 4h0m0 55h0m1 8h0m4 4h0m3-64h0m0 36h0m1 5h0m2-63h0m0 84h0m1-65h0m2 47h0m0 4h0m5 13h0m5-66h0m3-5h0m0 2h0m2-8h0m0 3h0m0 73h0m3-63h0m1-11h0m0 2h0m2 49h0m3-50h0m1-5h0m0 56h0m1-63h0m6 12h0m0 70h0m4-55h0m3 34h0m0 11h0m3-64h0m1 19h0m2-10h0m2 48h0m3-40h0m4-7h0m0 45h0m2 3h0m1-54h0m0 61h0m1-59h0m0 18h0m6 27h0m0 18h0m1-62h0m0 43h0m3-39h0m0 51h0m1-62h0m0 63h0m1-54h0m1-9h0m0 63h0m2-36h0m2-25h0m0 43h0m0 12h0m2 11h0m1-9h0m1-55h0m2 17h0m0 35h0m1-47h0m0 43h0m1-48h0m0 56h0m0 6h0m2-19h0m1-24h0m0 41h0m5-37h0m5-11h0m0 38h0m3-30h0m1 39h0m1-12h0m1-32h0m1-12h0m1 20h0m0 39h0m4-52h0m2-6h0m0 41h0m3 3h0m1-30h0m1-14h0m1 5h0m1 15h0m2-15h0m0 53h0m1-7h0m0 3h0m3-43h0m0 37h0m1-13h0m2 2h0m1-27h0m0 34h0m2-33h0m1 41h0m1-39h0m0 21h0m1-30h0m1 3h0m0 4h0m4-5h0m5 4h0m0 25h0m1-36h0m2 10h0m1-5h0m0 19h0m5-17h0m3 45h0m2-6h0m5-27h0m2 36h0m1-27h0m6-15h0m2-3h0m1 9h0m3-6h0m0 42h0m1-20h0m1 0h0m3 12h0m4 3h0m6-31h0m1-2h0m0 13h0m1 3h0m0 18h0m7 2h0m1-19h0m1-6h0m4-5h0m0 20h0m5-2h0m2-5h0m1-9h0m1 7h0m1 8h0m3-27h0m4 2h0m2 27h0m2-32h0m1-1h0m1 19h0m3-4h0m2-16h0m0 27h0m2 7h0m1 3h0m1-25h0m0 2h0m1 3h0m2 17h0m1 5h0m1-10h0m1-5h0m5-4h0m4 12h0m2 3h0m2-19h0m0 2h0m1 0h0m7-2h0m2 24h0m5-27h0m1 24h0m3-1h0m4-15h0m1 2h0m2-3h0m4-11h0m6 23h0m1-22h0m1 2h0m2 0h0m1 9h0m1-8h0m1 16h0m7-11h0m6-4h0m1 9h0m3-5h0m2-9h0m3 2h0m5 6h0m2-8h0m0 14h0m8-3h0m8 4h0m1 7h0m2-15h0m6 14h0m6 4h0m2-11h0m3-14h0m3 15h0m6-3h0m4 9h0m3-17h0m2 6h0m7-3h0m7-6h0m2 6h0m0 5h0m4-4h0m15 6h0m16-4h0m47-3h0m21 11h0m173 2h0" stroke="#D3D3D3" stroke-width="8.4" opacity="0.57"/>
<path stroke-linecap="round" d="M353 1980h0m3-75h0m3 87h0m3-76h0m0 39h0m6-166h0m0 178h0m2 169h0m1-208h0m2-381h0m1 282h0m0 223h0m1-258h0m0 206h0m0 11h0m0 64h0m1-348h0m0 91h0m0 247h0m1-155h0m0 116h0m1-28h0m0 127h0m2-303h0m0 69h0m0 58h0m1-199h0m0 96h0m0 60h0m0 76h0m0 15h0m0 24h0m1 45h0m0 71h0m1-282h0m0 22h0m0 15h0m0 42h0m0 12h0m0 8h0m0 22h0m0 26h0m1-52h0m0 22h0m1 18h0m0 69h0m1-265h0m0 99h0m0 50h0m0 2h0m1-127h0m0 38h0m0 151h0m0 5h0m1-188h0m0 137h0m1-185h0m0 60h0m0 166h0m1-236h0m0 85h0m0 29h0m0 43h0m0 1h0m0 9h0m0 64h0m1-220h0m0 24h0m0 12h0m0 192h0m1-139h0m0 114h0m0 82h0m1-170h0m1-82h0m0 86h0m0 21h0m0 2h0m1-155h0m0 78h0m0 111h0m0 155h0m1-223h0m0 25h0m0 23h0m0 51h0m1-169h0m0 33h0m0 103h0m1-162h0m0 79h0m0 31h0m0 50h0m0 71h0m0 37h0m1-232h0m0 65h0m0 140h0m1-106h0m0 62h0m1-178h0m0 17h0m0 75h0m0 80h0m0 23h0m1-195h0m0 59h0m0 19h0m0 49h0m0 44h0m1-97h0m0 52h0m1-118h0m0 47h0m0 127h0m0 122h0m1-70h0m1-241h0m0 224h0m3-185h0m0 20h0m1 108h0m0 32h0m0 65h0m0 3h0m1-88h0m0 45h0m1-47h0m0 45h0m1-169h0m0 119h0m1-139h0m1 156h0m1 30h0m3-207h0m0 166h0m1-194h0m0 213h0m1-153h0m1 140h0m0 17h0m0 24h0m0 1h0m1-190h0m2 176h0m1-31h0m1-139h0m1-32h0m0 36h0m0 3h0m1 141h0m1-155h0m0 164h0m0 11h0m1-175h0m0 16h0m0 1h0m1-39h0m0 1h0m0 39h0m0 163h0m1-195h0m0 5h0m0 150h0m1-124h0m1 132h0m1-153h0m1 149h0m0 32h0m3-189h0m1 22h0m1-28h0m0 33h0m1-4h0m0 6h0m1 132h0m1-168h0m0 21h0m0 165h0m1-162h0m0 3h0m2 155h0m1-148h0m0 133h0m1-159h0m0 5h0m1-12h0m1 158h0m1 11h0m1 22h0m2-25h0m1-5h0m1 27h0m3-27h0m1-139h0m3 3h0m0 135h0m1-134h0m0 1h0m0 165h0m2-186h0m0 6h0m0 139h0m0 34h0m1-172h0m1 22h0m1 6h0m0 143h0m2-171h0m1 3h0m0 10h0m0 134h0m0 19h0m1-23h0m0 38h0m2-174h0m0 145h0m0 4h0m0 2h0m1 4h0m0 9h0m2-164h0m1 166h0m1-149h0m1-36h0m1 36h0m1-27h0m3 176h0m1-154h0m1 12h0m0 113h0m0 5h0m2-7h0m1-137h0m0 22h0m1-28h0m0 31h0m0 122h0m1-118h0m1 115h0m0 14h0m2-31h0m1-117h0m0 14h0m0 122h0m1-135h0m1 0h0m1-3h0m1 118h0m1-96h0m3-19h0m1 119h0m0 24h0m1 1h0m4-160h0m1 133h0m1 25h0m2-120h0m1-8h0m0 106h0m1-119h0m3 2h0m0 11h0m0 103h0m1-130h0m0 137h0m1-124h0m1 8h0m1 109h0m1-116h0m0 129h0m0 1h0m1-16h0m1-124h0m0 125h0m0 26h0m2-133h0m0 104h0m2-120h0m1 129h0m1-104h0m1-21h0m0 12h0m1 108h0m0 2h0m4-124h0m0 123h0m1-92h0m1-19h0m0 130h0m2-8h0m1-129h0m0 24h0m2-35h0m3 138h0m1-139h0m0 134h0m1-5h0m1 21h0m2-139h0m0 13h0m1 16h0m2-24h0m1-5h0m0 129h0m0 7h0m1-144h0m0 27h0m1 4h0m4-26h0m1 130h0m1-29h0m0 1h0m3 16h0m2 5h0m4-96h0m0 3h0m1-26h0m6 0h0m3 16h0m0 78h0m3-2h0m0 28h0m2-118h0m0 26h0m0 77h0m1-2h0m0 20h0m1-24h0m0 20h0m1-106h0m0 90h0m0 20h0m1-122h0m2 2h0m2 113h0m9-3h0m4-22h0m1-66h0m2 91h0m6-110h0m2 31h0m3-29h0m0 102h0m2-14h0m0 16h0m3-74h0m1-32h0m0 84h0m1-69h0m1 61h0m2-57h0m0 64h0m2 15h0m3-90h0m0 9h0m10 71h0m1-74h0m1 17h0m5-12h0m3 54h0m0 24h0m0 5h0m2-90h0m3 73h0m1-70h0m4 75h0m3-4h0m1-14h0m0 3h0m2-69h0m0 7h0m0 66h0m1 16h0m1-84h0m0 63h0m3-50h0m2 49h0m0 24h0m1-5h0m1 2h0m1-1h0m1-67h0m0 7h0m2-20h0m1 58h0m1-43h0m1-7h0m0 48h0m4-42h0m1 2h0m0 39h0m3 1h0m0 7h0m1-58h0m1 15h0m1-3h0m3 0h0m0 39h0m1 13h0m1-52h0m0 11h0m0 37h0m2-7h0m1-51h0m4 3h0m0 55h0m1-64h0m1 10h0m1 68h0m1-13h0m0 12h0m1-25h0m1 11h0m1-35h0m2 29h0m1-33h0m1 30h0m0 2h0m1-29h0m0 36h0m0 3h0m1-55h0m0 44h0m2 9h0m1-35h0m1 30h0m3-8h0m1-45h0m0 11h0m1 39h0m2 8h0m1-38h0m1-5h0m0 8h0m1 26h0m0 10h0m1-55h0m0 73h0m1-64h0m3-1h0m0 44h0m0 4h0m0 1h0m1-58h0m3 4h0m3 0h0m5 38h0m0 16h0m2-54h0m0 15h0m3-10h0m0 32h0m1-21h0m2-6h0m1 4h0m0 3h0m0 44h0m9-18h0m2-34h0m0 45h0m1-50h0m1-6h0m0 2h0m0 11h0m1-10h0m0 2h0m0 2h0m1 34h0m1-37h0m0 37h0m3 19h0m6-47h0m0 11h0m0 14h0m2-16h0m2 21h0m0 14h0m3-9h0m5-42h0m2-1h0m1 47h0m3-26h0m1 2h0m1 30h0m2-17h0m0 12h0m1-24h0m0 32h0m2-48h0m0 9h0m1 33h0m3-29h0m0 19h0m0 1h0m2 2h0m2-23h0m3-14h0m2 19h0m1-6h0m1-9h0m0 29h0m1-35h0m0 40h0m1-18h0m1-4h0m1-16h0m2 44h0m2-44h0m2 37h0m1-36h0m1 29h0m2-23h0m1-8h0m0 14h0m3-8h0m1 21h0m1-6h0m0 24h0m3-41h0m7 5h0m1-7h0m6 8h0m0 33h0m4-31h0m5 16h0m3-3h0m2-21h0m2 4h0m1 23h0m2-15h0m0 13h0m1 4h0m3 1h0m1 10h0m1-30h0m0 3h0m1 9h0m0 17h0m2 3h0m4-16h0m9 3h0m2-12h0m6-3h0m0 24h0m5-24h0m0 16h0m0 5h0m1-9h0m1-4h0m2-5h0m3 0h0m1-11h0m7 19h0m2-10h0m3 9h0m1 13h0m2-25h0m0 2h0m3-1h0m2-9h0m1 17h0m0 1h0m3-17h0m0 2h0m2 22h0m6-26h0m0 32h0m6-28h0m0 10h0m0 2h0m1 2h0m1-14h0m1-1h0m3-2h0m1 19h0m1-8h0m1-11h0m0 2h0m0 4h0m0 18h0m4-20h0m1 1h0m3 18h0m11-6h0m0 3h0m2-14h0m0 19h0m1-23h0m2 22h0m0 3h0m1-9h0m1-16h0m0 19h0m1-11h0m3 8h0m2-1h0m4 2h0m1-1h0m3-6h0m4-8h0m5 17h0m5-11h0m1-5h0m3 21h0m4-19h0m4 11h0m4-4h0m1-4h0m4 8h0m1-11h0m3 7h0m2 10h0m17-3h0m9-10h0m6-2h0m11 5h0m11-9h0m87 4h0m87 16h0" stroke="#D3D3D3" stroke-width="8.4" opacity="0.57"/>
<path stroke-linecap="round" d="M969.6 1890.8h0M888.6 1880.3h0M869.4 1869.8h0M619.7 1841.9h0M550.7 1815.9h0M860.7 1883.3h0M672 1837.4h0M919.8 1872.3h0M605.3 1829.9h0M767.6 1850.3h0M1071.8 1897.2h0M983.6 1887h0M759.8 1861.8h0M870.6 1884.7h0M876.4 1884.5h0M472.8 1763.7h0M735.6 1867.3h0M600 1763.7h0M591.7 1825.1h0M576.2 1659.6h0M832.7 1881.5h0M435.1 1673.3h0M944.5 1890.9h0M879.1 1885.6h0M855.6 1856.6h0M931.5 1857.2h0M801.7 1877.1h0M538.4 1825.7h0M859.3 1865.1h0M487.2 1666.3h0M913.8 1881.5h0M501.2 1593.4h0M746.2 1861.4h0M784.2 1844.6h0M916.2 1882.6h0M464.6 1640.5h0M1016.6 1891.1h0M964.3 1889.8h0M523.4 1796.6h0M477.4 1800.2h0M683.2 1846.4h0M640.6 1786.7h0M802.2 1874.5h0M772.8 1847.8h0M831.7 1874.3h0M807.1 1874.7h0M983.2 1891.3h0M616.4 1842.6h0M911.2 1887.1h0M873.5 1875h0M556.2 1828.5h0M905.1 1888h0M781.9 1876h0M480 1803.1h0M535.5 1778.7h0M676.3 1840.9h0M643.2 1826.1h0M1035.9 1889.9h0M967.6 1890.7h0M563 1778.3h0M795.5 1876.6h0M389.8 1632.2h0M1016.7 1883h0M791.1 1872h0M743.7 1864.2h0M826.1 1882.1h0M785.5 1792h0M1079.2 1898.8h0M593.3 1842.7h0M495.2 1774.1h0M824.1 1877.7h0M783.8 1878.1h0M640.7 1847.6h0M817.8 1662.2h0M778.5 1857.2h0M670.5 1857.3h0M834.8 1878.6h0M586.9 1810.9h0M863.7 1877.4h0M973.1 1891.1h0M609.5 1808.2h0M840.6 1873.2h0M956.8 1869.5h0M593.4 1826.9h0M708.5 1862.6h0M619.7 1810.1h0M581.8 1823.7h0M784.3 1846.8h0M552.6 1820.3h0M544.3 1800.2h0M906.5 1826.3h0M709.1 1809.6h0M615.4 1845.2h0M744.8 1857h0M796.3 1876.6h0M679.2 1838.6h0M499.7 1700.8h0M921.2 1873.9h0M829.5 1881.3h0M552.1 1798.6h0M747.9 1871.3h0M560.4 1813h0M779.8 1866.3h0M998.8 1894.9h0M983.4 1860.1h0M1003.1 1895.7h0M721.8 1853.3h0M546.7 1807.5h0M758.4 1858.6h0M611.2 1704.8h0M741.9 1853h0M580.8 1835.5h0M776.5 1869.4h0M951.7 1892.4h0M872 1883.7h0M900.1 1888.3h0M586.1 1817h0M531.7 1793.3h0M735.1 1867.4h0M582.5 1836.8h0M791.3 1840.5h0M937.2 1842.3h0M979.6 1890.9h0M869.9 1876.5h0M458.7 1784h0M819.3 1837.3h0M844.2 1879.5h0M660.2 1852.1h0M641.7 1827.5h0M936.7 1889.7h0M1066.7 1809h0M637.6 1705.7h0M916.1 1875.2h0M968 1852.6h0M775.9 1866.7h0M1030 1857.7h0M884.2 1881.6h0M452.6 1667.2h0M897.7 1724.5h0M961.2 1889.3h0M662.2 1840.2h0M1033.3 1888.1h0M730.7 1869.7h0M607.7 1844.5h0M568.3 1833.6h0M959.4 1892h0M1059.7 1889.6h0M522.6 1812.4h0M539.1 1800.9h0M443 1692.9h0M953 1887.9h0M1076.8 1897h0M486.7 1672.8h0M1029.6 1859.1h0M801.7 1878.2h0M532.8 1821.8h0M442.8 1767.8h0M667.2 1853.3h0M587.2 1688.7h0M506.3 1752.7h0M991.1 1890.6h0M598.1 1840.2h0M926 1880.2h0M609.9 1768h0M711.6 1866.4h0M811 1809.7h0M379.9 1713.5h0M845.2 1881.9h0M806 1873h0M464.4 1777.9h0M441.1 1753h0M983.9 1888.7h0M1025.2 1894.2h0M808.8 1870.3h0M881.4 1880.3h0M869.2 1881h0M580.5 1836.4h0M676.1 1851.7h0M785.1 1870.4h0M790.2 1861.1h0M892.4 1883.4h0M713.7 1745.4h0M947 1888h0M429.4 1693.3h0M823.2 1876.1h0M681.1 1836.6h0M784.3 1871.7h0M834.1 1879.6h0M714.9 1692.9h0M711 1866.1h0M815.2 1863.8h0M581.9 1783.9h0M488.7 1536.5h0M707.9 1846.8h0" stroke="#FF0000" stroke-width="8.4" opacity="0.5"/>
<path stroke-linecap="round" d="M560.3 1718.5h0M595 1776.7h0M552.9 1764.4h0M834.2 1879.1h0M841.3 1877h0M836.2 1866.8h0M828.7 1882.5h0M623.4 1806.6h0M702.6 1861.1h0M534 1814.8h0M586.2 1803.7h0M730.5 1845.5h0M795.7 1869.1h0M841.5 1882.4h0M566.6 1761.5h0M481.4 1688.7h0M854.5 1866.7h0M578.2 1802.9h0M939.3 1886h0M729.3 1862.3h0M703.4 1852.7h0M678.2 1788.4h0M560.3 1789.1h0M838.2 1881.6h0M476.3 1580.3h0M890.9 1870.8h0M850.8 1870.6h0M966.5 1893.7h0M805.1 1877.7h0M719.6 1844.7h0M596.3 1740.6h0M608 1743.9h0M607.2 1842.1h0M479.7 1788.1h0M522.5 1813.3h0M779.4 1877.5h0M573.5 1596.7h0M723.1 1868.1h0M484.4 1806.3h0M899 1879.5h0M891.9 1876.5h0M883.1 1825.3h0M734.7 1869.4h0M824.1 1872.6h0M660.2 1841.2h0M1172 1880h0M922.8 1872.4h0M785.1 1876.2h0M885.8 1883.2h0M887.5 1878h0M437.8 1722.2h0M503.3 1810.5h0M797.6 1859.9h0M766.1 1872.2h0M602.4 1839.6h0M803.6 1879.7h0M1017.2 1890.8h0M360.9 1644h0M714.1 1859.3h0M945.6 1874.4h0M863.5 1885.3h0M746.5 1861.4h0M723.5 1867h0M750 1867h0M783.3 1867.9h0M534.4 1788.4h0M695.7 1858.7h0M791 1859.8h0M820.5 1740h0M372.2 1765.9h0M841.4 1882.5h0M1060 1888.8h0M924.5 1841.7h0M515.5 1814.3h0M1001.1 1877.9h0M437.9 1568h0M719.7 1866.6h0M471.3 1801.3h0M818 1882.2h0M527.1 1812.1h0M481.1 1770.3h0M993.6 1891.8h0M780.9 1857.4h0M751.6 1869.7h0M576.6 1824.4h0M1041.5 1871.6h0M969.3 1882.1h0M717.9 1852.2h0M743.4 1847.4h0M727.1 1840.8h0M675.9 1738.8h0M422 1638.3h0M501 1690.8h0M677.4 1856.8h0M729.3 1828.9h0M475.9 1649h0M782.8 1877.9h0M768.6 1845.4h0M840.4 1882.2h0M699.5 1730.2h0M412.1 1645.5h0M866.4 1866.2h0M783.6 1851.4h0M874.8 1885.1h0M681.1 1836.7h0M743.3 1869.7h0M375.5 1757.4h0M1012.6 1895.6h0M892.7 1887.9h0M638.8 1812.3h0M904.4 1874.5h0M715.9 1863.8h0M528.3 1682.6h0M959.1 1893.3h0M865.7 1881.5h0M616.5 1847.2h0M471.1 1675.4h0M580.1 1801.8h0M835.6 1880.8h0M635.3 1842h0M892.3 1867.1h0M680.7 1843.4h0M535.6 1794.2h0M732.9 1869h0M516.5 1795.9h0M967 1883.9h0M417.8 1756.9h0M862.3 1872.4h0M493.4 1808.3h0M874.6 1884.8h0M526.9 1817.5h0M773.5 1865.4h0M739.7 1868.5h0M717.8 1772.7h0M735.2 1865.5h0M552.7 1809.4h0M697.7 1690.7h0M850.3 1878.8h0M915 1888.1h0M914.4 1826h0M776.7 1860h0M497.9 1802.9h0M694.8 1832.2h0M844.5 1875.8h0M566.7 1718.7h0M539 1819.2h0M962 1880.9h0M806.7 1862.4h0M1023.7 1883.8h0M993.7 1839h0M577.3 1651.3h0M1074 1894.3h0M655.9 1577.4h0M728.8 1843.3h0M838.3 1883.3h0M383.9 1662.9h0M575 1811h0M880.5 1874.2h0M735.8 1845.9h0M836.6 1872.3h0M917.3 1877.6h0M584.7 1792.9h0M808.4 1856.5h0M610.9 1837.7h0M894.6 1874.8h0M916.7 1886.4h0M497.9 1782.8h0M843.6 1851.8h0M921.7 1886.2h0M793 1865.6h0M626.3 1805.8h0M757.8 1731.1h0M739.6 1845h0M570.7 1793.6h0M449.5 1719.1h0M473.3 1690.2h0M537.2 1804.3h0M517.5 1819.9h0M477.7 1723.8h0M1075.6 1893.3h0M874.9 1824.3h0M938 1886h0M779.2 1875h0M780.2 1872.1h0M732.4 1753h0M550.2 1823.8h0M761.8 1849.3h0M770.6 1854.8h0M555.6 1763.3h0M675 1698h0M904.5 1870.7h0M952.9 1892.1h0M522.3 1819.1h0" stroke="#FF0000" stroke-width="8.4" opacity="0.5"/>
<path stroke-linecap="round" d="M610.4 1836.5h0M991 1876.9h0M684.2 1648.6h0M556.9 1813.6h0M824.2 1859.7h0M824 1853.7h0M448.4 1776h0M572 1801.4h0M537.5 1797.6h0M712.1 1840.7h0M857.8 1867.3h0M922.5 1884.9h0M763.2 1851.3h0M508.6 1804.6h0M795.4 1877.8h0M575.9 1762.1h0M650 1855.2h0M683 1855.4h0M726.6 1836.3h0M538.7 1820.7h0M809 1880.2h0M734.5 1867.4h0M809 1878.2h0M459.6 1732.1h0M739.4 1675.1h0M938.4 1820.9h0M954 1892.1h0M442.1 1713.7h0M570.9 1821h0M499.8 1776.4h0M857.8 1885.6h0M807.9 1876.1h0M576.5 1825h0M397 1736.1h0M778.3 1877.1h0M557.5 1828.1h0M646.7 1687.8h0M992.4 1890.9h0M746.1 1790.6h0M696.2 1861.2h0M583.2 1813.7h0M816.7 1838.8h0M638.1 1809.7h0M662.8 1851.4h0M731.4 1829h0M737.7 1857h0M980.9 1871.6h0M902.4 1888.8h0M443.6 1683.6h0M808.6 1862.2h0M397 1640.7h0M463.8 1798.7h0M953.8 1893.5h0M760.8 1871.9h0M867.7 1878.5h0M933.3 1880.7h0M904.7 1818.5h0M784.9 1875.1h0M532.9 1813.5h0M409.6 1745h0M555.9 1821.1h0M603.1 1827.4h0M808.4 1879.2h0M722.4 1761.8h0M639.5 1761.8h0M900.6 1882.2h0M958.5 1892h0M1019.8 1878h0M783.6 1834.3h0M932 1889.4h0M613.9 1835.6h0M969.4 1890.9h0M813.4 1868.8h0M579.3 1735.7h0M723.5 1794.5h0M387.1 1683.2h0M649.5 1600.5h0M730.9 1855.3h0M817.3 1848.5h0M652.4 1848.9h0M874.2 1867.2h0M645.5 1848.2h0M711.6 1861.4h0M811.8 1866.7h0M517.2 1769h0M877.6 1884.3h0M760.3 1860.7h0M590.8 1803.1h0M597.2 1812.1h0M827.3 1877.3h0M493.9 1779.2h0M789.5 1869.8h0M832.4 1881.8h0M820.6 1873.8h0M1108 1894h0M530.5 1721.6h0M797.5 1877.9h0M611.1 1814.2h0M646.7 1754.7h0M663.8 1841h0M877.4 1869.9h0M536.2 1790.3h0M960.3 1889.1h0M414.4 1742.4h0M1030.8 1882.6h0M924.1 1889h0M588.7 1831.6h0M557.2 1797.2h0M838.3 1872.8h0M851.1 1883.1h0M690.8 1835.8h0M578.3 1829.7h0M996.9 1895.1h0M713.7 1863.7h0M422.7 1623.7h0M444.6 1749.6h0M872.7 1883.6h0M446.4 1678.6h0M999.6 1881.9h0M553.1 1798.9h0M840.1 1881.2h0M877.2 1883.6h0M688.3 1857.5h0M812.2 1772.9h0M754.4 1856.6h0M592.7 1836h0M853.5 1876.6h0M948.5 1872.8h0M881.2 1879.9h0M604.5 1839.5h0M672.9 1792h0M464.3 1791.2h0M892.1 1879.1h0M813 1871.5h0M541.5 1819.6h0M532.1 1800.9h0M889.8 1857.3h0M549.5 1800.5h0M417.8 1734.9h0M758.2 1872.6h0M668.2 1834.8h0M941.8 1892h0M798 1871.3h0M754.5 1871.5h0M815.8 1834.8h0M802.3 1874h0M758.9 1867.4h0M914.8 1882.2h0M760.2 1856.9h0M593.2 1841h0M771.5 1875.4h0M615.5 1766h0M828.7 1882.3h0M763.8 1873.9h0M508.7 1809.5h0M899.8 1882.6h0M720.2 1859.6h0M740.3 1852.5h0M802.7 1871.1h0M943.3 1891.2h0M719.9 1852h0M802.8 1872.7h0M892.3 1887.7h0M766.6 1867h0M914.6 1876.6h0M805.4 1877.7h0M692.3 1821h0M763.7 1817.6h0M537.1 1763.1h0M848.2 1879.1h0M919.1 1883.5h0M728.7 1838.7h0M963.1 1882.9h0M842.1 1879.7h0M1060.3 1896.2h0M569.7 1827.3h0M708.5 1837.1h0M881.6 1886.4h0M556.6 1827.7h0M795.4 1830.5h0M1057.4 1895.2h0M769.4 1873.9h0M755.1 1789.7h0M897 1885h0M814.4 1863.5h0M438 1745.5h0M599.2 1830.3h0M409.6 1569.2h0M671 1775.4h0M916.2 1888.2h0M1032 1875.6h0M852.7 1880h0M858.4 1860.1h0" stroke="#FF0000" stroke-width="8.4" opacity="0.5"/>
<path stroke-linecap="round" d="M479.3 2068.4h0M799.7 1942.8h0M935.7 1931.6h0M839.4 1945.2h0M480.9 2023.6h0M979 1948.4h0M934.2 1986h0M898 1940.3h0M455 2043.4h0M582.3 1982.2h0M452.6 2043.1h0M900 1934.8h0M1136 1951.3h0M944.9 2015h0M593.9 2000.7h0M849.8 1943.4h0M596.4 1984.1h0M972.3 1931.1h0M876.3 1949.4h0M942.4 1935h0M1051.7 1955h0M566.8 1989.6h0M753.5 1970.9h0M716 1998.1h0M712.9 1964.2h0M781.9 1950.8h0M888 1939.4h0M899.3 1937.3h0M606.3 1975.2h0M957.3 1937.8h0M916 1960.3h0M529.6 2173.1h0M573.8 2130.9h0M599 2003.4h0M671.6 1981h0M761.3 2061.3h0M389.3 2232h0M953.7 1942h0M564.1 2011.3h0M886.8 1935.5h0M545.1 2012.8h0M790 1946.4h0M453.9 2296h0M453 2084.3h0M871.3 1936.1h0M688.6 1951.4h0M927.6 1934.9h0M675.9 2041.8h0M1039.5 1940.3h0M385 2218.6h0M898.9 1954.3h0M970.3 1928.4h0M520.7 2036.9h0M848.7 1944.6h0M500.6 2089.2h0M921.7 1935.6h0M745.3 1947.2h0M1106 1923.6h0M753.6 1964.1h0M555.4 2012.4h0M439.9 2052.1h0M1109.5 1937.5h0M952.5 1932.8h0M558.9 2171h0M532.4 2003.6h0M893.5 1953.8h0M919.8 1932.9h0M611.5 2010.4h0M753 1954.1h0M523.3 2009.5h0M791.5 1944.7h0M639.7 1964.3h0M958.3 1999.4h0M933 1940.2h0M716.2 2076.3h0M660.9 1978.2h0M1011.7 1928h0M481.4 2053.5h0M714.3 1952.2h0M545.9 2085.9h0M983.6 1932.1h0M477.5 2115.4h0M775 1959.2h0M838.4 1945.2h0M1049.8 1933.6h0M1129.1 1955.2h0M512.5 2029h0M923 1979.7h0M946.1 1933.3h0M1134.9 1949.2h0M800.2 1960.7h0M834.1 1943.8h0M791.1 1963.4h0M674.4 1979.6h0M1085 1923h0M1105.3 1941.4h0M736.8 1950.4h0M512.6 2041h0M1017.3 1947.7h0M669.4 2105.3h0M491.7 2066.2h0M738.6 1946.6h0M757.2 1945.2h0M805.6 1944.9h0M997.3 1939.1h0M884.4 1939.4h0M385.3 2162.6h0M563.2 2006.6h0M815.1 1947.9h0M524.4 2055.2h0M954.3 1931.8h0M540.1 2014.8h0M521.5 2151.3h0M802.8 1942h0M890 1961.3h0M844.6 1941.1h0M406.4 2070.4h0M1019.9 1924.6h0M962.2 1956.1h0M539.1 2033.7h0M741 1963.6h0M393.7 2054.2h0M833.1 1941.5h0M948 1943.9h0M909.5 1941.5h0M466.6 2170.1h0M943.6 1935.8h0M664.2 1956h0M719.4 1960.2h0M1181.3 1939h0M423.2 2169.8h0M545.3 1993.8h0M964.8 1960.3h0M754 1977.7h0M615.1 1976.3h0M877.5 1943.7h0M576.4 1993.7h0M550.3 2129h0M610.4 2038h0M725.8 1955.9h0M803.9 1977.3h0M388.1 2155.4h0M811.6 1948.5h0M782.9 1964.6h0M952 1935.4h0M1025.8 1927h0M1080.6 1925.1h0M879.4 1938.2h0M799 2002.7h0M933.3 1935.3h0M546 2045.3h0M892.8 1937.2h0M519.7 2041.7h0M897.1 1940h0M536.7 2010.1h0M879.8 1950.6h0M1182.5 1929.6h0M645.5 2057.8h0M1149.9 1949h0M963.8 1930h0M831 1941.9h0M1078.8 1928.6h0M1054.4 1926.6h0M858.7 1939.9h0M1275.5 2020.5h0M967.6 2002h0M630.4 1976.9h0M1003.6 1926h0M726.8 1957.1h0M571.5 2030.1h0M641.1 2061.7h0M579.3 1988.5h0M614.8 1967.8h0M780.4 1979.3h0M618.5 2192h0M1055.6 1949.3h0M484 2085.8h0M996.5 1932.8h0M708 1948.4h0M902.8 1938.4h0M1252.8 1947h0M1209.4 1943.8h0M892.7 1943.5h0M1088.1 1971.2h0M751.5 1945.3h0M877.7 1944.5h0M1046.3 1969.8h0M827.7 1940.3h0M667.6 2091.3h0M576.5 1986.9h0M1110.5 1948.3h0M905 1934.3h0M905.5 1949.7h0M931.7 1932.5h0M812.7 1940.3h0M709.4 1954.3h0M436.6 2073.7h0M737.7 1960h0M1088.7 2021h0M832.5 1940.5h0M784.8 1943.1h0M712.4 2009.6h0M907.8 1935.3h0M482 2043h0M572.9 2103.4h0M668.4 1959h0M877.5 1936.5h0M974.9 1982.1h0M593 1987.4h0M814.6 1950.1h0M744.9 1947.3h0M761.2 1955.6h0M732 1949.3h0M448.4 2056.6h0M772.8 1946.1h0M568.5 1979.1h0M719.8 1946.6h0M910.8 1942.1h0M851 1943.5h0M633.4 2086.2h0M587 2008.4h0M436 2087h0M969.4 1934.5h0M691.7 1955.3h0M1233.1 1958.4h0M590.6 1992.7h0M797.1 1942.9h0M757.5 1958.7h0M1131.5 1949.2h0M767.2 1961.4h0M869.5 1946.2h0M989.1 1931.5h0M885.2 1945.8h0M928.9 1932.3h0M864 1961.1h0M611.9 2009.6h0M768.8 1947.9h0M784.2 1946.6h0M834.2 1942.1h0M542.3 2076.3h0M1048.8 1932.7h0M862.8 1937.2h0M394.7 2078.1h0M515.3 2219.8h0M1062.7 1923.1h0M599.2 1978.9h0M731.1 1946.1h0M925.6 1937.8h0M667.7 1965h0M1087.6 1948.4h0M640.4 1983.7h0M564.8 2080.4h0M671.4 1958.8h0M538.4 2039.2h0M690.8 1954.1h0M996.5 1926.5h0M708.6 1956.5h0M408.2 2165.7h0M605.7 2004.4h0M693 1956.8h0" stroke="#0000FF" stroke-width="8.4" opacity="0.5"/>
<path stroke-linecap="round" d="M1065.8 1940h0M926.4 2022.7h0M564 1987.1h0M874.8 1935.7h0M644.9 1974.7h0M874.5 1938.9h0M818.4 1945.7h0M664.1 1967.3h0M757.5 2001.8h0M1071.4 1933.8h0M560.9 2090h0M986.4 1931.4h0M532.4 2008.1h0M732.3 1949.9h0M1274.2 1942.1h0M932.7 1979.9h0M678.8 1973.1h0M801.7 1941.3h0M702.7 1955.8h0M553.3 2023.6h0M776.5 1947.7h0M522.1 2049.5h0M944.4 1932.2h0M1088.9 1929.2h0M854.4 1940.6h0M613.3 1993.5h0M715.7 1962.7h0M724.9 1995.6h0M953.2 1944.3h0M461.8 2223.2h0M867.7 1940.1h0M992.7 1929.5h0M734.3 1992.9h0M831.3 1939.8h0M453.6 2202.5h0M1011.9 1945.9h0M450.8 2062.1h0M723.4 1948.6h0M725.4 1947.8h0M983.6 1953.1h0M843.4 1949.2h0M672.2 1968.6h0M502.5 2012.7h0M933.2 1933.5h0M563.3 2063.6h0M1041.4 1924.4h0M516.2 2029.4h0M806 1946.8h0M587.8 1974.4h0M767.9 1956h0M696.8 1951.9h0M1046.5 2026.6h0M704.8 1951.3h0M747.6 1996h0M632.3 1986.8h0M784.4 1942.6h0M744.7 1949.2h0M546.1 2000.5h0M845.1 1986.4h0M893.5 1955.2h0M719.5 1964.8h0M879.5 1956.5h0M690.4 2139.7h0M747.9 1944.5h0M757.6 1960h0M949.5 1945.5h0M909.1 1937.6h0M915 1945.3h0M951.8 1932.4h0M1038.9 1948.2h0M1139.3 1965.8h0M760.5 1965.4h0M544.9 1998.3h0M1071.6 1941.6h0M544.9 2034.1h0M605.4 2007.3h0M679.1 1998.1h0M746.8 1950.6h0M481.6 2034.4h0M659.8 1995.9h0M947.9 1950.9h0M788.4 1960.5h0M664.4 1973.4h0M1143.7 1954.6h0M791.9 1947.5h0M1066.1 1937.6h0M894.7 1978.6h0M695 1953.4h0M479 2136.1h0M841.6 1958.6h0M609 2244h0M912.3 1937.1h0M540.4 2012.8h0M937 1933.4h0M932 1937.1h0M862.6 1982.5h0M1030.9 1932.7h0M566.9 1987.5h0M943 1945.8h0M827 1946.1h0M811.1 1961.9h0M779.2 1959.8h0M733.3 1950.4h0M432.5 2187.8h0M783.3 1943.1h0M889.8 1942h0M815.5 1955.5h0M643.1 2000.7h0M748.5 1957.2h0M853.6 1937.5h0M935.8 1988.5h0M1002.8 1991.8h0M1193.5 1945.2h0M554.3 1989.2h0M555.7 2089.1h0M621.3 1977.9h0M592.1 1973.6h0M908.9 1933.2h0M865.1 1937.1h0M591.7 1978.5h0M815.4 1954.1h0M780.8 2042.4h0M620.9 2141.9h0M691.2 1969.7h0M1196.3 1981.6h0M987.6 1938.2h0M784.7 1947h0M581 2086.5h0M691.6 1962h0M661.7 1985.8h0M504.2 2047.9h0M531.5 2053.8h0M922.5 1931.7h0M1160.1 1945.9h0M594 2154.2h0M901.2 1945.2h0M1129.5 1942.5h0M769.7 1953.8h0M546.3 2004.5h0M737 1953.4h0M1261.2 1948.5h0M509.6 2010.1h0M555.3 2030.7h0M806.7 1945.2h0M1074.2 1922.5h0M721 1947.4h0M598.3 2098h0M781.6 1945.6h0M589.4 2034.4h0M891.1 2037.1h0M594.7 1991.9h0M601.2 1979h0M567.6 2010.1h0M541.8 2002.1h0M594.7 2029.6h0M924.6 1931.5h0M1015.2 1946.8h0M936.3 1933.2h0M717.5 1946.8h0M1046.8 1931.2h0M564.4 2002.5h0M562.2 2018.5h0M1176.7 1939.4h0M807.3 1948.7h0M744.5 1946.1h0M935.1 1947.4h0M614.1 1988h0M841.9 2006h0M780.1 1959.4h0M918.9 1955.8h0M505.6 2036.2h0M441.9 2069.6h0M564.2 2007h0M745.4 2058.2h0M720.3 1964.1h0M521.2 2016.9h0M836.5 1953.8h0M600 1973.3h0M413.6 2072.4h0M762.1 1944.4h0M779.8 1947.8h0M1073.8 1924.6h0M856 2187h0M772.5 1951h0M1081.5 1942.6h0M927 2003.3h0M900.3 1944.5h0M988.3 1930.4h0M958.1 1948.1h0M491.9 2037.7h0M886.7 1947.9h0M842.8 1948.2h0M949.1 1946.5h0M668.8 1961.9h0M683.1 2018.2h0M1019.9 1934.5h0M864.8 1937.8h0M523.4 2006.6h0M493 2104.3h0M836.9 1938.8h0M804.7 1941.7h0M872 1958.4h0M908.7 2005.7h0M650.6 2047.7h0M831.5 1942.8h0M1017.7 1927.3h0M586.8 2018.2h0M840.4 1946.8h0M686.2 1954.6h0M1110.2 1947.7h0M908.3 1940.4h0M594.7 1983.2h0M611.9 1991.4h0M753.8 2042.9h0M945 1933h0M602.5 2078h0M1008.4 1930.9h0M776 2023.1h0M473.9 2027h0M541.2 2009.2h0M1010.9 1931.1h0M1052.3 1931.4h0M506.6 2292.4h0M569.8 1980.9h0M538.3 2019.2h0M785.4 1945h0M653.1 1972.8h0M963.2 1936.3h0M953.7 1929.7h0M978.4 1935.6h0M854.4 1944.4h0M522 2024.4h0M715.2 1953.9h0M1078 1926.9h0M1091.7 1923.6h0M594.8 1974.2h0M853.2 1941.5h0M420.9 2053.3h0M880.2 1949.6h0M534.2 2027.5h0M754.1 1949.8h0M799.1 1957.9h0M763.1 1945.2h0M786.7 1954.9h0M533.8 2017.4h0M757.5 1955.4h0M500.9 2048.3h0M717.6 1966.9h0M1131.4 1940.1h0M530.2 2023.2h0M878.8 1947.6h0M552.6 2017.3h0M681.7 2005h0M790.1 1948.4h0M517.6 2040.8h0M938.6 1933.4h0M414.2 2070.3h0M883.1 1939.1h0M919.1 1933.8h0" stroke="#0000FF" stroke-width="8.4" opacity="0.5"/>
<path stroke-linecap="round" d="M1057.5 1946.4h0M577.9 2003.1h0M838.4 2055.7h0M1022.7 1938.1h0M693.6 1973.6h0M542.7 2047.8h0M790.8 1975.2h0M569.2 1981.9h0M890.7 1945.7h0M475.9 2056.3h0M741.8 1946.1h0M571.5 1988.6h0M495.8 2045.3h0M905.3 1944.5h0M671 2101.9h0M830 1939.9h0M828 1941.8h0M543.8 2047.5h0M567.2 2108.5h0M884.6 1948.7h0M965.9 1934.6h0M672 2308h0M696.6 1951.3h0M943.5 1935.9h0M576.8 2011h0M940 2123.5h0M647.4 2013.4h0M883 1943.7h0M523.6 2008.1h0M722.1 1947.8h0M1210.7 1942.6h0M1018.6 1947.1h0M857.2 1942.1h0M894.7 1939.6h0M706.6 1948.2h0M1276.4 1935.1h0M676.3 2131.2h0M550.2 1997.5h0M1102.5 1933.2h0M533 2329h0M562.4 2068.1h0M1110.3 1928.7h0M989.6 1946.2h0M491.1 2064.8h0M856.8 1942.3h0M867.7 1936.9h0M718.7 1953.2h0M714 1947.8h0M632.2 2007h0M850.3 1940.4h0M511.6 2016.1h0M853.7 1963.4h0M990.7 1929.9h0M437.5 2074.1h0M598 1988.6h0M858.6 1963.3h0M785 1957.5h0M647 1959.5h0M703.8 2071.5h0M742.8 1949.2h0M946.2 1930.6h0M597.4 1985.9h0M584.9 1974.1h0M1108.4 1975.4h0M792.5 1956.8h0M889.9 1936.6h0M956.9 1987.3h0M864.3 1955.4h0M381 2290.8h0M973.9 1937.4h0M990.8 1929.8h0M902.5 1970.7h0M1041.9 1924.5h0M730 1963.4h0M818.8 1951.6h0M570.4 1980.6h0M823.4 1941.9h0M549.5 2039.2h0M774.8 1973h0M998.4 1926.9h0M714.2 1955.8h0M876.7 1962.1h0M940.5 1934.8h0M773.5 1982.7h0M1015.3 2115h0M1040.3 1932.1h0M788.2 1981.2h0M542.9 2219h0M870.5 1937.6h0M717.3 1949h0M751.5 1948.9h0M847.8 2069.9h0M540.6 2018.1h0M575.1 1996.6h0M902.2 1955.9h0M767.1 1947.6h0M950 1929.8h0M492 2080.6h0M548.5 1994.5h0M650.2 1957.9h0M791.7 1945.1h0M941.4 1970.6h0M539.5 2002.6h0M708.1 1947.4h0M1037.4 1939.3h0M822.7 1943.8h0M911.3 1934.1h0M779.4 1944.9h0M642.9 1969h0M1042.4 1924.4h0M1070.4 1925.1h0M824.8 1998.6h0M810.7 1955.8h0M416.9 2127.2h0M916 1949.4h0M711.8 1971h0M864.6 1942.7h0M854.9 1938.4h0M574.8 2002.5h0M816.5 1970h0M919.9 2005.2h0M889.1 1955.6h0M452.5 2091.5h0M734.4 1962.5h0M582.7 2186.3h0M785.7 2005.1h0M1070.6 1930.1h0M776 1946.5h0M592.3 1971.8h0M776 1944.9h0M1243 1948.4h0M678.5 1998.7h0M565 2101.3h0M622.8 1974.9h0M616.4 1968.9h0M714.2 1992h0M1130.1 1947.9h0M992.3 1931.5h0M1044.7 1924.5h0M839.4 1955.2h0M546.7 2001.1h0M1026.9 1927.7h0M815.1 1947.3h0M917.8 1941.4h0M588.1 1986.7h0M1251.8 1952.5h0M872.9 1991.3h0M805.3 1965.3h0M856.8 1937.2h0M603.2 1974.4h0M1330 1946.7h0M873.3 1942.5h0M598.1 2048.1h0M1194.3 1958h0M649.3 1960.4h0M966.8 1943h0M991.2 1929.1h0M889 1935.9h0M388.6 2090.8h0M773.5 1944.5h0M1215 1975h0M847.9 1971.8h0M932.4 1952.6h0M903.5 1933.9h0M829.6 1942.1h0M568.5 1980.6h0M1204.2 1932.7h0M660.8 1975.6h0M904.5 1959.5h0M894.4 1936.3h0M1028.8 1932.1h0M1022.4 1925.9h0M972 1944.6h0M895.7 1957.9h0M1029.8 1931.6h0M765.9 1958.1h0M569.1 1986.1h0M755.7 1963.6h0M657.3 1962.7h0M917 1937.3h0M616.4 1977.1h0M398.3 2103.8h0M511 2112h0M802.2 1950.6h0M576.4 1998.9h0M935.6 1933.7h0M602.7 2012.5h0M616.3 1986.9h0M687.5 2021.8h0M1027.9 1951.8h0M840.5 1948.1h0M1246.2 1952.1h0M784.5 1944.2h0M707.1 1949.4h0M1086.9 1960.6h0M503.8 2027.7h0M599.7 1996.6h0M874.1 1943.4h0M403 2226.8h0M995.5 1926.9h0M944.5 1936.6h0M540.9 2003h0M1269.2 1940.6h0M495 2042.2h0M566.3 2022.3h0M772.4 1953.7h0M696.3 1973.9h0M599.8 1973.6h0M585.3 1984.5h0M992.3 1929.5h0M818.8 1978.8h0M580.9 1980.4h0M685.6 1960h0M672.8 1960.4h0M445.9 2282h0M802 2017.8h0M466 2091h0M828.7 1941h0M1079 1925.2h0M592.2 1977.4h0M921.9 1969h0M839.5 1943.4h0M776.5 1965.3h0M939.6 1945.9h0M532.8 2064.7h0M981.7 1951.1h0M1017.8 1946.6h0M882.5 1936.4h0M630.4 2165.1h0M736.1 1961.6h0M486.4 2116.4h0M711.2 1949.7h0M643.9 2056.6h0M696 1955.6h0M821.9 1966.7h0M1045.6 1924h0M887.7 1987.7h0M943.7 1934.5h0M719.5 1948h0M631.6 1971.6h0M856.5 1948.6h0M648.1 1997.3h0M715.7 1977h0M604.8 1986h0M800.3 1969.7h0M663.7 1959.1h0M1395 2003h0M605.2 1992.9h0M510.2 2153.5h0M1060.8 1986.3h0M817 1973.1h0M469.9 2032h0M1021.7 1957h0M883.5 1945h0M1172.1 1945.5h0M417.3 2085.5h0M1183 1944.3h0M815 1945.7h0M413.1 2157.5h0" stroke="#0000FF" stroke-width="8.4" opacity="0.5"/>
<path stroke-linecap="round" d="M761 1748.7h0M733 1857.7h0M776 1877.8h0M1082 1862.7h0M1008.8 1973.3h0M976.2 1935.2h0" stroke="#000" stroke-width="8" opacity="1"/>
<g stroke="#000" stroke-width="2.1" fill="none" stroke-linecap="butt">
<path d="M797.2 1627.2L761 1748.7"/>
<path d="M850 1675L733 1857.7"/>
<path d="M955.4 1747.2L776 1877.8"/>
<path d="M1129.9 1842.6L1082 1862.7"/>
<path d="M674.2 2191.3L765.6 1953.7"/>
<path d="M892.7 2244L829.9 1947.7"/>
<path d="M1097.2 2054.2L1008.8 1973.3"/>
<path d="M1085.7 2168.7L976.2 1935.2"/>
</g>
<g font-family='"Liberation Sans", Arial, sans-serif' font-size="59.7" fill="#000">
<text transform="translate(660 1604.6) scale(1 1.04)">CDKN1A</text>
<text transform="translate(848 1677) scale(1 1.04)">CCNE2</text>
<text transform="translate(953.5 1759.5) scale(1 1.04)">BTG3</text>
<text transform="translate(1132 1856.5) scale(1 1.04)">CDK6</text>
<text transform="translate(609.5 2237.3) scale(1 1.04)">CUL4A</text>
<text transform="translate(828.5 2299.2) scale(1 1.04)">PTEN</text>
<text transform="translate(1090 2099.2) scale(1 1.04)">CDC42</text>
<text transform="translate(1041.5 2221.3) scale(1 1.04)">TXNIP</text>
</g>
<g stroke="#000" stroke-width="8" fill="none">
<path d="M1594.3 1482.5H311.7V2340H1594.3"/>
<path d="M276 1482.4H311.7"/>
<path d="M276 1589.6H311.7"/>
<path d="M276 1696.8H311.7"/>
<path d="M276 1804H311.7"/>
<path d="M276 1911.2H311.7"/>
<path d="M276 2018.4H311.7"/>
<path d="M276 2125.6H311.7"/>
<path d="M276 2232.8H311.7"/>
<path d="M276 2340H311.7"/>
<path d="M446 2340V2376.5"/>
<path d="M690.9 2340V2376.5"/>
<path d="M935.8 2340V2376.5"/>
<path d="M1180.7 2340V2376.5"/>
<path d="M1425.6 2340V2376.5"/>
</g>
<g font-family='"Liberation Sans", Arial, sans-serif' font-weight="700" font-size="60" fill="#000">
<text transform="translate(265.8 1503.9) scale(1 1.04)" text-anchor="end">8</text>
<text transform="translate(265.8 1611.1) scale(1 1.04)" text-anchor="end">6</text>
<text transform="translate(265.8 1718.3) scale(1 1.04)" text-anchor="end">4</text>
<text transform="translate(265.8 1825.5) scale(1 1.04)" text-anchor="end">2</text>
<text transform="translate(265.8 1932.7) scale(1 1.04)" text-anchor="end">0</text>
<text transform="translate(265.8 2039.9) scale(1 1.04)" text-anchor="end">−2</text>
<text transform="translate(265.8 2147.1) scale(1 1.04)" text-anchor="end">−4</text>
<text transform="translate(265.8 2254.3) scale(1 1.04)" text-anchor="end">−6</text>
<text transform="translate(265.8 2361.5) scale(1 1.04)" text-anchor="end">−8</text>
<text transform="translate(446 2443.5) scale(1 1.04)" text-anchor="middle">1</text>
<text transform="translate(690.9 2443.5) scale(1 1.04)" text-anchor="middle">2</text>
<text transform="translate(935.8 2443.5) scale(1 1.04)" text-anchor="middle">3</text>
<text transform="translate(1180.7 2443.5) scale(1 1.04)" text-anchor="middle">4</text>
<text transform="translate(1425.6 2443.5) scale(1 1.04)" text-anchor="middle">5</text>
</g>
<text transform="translate(134 1917) rotate(-90)" text-anchor="middle" font-family='"Liberation Sans", Arial, sans-serif' font-weight="700" font-size="58.5" fill="#000">log2FoldChange</text>
<text x="959" y="2532.5" text-anchor="middle" font-family='"Liberation Sans", Arial, sans-serif' font-weight="700" font-size="58.5" fill="#000">log10BaseMean</text>
<text transform="translate(949.2 1439.8) scale(1 1.04)" text-anchor="middle" font-family='"Liberation Sans", Arial, sans-serif' font-weight="700" font-size="74.5" fill="#000">ST3</text>
<path d="M1594.4 1542.5V1911.2" stroke="#E04B4E" stroke-width="10.6" fill="none"/>
<path d="M1594.4 1911.2V2280" stroke="#3D22B4" stroke-width="10.6" fill="none"/>
<path d="M1594.4 1478L1622.1 1572.5L1594.4 1552.5L1566.7 1572.5Z" fill="#E04B4E"/>
<path d="M1594.4 2342L1622.1 2249.5L1594.4 2273.5L1566.7 2249.5Z" fill="#3D22B4"/>
<text transform="translate(1680.8 1695) rotate(-90) scale(1 1.04)" text-anchor="middle" font-family='"Liberation Sans", Arial, sans-serif' font-weight="700" font-size="60" fill="#E04B4E" textLength="79.5" lengthAdjust="spacingAndGlyphs">UP</text>
<text transform="translate(1680 2127.6) rotate(-90) scale(1 1.04)" text-anchor="middle" font-family='"Liberation Sans", Arial, sans-serif' font-weight="700" font-size="60" fill="#3D22B4" textLength="183.8" lengthAdjust="spacingAndGlyphs">DOWN</text>
<!-- ============ panel letters ============ -->
<g font-family='"DejaVu Sans", "Liberation Sans", sans-serif' font-size="117.5" fill="#000">
<text x="41" y="115">A</text>
<text x="30.3" y="2781.8">B</text>
<text x="910.8" y="2779.8">C</text>
</g>
<!-- ============ panel B : bar chart ============ -->
<path d="M389.3 2785H456.1L389.3 2816.6Z" fill="#FF66C0"/>
<path d="M456.1 2785V2816.6H389.3Z" fill="#E05050"/>
<path d="M389.3 2785H456.1V2816.6H389.3ZM389.3 2816.6L456.1 2785" stroke="#000" stroke-width="4.2" stroke-linejoin="miter"/>
<text x="468.5" y="2818.5" font-family='"Liberation Sans", Arial, sans-serif' font-size="50.8" fill="#000">UP</text>
<path d="M605.5 2785H672.3L605.5 2816.6Z" fill="#8379E0"/>
<path d="M672.3 2785V2816.6H605.5Z" fill="#4124B4"/>
<path d="M605.5 2785H672.3V2816.6H605.5ZM605.5 2816.6L672.3 2785" stroke="#000" stroke-width="4.2" stroke-linejoin="miter"/>
<text x="695.3" y="2818.5" font-family='"Liberation Sans", Arial, sans-serif' font-size="50.8" fill="#000">DOWN</text>
<g stroke="#000" stroke-width="7.6">
<path d="M249.2 2891.2H279.7V3613.9H851"/>
<path d="M249.2 3613.9H279.7"/>
<path d="M249.2 3469.3H279.7"/>
<path d="M249.2 3324.8H279.7"/>
<path d="M249.2 3180.2H279.7"/>
<path d="M249.2 3035.7H279.7"/>
<path d="M415.5 3613.9V3643.6"/>
<path d="M711 3613.9V3643.6"/>
</g>
<g font-family='"Liberation Sans", Arial, sans-serif' font-weight="700" font-size="54.5" fill="#000" text-anchor="end">
<text transform="translate(241 3635.2) scale(1 1.04)">0</text>
<text transform="translate(241 3490.7) scale(1 1.04)">250</text>
<text transform="translate(241 3346.1) scale(1 1.04)">500</text>
<text transform="translate(241 3201.6) scale(1 1.04)">750</text>
<text transform="translate(241 3057) scale(1 1.04)">1000</text>
<text transform="translate(241 2912.5) scale(1 1.04)">1250</text>
</g>
<text transform="translate(88 3252.6) rotate(-90)" text-anchor="middle" font-family='"Liberation Sans", Arial, sans-serif' font-weight="700" font-size="60" fill="#000">Number of DEG</text>
<g font-family='"Liberation Sans", Arial, sans-serif' font-weight="700" font-size="57.5" fill="#000" text-anchor="middle">
<text transform="translate(417.6 3700.5) scale(1 1.04)">HSC</text>
<text transform="translate(713 3700.5) scale(1 1.04)">ST3</text>
</g>
<rect x="309.6" y="3520.9" width="88.4" height="91.6" fill="#FF66C0" stroke="#000" stroke-width="10.5"/>
<rect x="433.8" y="3502.4" width="87.7" height="110.1" fill="#8379E0" stroke="#000" stroke-width="10.5"/>
<rect x="606.1" y="3139.8" width="87.3" height="472.6" fill="#E05050" stroke="#000" stroke-width="10.5"/>
<rect x="729.5" y="3030.5" width="87.7" height="581.9" fill="#4124B4" stroke="#000" stroke-width="10.5"/>
<path d="M275.9 3613.9H851" stroke="#000" stroke-width="7.6"/>
<g font-family='"Liberation Sans", Arial, sans-serif' font-size="54" fill="#000" text-anchor="middle">
<text transform="translate(352.9 3503.9) scale(1 1.04)">170</text>
<text transform="translate(476.6 3482.6) scale(1 1.04)">202</text>
<text transform="translate(648.8 3125.1) scale(1 1.04)">829</text>
<text transform="translate(772.3 3011.1) scale(1 1.04)">1018</text>
</g>
<!-- ============ panel C : venn ============ -->
<path d="M1383.3 2785H1450.1L1383.3 2816.6Z" fill="#FF66C0"/>
<path d="M1450.1 2785V2816.6H1383.3Z" fill="#E05050"/>
<path d="M1383.3 2785H1450.1V2816.6H1383.3ZM1383.3 2816.6L1450.1 2785" stroke="#000" stroke-width="4.2" stroke-linejoin="miter"/>
<text x="1462.5" y="2818.5" font-family='"Liberation Sans", Arial, sans-serif' font-size="50.8" fill="#000">UP</text>
<path d="M1599.5 2785H1666.3L1599.5 2816.6Z" fill="#8379E0"/>
<path d="M1666.3 2785V2816.6H1599.5Z" fill="#4124B4"/>
<path d="M1599.5 2785H1666.3V2816.6H1599.5ZM1599.5 2816.6L1666.3 2785" stroke="#000" stroke-width="4.2" stroke-linejoin="miter"/>
<text x="1689.3" y="2818.5" font-family='"Liberation Sans", Arial, sans-serif' font-size="50.8" fill="#000">DOWN</text>
<ellipse cx="1527.5" cy="3000" rx="311" ry="106.4" fill="#9A90E5" stroke="#262626" stroke-width="8.8"/>
<ellipse cx="1527.5" cy="3380.4" rx="310.9" ry="105.3" fill="#FF88CC" stroke="#625a5e" stroke-width="8.6"/>
<ellipse cx="1327.6" cy="3189.2" rx="110.8" ry="301.3" fill="#3A1CB2" fill-opacity="0.84" stroke="#15122e" stroke-opacity="0.75" stroke-width="8.2"/>
<ellipse cx="1726" cy="3196.8" rx="110" ry="299.9" fill="#DF4B4B" fill-opacity="0.74" stroke="#1a1a1a" stroke-opacity="0.78" stroke-width="8.2"/>
<clipPath id="cpd"><ellipse cx="1327.6" cy="3189.2" rx="106" ry="296.5"/></clipPath>
<g clip-path="url(#cpd)"><ellipse cx="1527.5" cy="3000" rx="305.8" ry="101.2" fill="#0000AA" fill-opacity="0.13"/><ellipse cx="1527.5" cy="3380.4" rx="306" ry="100.4" fill="#640096" fill-opacity="0.22"/></g>
<g font-family='"Liberation Sans", Arial, sans-serif' font-weight="700" font-size="63" fill="#fff" text-anchor="middle">
<text transform="translate(1327.9 3024.4) scale(1 1.04)">93</text>
<text transform="translate(1528.3 3024.4) scale(1 1.04)">106</text>
<text transform="translate(1726 3024.4) scale(1 1.04)">3</text>
<text transform="translate(1327.9 3207.5) scale(1 1.04)">923</text>
<text transform="translate(1726 3207.5) scale(1 1.04)">748</text>
<text transform="translate(1327.9 3403.5) scale(1 1.04)">2</text>
<text transform="translate(1528.3 3403.5) scale(1 1.04)">90</text>
<text transform="translate(1726 3403.5) scale(1 1.04)">78</text>
</g>
<g font-family='"Liberation Sans", Arial, sans-serif' font-weight="700" font-size="54.3" fill="#000" text-anchor="middle">
<text x="1022.6" y="2977.3">HSC Down</text><text transform="translate(1023 3050.7) scale(1 1.04)">(202)</text>
<text x="1022" y="3369">HSC Up</text><text transform="translate(1023 3443.6) scale(1 1.04)">(170)</text>
</g>
<g font-family='"Liberation Sans", Arial, sans-serif' font-weight="700" fill="#000" text-anchor="middle">
<text x="1339.5" y="3607.7" font-size="58.4">ST3 Down</text><text transform="translate(1328 3682) scale(1 1.04)" font-size="54.5">(1018)</text>
<text x="1733" y="3607.7" font-size="58.4">ST3 Up</text><text transform="translate(1726 3682) scale(1 1.04)" font-size="54.5">(829)</text>
</g>
</svg>
</body></html>
